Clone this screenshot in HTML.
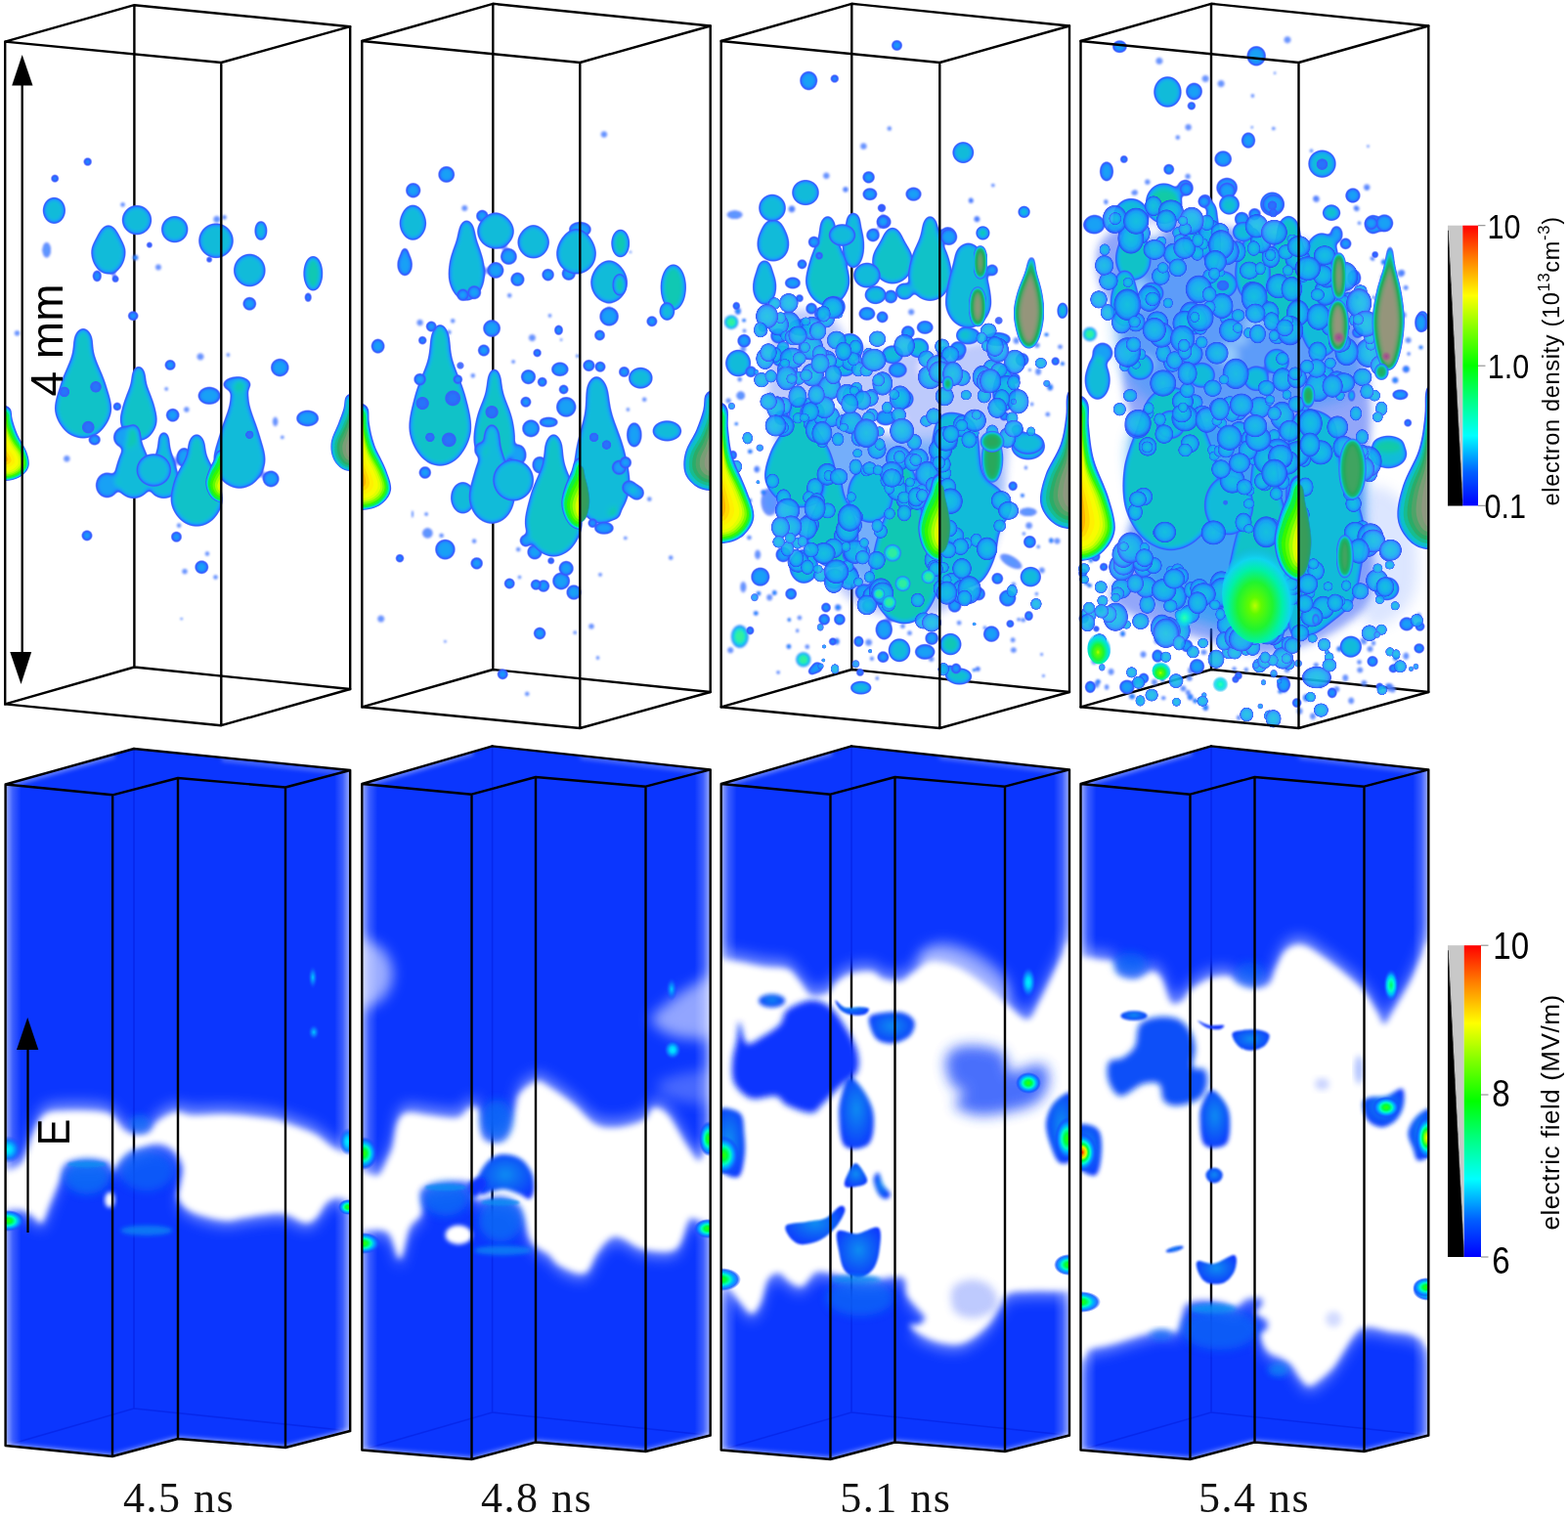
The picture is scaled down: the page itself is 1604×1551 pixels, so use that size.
<!DOCTYPE html>
<html lang="en"><head><meta charset="utf-8"><title>Electron density and electric field</title>
<style>
html,body{margin:0;padding:0;background:#fff;}
body{width:1604px;height:1551px;overflow:hidden;font-family:"Liberation Sans",sans-serif;}
svg{display:block;}
.w{fill:none;stroke:#000;stroke-width:2.4;stroke-linejoin:round;stroke-linecap:round;}
.ts{font-family:"Liberation Serif",serif;font-size:44px;fill:#111;}
.ta{font-family:"Liberation Sans",sans-serif;fill:#000;}
</style></head><body>
<svg width="1604" height="1551" viewBox="0 0 1604 1551">
<defs>

<linearGradient id="rb" x1="0" y1="1" x2="0" y2="0">
<stop offset="0" stop-color="#0000ff"/>
<stop offset="0.12" stop-color="#0060ff"/>
<stop offset="0.25" stop-color="#00ffff"/>
<stop offset="0.38" stop-color="#00ff80"/>
<stop offset="0.5" stop-color="#00ff00"/>
<stop offset="0.63" stop-color="#80ff00"/>
<stop offset="0.75" stop-color="#ffff00"/>
<stop offset="0.88" stop-color="#ff8000"/>
<stop offset="1" stop-color="#ff0000"/>
</linearGradient>
<linearGradient id="efl" x1="0" y1="0" x2="1" y2="0"><stop offset="0" stop-color="#000" stop-opacity="0.6"/><stop offset="0.12" stop-color="#000" stop-opacity="0.55"/><stop offset="0.5" stop-color="#000" stop-opacity="0.2"/><stop offset="1" stop-color="#000" stop-opacity="0"/></linearGradient>
<linearGradient id="efr" x1="1" y1="0" x2="0" y2="0"><stop offset="0" stop-color="#000" stop-opacity="0.6"/><stop offset="0.12" stop-color="#000" stop-opacity="0.55"/><stop offset="0.5" stop-color="#000" stop-opacity="0.2"/><stop offset="1" stop-color="#000" stop-opacity="0"/></linearGradient>
<filter id="bl05" x="-5%" y="-5%" width="110%" height="110%"><feGaussianBlur stdDeviation="0.6"/></filter>
<filter id="bl08" x="-5%" y="-5%" width="110%" height="110%"><feGaussianBlur stdDeviation="0.9"/></filter>
<filter id="bl1" x="-30%" y="-30%" width="160%" height="160%"><feGaussianBlur stdDeviation="1"/></filter>
<filter id="bl3" x="-30%" y="-30%" width="160%" height="160%"><feGaussianBlur stdDeviation="3"/></filter>
<filter id="bl2" x="-30%" y="-30%" width="160%" height="160%"><feGaussianBlur stdDeviation="2"/></filter>
<filter id="bl4" x="-30%" y="-30%" width="160%" height="160%"><feGaussianBlur stdDeviation="4"/></filter>
<filter id="bl7" x="-30%" y="-30%" width="160%" height="160%"><feGaussianBlur stdDeviation="7"/></filter>

<radialGradient id="bb" cx="0.5" cy="0.45" r="0.6">
<stop offset="0" stop-color="#0a8cf2"/><stop offset="0.5" stop-color="#0b60f6"/><stop offset="1" stop-color="#1236ff"/>
</radialGradient>
<radialGradient id="hc"><stop offset="0" stop-color="#00f0ff"/><stop offset="0.3" stop-color="#00d0ff"/><stop offset="0.65" stop-color="#0a78ff" stop-opacity="0.9"/><stop offset="1" stop-color="#1040ff" stop-opacity="0"/></radialGradient>
<radialGradient id="hc2"><stop offset="0" stop-color="#00c8ff"/><stop offset="0.5" stop-color="#0a78ff" stop-opacity="0.8"/><stop offset="1" stop-color="#1040ff" stop-opacity="0"/></radialGradient>
<radialGradient id="hg"><stop offset="0" stop-color="#30ff00"/><stop offset="0.25" stop-color="#00ff40"/><stop offset="0.45" stop-color="#00ffc0"/><stop offset="0.62" stop-color="#00b0ff"/><stop offset="0.82" stop-color="#1060ff" stop-opacity="0.9"/><stop offset="1" stop-color="#1040ff" stop-opacity="0"/></radialGradient>
<radialGradient id="hg2"><stop offset="0" stop-color="#00ff60"/><stop offset="0.35" stop-color="#00ffd0"/><stop offset="0.6" stop-color="#00b0ff"/><stop offset="1" stop-color="#1040ff" stop-opacity="0"/></radialGradient>
<radialGradient id="hy"><stop offset="0" stop-color="#ffff00"/><stop offset="0.2" stop-color="#a0ff00"/><stop offset="0.4" stop-color="#00ff40"/><stop offset="0.55" stop-color="#00ffd0"/><stop offset="0.7" stop-color="#00a0ff"/><stop offset="0.85" stop-color="#1060ff" stop-opacity="0.9"/><stop offset="1" stop-color="#1040ff" stop-opacity="0"/></radialGradient>
<radialGradient id="hr"><stop offset="0" stop-color="#ff2000"/><stop offset="0.15" stop-color="#ffb000"/><stop offset="0.28" stop-color="#e0ff00"/><stop offset="0.42" stop-color="#00ff40"/><stop offset="0.56" stop-color="#00ffd0"/><stop offset="0.7" stop-color="#00a0ff"/><stop offset="0.85" stop-color="#1060ff" stop-opacity="0.9"/><stop offset="1" stop-color="#1040ff" stop-opacity="0"/></radialGradient>

<radialGradient id="fs"><stop offset="0" stop-color="#3e84ff"/><stop offset="0.4" stop-color="#4a80ff"/><stop offset="0.7" stop-color="#5a80ff" stop-opacity="0.85"/><stop offset="1" stop-color="#5a80ff" stop-opacity="0"/></radialGradient>
<radialGradient id="fm"><stop offset="0" stop-color="#3e84ff"/><stop offset="0.38" stop-color="#3e84ff"/><stop offset="0.66" stop-color="#4a80ff"/><stop offset="0.86" stop-color="#5a80ff"/><stop offset="1" stop-color="#5a80ff" stop-opacity="0"/></radialGradient>
<radialGradient id="bs"><stop offset="0" stop-color="#1a9cfc"/><stop offset="0.4" stop-color="#2088ff"/><stop offset="0.7" stop-color="#3a60ff" stop-opacity="0.85"/><stop offset="1" stop-color="#3a60ff" stop-opacity="0"/></radialGradient>
<radialGradient id="bm"><stop offset="0" stop-color="#1a9cfc"/><stop offset="0.38" stop-color="#1a9cfc"/><stop offset="0.66" stop-color="#2088ff"/><stop offset="0.86" stop-color="#3a60ff"/><stop offset="1" stop-color="#3a60ff" stop-opacity="0"/></radialGradient>
<radialGradient id="cs"><stop offset="0" stop-color="#0cc4c0"/><stop offset="0.4" stop-color="#14a8f0"/><stop offset="0.7" stop-color="#3458ff" stop-opacity="0.85"/><stop offset="1" stop-color="#3458ff" stop-opacity="0"/></radialGradient>
<radialGradient id="cm"><stop offset="0" stop-color="#0cc4c0"/><stop offset="0.38" stop-color="#0cc4c0"/><stop offset="0.66" stop-color="#14a8f0"/><stop offset="0.86" stop-color="#3458ff"/><stop offset="1" stop-color="#3458ff" stop-opacity="0"/></radialGradient>
<radialGradient id="ks"><stop offset="0" stop-color="#2a6cff"/><stop offset="0.4" stop-color="#3060ff"/><stop offset="0.7" stop-color="#3a58ff" stop-opacity="0.85"/><stop offset="1" stop-color="#3a58ff" stop-opacity="0"/></radialGradient>
<radialGradient id="km"><stop offset="0" stop-color="#2a6cff"/><stop offset="0.38" stop-color="#2a6cff"/><stop offset="0.66" stop-color="#3060ff"/><stop offset="0.86" stop-color="#3a58ff"/><stop offset="1" stop-color="#3a58ff" stop-opacity="0"/></radialGradient>
<radialGradient id="hs"><stop offset="0" stop-color="#30f0a0"/><stop offset="0.4" stop-color="#10d8e8"/><stop offset="0.7" stop-color="#2a80ff" stop-opacity="0.85"/><stop offset="1" stop-color="#2a80ff" stop-opacity="0"/></radialGradient>
<radialGradient id="hm"><stop offset="0" stop-color="#30f0a0"/><stop offset="0.38" stop-color="#30f0a0"/><stop offset="0.66" stop-color="#10d8e8"/><stop offset="0.86" stop-color="#2a80ff"/><stop offset="1" stop-color="#2a80ff" stop-opacity="0"/></radialGradient>
<radialGradient id="ds"><stop offset="0" stop-color="#1aa6f8"/><stop offset="0.5" stop-color="#1e98fc"/><stop offset="0.78" stop-color="#2c5cff" stop-opacity="0.9"/><stop offset="1" stop-color="#3050ff" stop-opacity="0"/></radialGradient>
<radialGradient id="dm"><stop offset="0" stop-color="#12c0e0"/><stop offset="0.5" stop-color="#16b2ee"/><stop offset="0.74" stop-color="#1c98fa"/><stop offset="0.87" stop-color="#2468ff"/><stop offset="0.95" stop-color="#2a48f6"/><stop offset="1" stop-color="#2a48f6" stop-opacity="0"/></radialGradient>
<radialGradient id="HG" cx="0.45" cy="0.62" r="0.6"><stop offset="0" stop-color="#b8ff00"/><stop offset="0.14" stop-color="#60fa00"/><stop offset="0.4" stop-color="#20f430"/><stop offset="0.62" stop-color="#00f0a8"/><stop offset="0.8" stop-color="#10d4f0"/><stop offset="1" stop-color="#18b0f0" stop-opacity="0"/></radialGradient>
<radialGradient id="HC" cx="0.5" cy="0.5" r="0.5"><stop offset="0" stop-color="#30ffb0"/><stop offset="0.35" stop-color="#10f0d0"/><stop offset="0.7" stop-color="#10d0f0" stop-opacity="0.8"/><stop offset="1" stop-color="#18b0f0" stop-opacity="0"/></radialGradient>
<radialGradient id="MG"><stop offset="0" stop-color="#a04890"/><stop offset="0.5" stop-color="#a06088" stop-opacity="0.8"/><stop offset="1" stop-color="#909080" stop-opacity="0"/></radialGradient>
<filter id="fc" x="-5%" y="-5%" width="110%" height="110%" color-interpolation-filters="sRGB"><feGaussianBlur in="SourceAlpha" stdDeviation="2.4" result="bl"/><feComponentTransfer in="bl" result="al"><feFuncA type="table" tableValues="0 0 0 0 0 0 0 0 0 0.0396 0.237 0.435 0.633 0.831 0.958 0.979 1 1 1 1 1 1 1 1 1 1 1 1 1 1 1 1 1 1 1 1 1 1 1 1 1"/></feComponentTransfer><feColorMatrix in="bl" type="matrix" values="0 0 0 1 0 0 0 0 1 0 0 0 0 1 0 0 0 0 0 1"/><feComponentTransfer><feFuncR type="table" tableValues="0.275 0.275 0.275 0.275 0.275 0.275 0.275 0.275 0.275 0.272 0.261 0.249 0.238 0.226 0.214 0.201 0.188 0.171 0.154 0.137 0.127 0.119 0.111 0.104 0.0988 0.0949 0.091 0.0871 0.0831 0.0792 0.0753 0.0714 0.0686 0.0662 0.0637 0.0627 0.0627 0.0627 0.0695 0.0779 0.0863"/><feFuncG type="table" tableValues="0.376 0.376 0.376 0.376 0.376 0.376 0.376 0.376 0.376 0.375 0.371 0.366 0.361 0.356 0.357 0.367 0.376 0.416 0.455 0.494 0.522 0.548 0.573 0.599 0.618 0.636 0.653 0.671 0.685 0.699 0.713 0.727 0.737 0.747 0.757 0.766 0.774 0.783 0.791 0.799 0.808"/><feFuncB type="table" tableValues="1 1 1 1 1 1 1 1 1 1 1 1 1 1 1 1 1 1 1 1 0.996 0.991 0.986 0.981 0.971 0.959 0.947 0.936 0.921 0.905 0.889 0.874 0.853 0.831 0.809 0.78 0.746 0.713 0.672 0.63 0.588"/></feComponentTransfer><feComposite in2="al" operator="in"/></filter>
<filter id="fh" x="-5%" y="-5%" width="110%" height="110%" color-interpolation-filters="sRGB"><feGaussianBlur in="SourceAlpha" stdDeviation="6" result="bl"/><feComponentTransfer in="bl" result="al"><feFuncA type="table" tableValues="0 0 0 0 0 0 0 0 0 0 0 0.297 0.594 0.891 0.97 0.995 1 1 1 1 1 1 1 1 1 1 1 1 1 1 1 1 1 1 1 1 1 1 1 1 1"/></feComponentTransfer><feColorMatrix in="bl" type="matrix" values="0 0 0 1 0 0 0 0 1 0 0 0 0 1 0 0 0 0 0 1"/><feComponentTransfer><feFuncR type="table" tableValues="0.275 0.275 0.275 0.275 0.275 0.275 0.275 0.275 0.275 0.275 0.275 0.257 0.24 0.223 0.163 0.0925 0.0471 0.00784 0.0112 0.0252 0.0392 0.0719 0.105 0.137 0.17 0.21 0.28 0.35 0.42 0.49 0.56 0.627 0.693 0.758 0.824 0.889 0.93 0.965 1 1 1"/><feFuncG type="table" tableValues="0.376 0.376 0.376 0.376 0.376 0.376 0.376 0.376 0.376 0.376 0.376 0.381 0.386 0.391 0.518 0.675 0.792 0.9 0.927 0.934 0.941 0.949 0.958 0.966 0.974 0.981 0.985 0.988 0.992 0.995 0.999 1 1 1 1 1 0.983 0.962 0.941 0.863 0.784"/><feFuncB type="table" tableValues="1 1 1 1 1 1 1 1 1 1 1 1 1 1 1 1 0.914 0.806 0.661 0.507 0.353 0.288 0.222 0.157 0.0915 0.0378 0.0308 0.0238 0.0168 0.0098 0.0028 0 0 0 0 0 0 0 0 0 0"/></feComponentTransfer><feComposite in2="al" operator="in"/></filter>
<filter id="fl" x="-5%" y="-5%" width="110%" height="110%" color-interpolation-filters="sRGB"><feGaussianBlur in="SourceAlpha" stdDeviation="4" result="bl"/><feComponentTransfer in="bl" result="al"><feFuncA type="table" tableValues="0 0 0 0 0 0 0 0 0 0 0 0.297 0.594 0.891 0.97 0.995 1 1 1 1 1 1 1 1 1 1 1 1 1 1 1 1 1 1 1 1 1 1 1 1 1"/></feComponentTransfer><feColorMatrix in="bl" type="matrix" values="0 0 0 1 0 0 0 0 1 0 0 0 0 1 0 0 0 0 0 1"/><feComponentTransfer><feFuncR type="table" tableValues="0.275 0.275 0.275 0.275 0.275 0.275 0.275 0.275 0.275 0.275 0.275 0.257 0.24 0.223 0.163 0.0925 0.0471 0.00784 0.00871 0.0196 0.0305 0.0441 0.0686 0.0931 0.118 0.142 0.167 0.191 0.245 0.306 0.368 0.429 0.49 0.551 0.613 0.674 0.735 0.797 0.858 0.919 0.98"/><feFuncG type="table" tableValues="0.376 0.376 0.376 0.376 0.376 0.376 0.376 0.376 0.376 0.376 0.376 0.381 0.386 0.391 0.518 0.675 0.792 0.9 0.93 0.941 0.952 0.962 0.968 0.974 0.98 0.987 0.993 0.999 1 1 1 1 1 1 1 1 1 1 1 1 1"/><feFuncB type="table" tableValues="1 1 1 1 1 1 1 1 1 1 1 1 1 1 1 1 0.914 0.806 0.662 0.51 0.357 0.228 0.191 0.154 0.118 0.0809 0.0441 0.00735 0 0 0 0 0 0 0 0 0 0 0 0 0"/></feComponentTransfer><feComposite in2="al" operator="in"/></filter>
<filter id="fo" x="-5%" y="-5%" width="110%" height="110%" color-interpolation-filters="sRGB"><feGaussianBlur in="SourceAlpha" stdDeviation="3.5" result="bl"/><feComponentTransfer in="bl" result="al"><feFuncA type="table" tableValues="0 0 0 0 0 0 0 0 0 0 0 0.297 0.594 0.891 0.964 0.982 1 1 1 1 1 1 1 1 1 1 1 1 1 1 1 1 1 1 1 1 1 1 1 1 1"/></feComponentTransfer><feColorMatrix in="bl" type="matrix" values="0 0 0 1 0 0 0 0 1 0 0 0 0 1 0 0 0 0 0 1"/><feComponentTransfer><feFuncR type="table" tableValues="0.275 0.275 0.275 0.275 0.275 0.275 0.275 0.275 0.275 0.275 0.275 0.257 0.24 0.223 0.184 0.139 0.0941 0.0843 0.0745 0.0647 0.0659 0.0698 0.0737 0.0776 0.0896 0.104 0.118 0.132 0.146 0.165 0.204 0.243 0.282 0.322 0.361 0.399 0.437 0.475 0.513 0.55 0.588"/><feFuncG type="table" tableValues="0.376 0.376 0.376 0.376 0.376 0.376 0.376 0.376 0.376 0.376 0.376 0.381 0.386 0.391 0.459 0.543 0.627 0.672 0.716 0.76 0.761 0.751 0.741 0.731 0.719 0.707 0.694 0.682 0.669 0.658 0.652 0.646 0.641 0.635 0.63 0.623 0.616 0.609 0.602 0.595 0.588"/><feFuncB type="table" tableValues="1 1 1 1 1 1 1 1 1 1 1 1 1 1 0.994 0.987 0.98 0.919 0.858 0.797 0.722 0.643 0.565 0.486 0.454 0.433 0.412 0.391 0.37 0.355 0.365 0.375 0.384 0.394 0.404 0.416 0.43 0.444 0.458 0.472 0.486"/></feComponentTransfer><feComposite in2="al" operator="in"/></filter>
<filter id="fd" x="-5%" y="-5%" width="110%" height="110%" color-interpolation-filters="sRGB"><feGaussianBlur in="SourceAlpha" stdDeviation="2" result="bl"/><feComponentTransfer in="bl" result="al"><feFuncA type="table" tableValues="0 0 0 0 0 0 0 0 0 0 0 0.238 0.475 0.713 0.95 0.958 0.967 0.975 0.983 0.992 1 1 1 1 1 1 1 1 1 1 1 1 1 1 1 1 1 1 1 1 1"/></feComponentTransfer><feColorMatrix in="bl" type="matrix" values="0 0 0 1 0 0 0 0 1 0 0 0 0 1 0 0 0 0 0 1"/><feComponentTransfer><feFuncR type="table" tableValues="0.157 0.157 0.157 0.157 0.157 0.157 0.157 0.157 0.157 0.157 0.157 0.147 0.137 0.127 0.118 0.122 0.125 0.129 0.133 0.137 0.141 0.145 0.149 0.153 0.157 0.161 0.165 0.169 0.173 0.176 0.18 0.184 0.188 0.192 0.196 0.2 0.204 0.208 0.212 0.216 0.22"/><feFuncG type="table" tableValues="0.549 0.549 0.549 0.549 0.549 0.549 0.549 0.549 0.549 0.549 0.549 0.559 0.569 0.578 0.588 0.595 0.601 0.608 0.614 0.621 0.627 0.627 0.626 0.625 0.624 0.624 0.623 0.622 0.621 0.62 0.62 0.619 0.618 0.617 0.616 0.616 0.615 0.614 0.613 0.613 0.612"/><feFuncB type="table" tableValues="0.784 0.784 0.784 0.784 0.784 0.784 0.784 0.784 0.784 0.784 0.784 0.775 0.765 0.755 0.745 0.693 0.641 0.588 0.536 0.484 0.431 0.427 0.424 0.42 0.416 0.412 0.408 0.404 0.4 0.396 0.392 0.388 0.384 0.38 0.376 0.373 0.369 0.365 0.361 0.357 0.353"/></feComponentTransfer><feComposite in2="al" operator="in"/></filter>
</defs>
<rect width="1604" height="1551" fill="#fff"/>
<g id="top1">
<path class="w" d="M5.2,42.6 L137.4,5.2 L358.2,27.2 M5.2,720.4 L137.4,682.5 L358.2,705 M137.4,5.2 L137.4,682.5"/>
<clipPath id="cb0"><rect x="5.2" y="0" width="353" height="760"/></clipPath><clipPath id="cl0"><rect x="5.2" y="0" width="221.1" height="760"/></clipPath><clipPath id="cr0"><rect x="226.3" y="0" width="131.9" height="760"/></clipPath>
<g filter="url(#bl08)"><g fill="url(#fs)" opacity=".85"><circle cx="125.6" cy="209.4" r="2.8"/><circle cx="221.8" cy="224.4" r="4.3"/><circle cx="229.5" cy="222.3" r="2.8"/></g><g fill="url(#fm)" opacity=".85"><ellipse cx="47.7" cy="255.8" rx="4.8" ry="8.5"/></g><g fill="url(#bs)"><circle cx="138.5" cy="263.6" r="3.4"/></g><g fill="url(#fs)" opacity=".85"><circle cx="162" cy="273.4" r="3.7"/><circle cx="17.5" cy="340.9" r="3.4"/><circle cx="205" cy="364.9" r="4.3"/><circle cx="233.4" cy="363.1" r="2.3"/><circle cx="170.2" cy="397.9" r="2.3"/><circle cx="190.8" cy="419" r="3.4"/><ellipse cx="281.6" cy="431.4" rx="3.4" ry="5.7"/><circle cx="68.3" cy="469.3" r="4"/><circle cx="189" cy="584.6" r="3.4"/><circle cx="212" cy="566.5" r="2.8"/><circle cx="220.5" cy="590.5" r="2.8"/><circle cx="183.1" cy="537.6" r="2.8"/><circle cx="288.8" cy="447.4" r="2.3"/><circle cx="185.7" cy="633.1" r="1.7"/></g></g>
<g filter="url(#fc)">
<g fill-opacity="0.62"><circle cx="89.7" cy="165.6" r="4.6"/><ellipse cx="99.3" cy="282.4" rx="4.6" ry="6.4"/><ellipse cx="315.2" cy="304.3" rx="3.6" ry="5.7"/><circle cx="286.3" cy="376" r="9.3"/><ellipse cx="242.4" cy="393.2" rx="14.2" ry="7.7"/><circle cx="277.2" cy="489.9" r="8.5"/></g>
<g fill-opacity="0.8"><circle cx="178.7" cy="234.7" r="12.9"/><path d="M245,388.1C247.4,388.1 250.5,390.9 252.1,395.5C253.8,400.1 252.8,407.8 254.8,415.8C256.8,423.8 261.5,434.3 264.2,443.5C266.8,452.7 271,463.2 270.6,471.2C270.2,479.2 266,486.9 261.7,491.5C257.5,496.1 250.6,498.9 245,498.9C239.4,498.9 232.5,496.1 228.3,491.5C224,486.9 219.8,479.2 219.4,471.2C219,463.2 223.2,452.7 225.9,443.5C228.5,434.3 233.2,423.8 235.2,415.8C237.2,407.8 236.2,400.1 237.9,395.5C239.5,390.9 242.6,388.1 245,388.1Z"/></g>
<g fill-opacity="0.87"><path d="M85.1,336.5C87.6,336.5 90.9,339.3 92.7,343.9C94.5,348.5 93.5,356.2 95.9,364.2C98.2,372.2 103.9,382.7 106.8,391.9C109.6,401.2 113.7,411.6 113.1,419.6C112.4,427.6 107.6,435.3 103,439.9C98.3,444.6 91.1,447.4 85.1,447.4C79.2,447.4 71.9,444.6 67.2,439.9C62.6,435.3 57.8,427.6 57.1,419.6C56.5,411.6 60.6,401.2 63.4,391.9C66.3,382.7 72,372.2 74.3,364.2C76.7,356.2 75.7,348.5 77.5,343.9C79.3,339.3 82.6,336.5 85.1,336.5Z"/><path d="M141.8,375.2C143.5,375.2 145.7,377.1 146.9,380.2C148.2,383.3 147.8,388.5 149.3,393.9C150.9,399.3 154.5,406.3 156.2,412.6C157.9,418.8 160.1,425.9 159.6,431.3C159.1,436.6 156.2,441.8 153.2,444.9C150.2,448.1 145.6,449.9 141.8,449.9C138.1,449.9 133.4,448.1 130.5,444.9C127.5,441.8 124.5,436.6 124,431.3C123.5,425.9 125.8,418.8 127.5,412.6C129.2,406.3 132.8,399.3 134.3,393.9C135.9,388.5 135.5,383.3 136.8,380.2C138,377.1 140.2,375.2 141.8,375.2Z"/></g>
</g>
<g filter="url(#fc)">
<g fill-opacity="0.62"><circle cx="56.2" cy="182.6" r="4.4"/><circle cx="118.1" cy="285.5" r="3.9"/><circle cx="255.3" cy="310.8" r="7"/><circle cx="176.7" cy="424.7" r="7"/><circle cx="89" cy="547.9" r="5.7"/><ellipse cx="96.7" cy="449.9" rx="6.4" ry="5.7"/><ellipse cx="128.9" cy="447.4" rx="12.9" ry="11.6"/><ellipse cx="109.6" cy="496.4" rx="11.6" ry="12.9"/><ellipse cx="188.3" cy="468" rx="7.7" ry="10.3"/></g>
<g fill-opacity="0.8"><circle cx="221" cy="246.3" r="17"/><path d="M110.9,230.8C112.9,230.8 114.9,232.1 116.8,234.1C118.7,236.1 120.4,239.5 122.2,243.1C124,246.6 126.8,251.2 127.5,255.3C128.1,259.4 127.2,264 125.9,267.6C124.6,271.1 122.2,274.5 119.7,276.5C117.2,278.6 113.8,279.8 110.9,279.8C108,279.8 104.6,278.6 102.1,276.5C99.6,274.5 97.2,271.1 95.9,267.6C94.6,264 93.7,259.4 94.3,255.3C94.9,251.2 97.8,246.6 99.6,243.1C101.4,239.5 103.1,236.1 105,234.1C106.9,232.1 108.9,230.8 110.9,230.8Z"/><path d="M136.7,434.5C138.5,434.5 140.8,436.4 142.1,439.5C143.4,442.6 143.1,447.8 144.7,453.2C146.4,458.6 150.2,465.6 152.1,471.9C153.9,478.1 156.3,485.2 155.8,490.6C155.2,496 152,501.1 148.9,504.3C145.7,507.4 140.7,509.3 136.7,509.3C132.6,509.3 127.7,507.4 124.5,504.3C121.3,501.1 118.1,496 117.6,490.6C117.1,485.2 119.5,478.1 121.3,471.9C123.2,465.6 127,458.6 128.7,453.2C130.3,447.8 129.9,442.6 131.3,439.5C132.6,436.4 134.9,434.5 136.7,434.5Z"/><path d="M167.6,442.2C169.1,442.2 170.9,443.9 171.9,446.7C172.9,449.5 172.5,454.1 173.6,459C174.7,463.8 177,470.2 178.6,475.7C180.2,481.3 183,487.7 183,492.5C183.1,497.3 181.3,502 178.8,504.8C176.2,507.6 171.3,509.3 167.6,509.3C163.9,509.3 159.1,507.6 156.5,504.8C153.9,502 152.2,497.3 152.2,492.5C152.3,487.7 155.1,481.3 156.7,475.7C158.2,470.2 160.5,463.8 161.6,459C162.8,454.1 162.3,449.5 163.3,446.7C164.3,443.9 166.2,442.2 167.6,442.2Z"/></g>
</g>
<g filter="url(#fc)">
<g fill-opacity="0.8"><ellipse cx="55.4" cy="215.3" rx="10.8" ry="12.9"/><ellipse cx="266.9" cy="236" rx="5.7" ry="9.8"/></g>
<g fill-opacity="0.62"><circle cx="214.1" cy="265.6" r="3.6"/><ellipse cx="136.2" cy="323.1" rx="5.7" ry="5.2"/><circle cx="119.9" cy="415.9" r="4.6"/><circle cx="180.5" cy="549.2" r="5.7"/></g>
<g fill-opacity="0.93"><ellipse cx="320.3" cy="279.8" rx="8.8" ry="17"/></g>
<g fill-opacity="0.87"><path d="M201.2,444.8C203.3,444.8 206,447.1 207.7,451C209.4,454.9 208.8,461.3 211.3,468C213.8,474.7 220.4,483.5 222.9,491.2C225.4,498.9 227.4,507.7 226.4,514.4C225.3,521.1 220.8,527.5 216.6,531.4C212.4,535.3 206.3,537.6 201.2,537.6C196,537.6 189.9,535.3 185.7,531.4C181.5,527.5 177,521.1 176,514.4C174.9,507.7 176.9,498.9 179.4,491.2C181.9,483.5 188.5,474.7 191,468C193.6,461.3 192.9,454.9 194.6,451C196.3,447.1 199,444.8 201.2,444.8Z"/></g>
</g>
<g filter="url(#fc)">
<g fill-opacity="0.8"><circle cx="140" cy="225.1" r="14.4"/><ellipse cx="255.3" cy="276.5" rx="15.5" ry="16"/><ellipse cx="157.3" cy="480.9" rx="17" ry="16"/></g>
<g fill-opacity="0.62"><circle cx="152.9" cy="250.7" r="3.6"/><circle cx="174.1" cy="373.4" r="5.7"/><ellipse cx="214.1" cy="404.8" rx="11.6" ry="9"/><ellipse cx="314.6" cy="428" rx="11.6" ry="8.3"/><circle cx="206.3" cy="580.2" r="7"/></g>
</g>
<g filter="url(#bl05)" opacity="0.9"><g fill="url(#km)"><circle cx="98" cy="395.8" r="6.2"/><circle cx="65.8" cy="400.9" r="5.7"/><circle cx="90.3" cy="437.1" r="6.8"/><circle cx="255.3" cy="444.8" r="4.5"/></g></g>
<g clip-path="url(#cb0)"><g filter="url(#bl05)"><path d="M5.2,415C7.1,415 9.8,416.4 11,418.8C12.3,421.2 11.7,425.1 12.9,429.5C14.1,433.8 15.8,439.5 18.2,444.9C20.6,450.4 25.4,456.6 27.2,462.1C29.1,467.5 30.6,473.2 29.4,477.5C28.2,481.9 24.2,485.8 20.1,488.2C16.1,490.6 10.2,492 5.2,492C0.2,492 -5.7,490.6 -9.7,488.2C-13.8,485.8 -17.8,481.9 -19,477.5C-20.2,473.2 -18.7,467.5 -16.8,462.1C-15,456.6 -10.2,450.4 -7.8,444.9C-5.4,439.5 -3.7,433.8 -2.5,429.5C-1.3,425.1 -1.9,421.2 -0.6,418.8C0.6,416.4 3.3,415 5.2,415Z" fill="#3458ff"/><path d="M5.2,416.9C6.9,416.9 9.2,418.3 10.4,420.6C11.5,422.9 10.8,426.7 12,430.9C13.1,435.1 15,440.6 17.4,445.8C19.8,451 24.5,457.1 26.4,462.3C28.2,467.6 29.7,473 28.6,477.2C27.5,481.4 23.5,485.2 19.6,487.5C15.7,489.9 10,491.2 5.2,491.2C0.4,491.2 -5.3,489.9 -9.2,487.5C-13.1,485.2 -17.1,481.4 -18.2,477.2C-19.3,473 -17.8,467.6 -16,462.3C-14.1,457.1 -9.4,451 -7,445.8C-4.6,440.6 -2.7,435.1 -1.6,430.9C-0.4,426.7 -1.1,422.9 0,420.6C1.2,418.3 3.5,416.9 5.2,416.9Z" fill="#10b0ff"/><path d="M5.2,418.6C6.7,418.6 8.8,419.9 9.8,422.1C10.8,424.4 10.1,428.1 11.2,432.1C12.4,436.2 14.2,441.5 16.6,446.5C19,451.6 23.7,457.5 25.6,462.6C27.5,467.6 28.9,472.9 27.9,477C26.8,481.1 22.9,484.7 19.2,487C15.4,489.2 9.9,490.5 5.2,490.5C0.5,490.5 -5,489.2 -8.8,487C-12.5,484.7 -16.4,481.1 -17.5,477C-18.5,472.9 -17.1,467.6 -15.2,462.6C-13.3,457.5 -8.6,451.6 -6.2,446.5C-3.8,441.5 -2,436.2 -0.8,432.1C0.3,428.1 -0.4,424.4 0.6,422.1C1.6,419.9 3.7,418.6 5.2,418.6Z" fill="#00e8c0"/><path d="M5.2,420.5C6.5,420.5 8.2,421.8 9,423.9C9.9,426.1 9.2,429.6 10.4,433.5C11.5,437.5 13.3,442.5 15.7,447.4C18.1,452.3 22.9,457.9 24.7,462.8C26.6,467.7 28,472.8 27,476.7C26,480.6 22.3,484.1 18.6,486.3C15,488.5 9.7,489.8 5.2,489.8C0.7,489.8 -4.6,488.5 -8.2,486.3C-11.9,484.1 -15.6,480.6 -16.6,476.7C-17.6,472.8 -16.2,467.7 -14.3,462.8C-12.5,457.9 -7.7,452.3 -5.3,447.4C-2.9,442.5 -1.1,437.5 0,433.5C1.2,429.6 0.5,426.1 1.4,423.9C2.2,421.8 3.9,420.5 5.2,420.5Z" fill="#10f050"/><path d="M5.2,423.8C6,423.8 6.9,425 7.5,427C8.1,429 7.7,432.3 8.9,436C10,439.6 11.8,444.4 14.2,448.9C16.6,453.5 21.4,458.7 23.2,463.3C25.1,467.8 26.5,472.6 25.5,476.2C24.6,479.9 21.1,483.2 17.7,485.2C14.4,487.2 9.4,488.4 5.2,488.4C1,488.4 -4,487.2 -7.3,485.2C-10.7,483.2 -14.2,479.9 -15.1,476.2C-16.1,472.6 -14.7,467.8 -12.8,463.3C-11,458.7 -6.2,453.5 -3.8,448.9C-1.4,444.4 0.4,439.6 1.5,436C2.7,432.3 2.3,429 2.9,427C3.5,425 4.4,423.8 5.2,423.8Z" fill="#38f800"/><path d="M5.2,427.1C5.5,427.1 5.9,428.2 6.2,430.1C6.6,431.9 6.5,435 7.6,438.4C8.7,441.8 10.5,446.2 12.9,450.4C15.2,454.6 19.9,459.5 21.8,463.7C23.6,468 24.9,472.4 24.1,475.8C23.3,479.2 20,482.2 16.8,484.1C13.7,486 9.1,487.1 5.2,487.1C1.3,487.1 -3.3,486 -6.4,484.1C-9.6,482.2 -12.9,479.2 -13.7,475.8C-14.5,472.4 -13.2,468 -11.4,463.7C-9.5,459.5 -4.8,454.6 -2.5,450.4C-0.1,446.2 1.7,441.8 2.8,438.4C3.9,435 3.8,431.9 4.2,430.1C4.5,428.2 4.9,427.1 5.2,427.1Z" fill="#78fc00"/><path d="M5.2,430.9C5.5,430.9 5.8,431.9 6.2,433.6C6.5,435.4 6.3,438.1 7.4,441.2C8.4,444.3 10,448.3 12.2,452.1C14.3,456 18.6,460.4 20.3,464.3C22,468.1 23.1,472.1 22.4,475.2C21.7,478.3 18.7,481.1 15.8,482.8C12.9,484.5 8.7,485.5 5.2,485.5C1.7,485.5 -2.5,484.5 -5.4,482.8C-8.3,481.1 -11.3,478.3 -12,475.2C-12.7,472.1 -11.6,468.1 -9.9,464.3C-8.2,460.4 -3.9,456 -1.8,452.1C0.4,448.3 2,444.3 3,441.2C4.1,438.1 3.9,435.4 4.2,433.6C4.6,431.9 4.9,430.9 5.2,430.9Z" fill="#b4ff00"/><path d="M5.2,434.8C5.5,434.8 5.7,435.7 6.1,437.2C6.4,438.8 6.2,441.3 7.1,444C8,446.8 9.6,450.4 11.5,453.9C13.4,457.3 17.3,461.4 18.8,464.8C20.3,468.3 21.4,471.9 20.7,474.7C20,477.4 17.3,479.9 14.8,481.5C12.2,483 8.4,483.9 5.2,483.9C2,483.9 -1.8,483 -4.4,481.5C-6.9,479.9 -9.6,477.4 -10.3,474.7C-11,471.9 -9.9,468.3 -8.4,464.8C-6.9,461.4 -3,457.3 -1.1,453.9C0.8,450.4 2.4,446.8 3.3,444C4.2,441.3 4,438.8 4.3,437.2C4.7,435.7 4.9,434.8 5.2,434.8Z" fill="#e0ff00"/><path d="M5.2,439.8C5.4,439.8 5.7,440.5 5.9,441.8C6.2,443.2 6.1,445.3 6.9,447.7C7.6,450.1 8.9,453.2 10.6,456.1C12.3,459.1 15.6,462.5 16.9,465.5C18.2,468.5 19.1,471.6 18.5,473.9C17.9,476.3 15.6,478.5 13.4,479.8C11.2,481.1 7.9,481.9 5.2,481.9C2.5,481.9 -0.8,481.1 -3,479.8C-5.2,478.5 -7.5,476.3 -8.1,473.9C-8.7,471.6 -7.8,468.5 -6.5,465.5C-5.2,462.5 -1.9,459.1 -0.2,456.1C1.5,453.2 2.8,450.1 3.5,447.7C4.3,445.3 4.2,443.2 4.5,441.8C4.7,440.5 5,439.8 5.2,439.8Z" fill="#f8fc00"/><path d="M5.2,448C5.4,448 5.5,448.6 5.7,449.5C5.9,450.5 5.8,452 6.4,453.7C7,455.5 7.9,457.7 9.1,459.9C10.4,462 12.7,464.5 13.7,466.6C14.7,468.8 15.3,471 14.9,472.8C14.5,474.5 12.8,476 11.2,477C9.6,477.9 7.2,478.5 5.2,478.5C3.2,478.5 0.8,477.9 -0.8,477C-2.4,476 -4.1,474.5 -4.5,472.8C-4.9,471 -4.3,468.8 -3.3,466.6C-2.3,464.5 0,462 1.3,459.9C2.5,457.7 3.4,455.5 4,453.7C4.6,452 4.5,450.5 4.7,449.5C4.9,448.6 5,448 5.2,448Z" fill="#fff000"/><path d="M5.2,455.7C5.3,455.7 5.4,456.1 5.5,456.7C5.7,457.3 5.6,458.3 6,459.4C6.4,460.5 7,462 7.8,463.3C8.5,464.7 10.1,466.3 10.7,467.7C11.3,469.1 11.8,470.5 11.5,471.7C11.2,472.8 10.1,473.8 9.1,474.4C8,475 6.5,475.4 5.2,475.4C3.9,475.4 2.4,475 1.3,474.4C0.3,473.8 -0.8,472.8 -1.1,471.7C-1.4,470.5 -0.9,469.1 -0.3,467.7C0.3,466.3 1.9,464.7 2.6,463.3C3.4,462 4,460.5 4.4,459.4C4.8,458.3 4.7,457.3 4.9,456.7C5,456.1 5.1,455.7 5.2,455.7Z" fill="#ffd800"/><path d="M5.2,462.9C5.3,462.9 5.3,463 5.4,463.3C5.4,463.6 5.4,464.1 5.6,464.7C5.8,465.2 6.1,465.9 6.5,466.6C6.9,467.2 7.7,468 8,468.7C8.3,469.4 8.5,470.1 8.3,470.6C8.2,471.2 7.7,471.7 7.1,472C6.6,472.3 5.8,472.4 5.2,472.4C4.6,472.4 3.8,472.3 3.3,472C2.7,471.7 2.2,471.2 2.1,470.6C1.9,470.1 2.1,469.4 2.4,468.7C2.7,468 3.5,467.2 3.9,466.6C4.3,465.9 4.6,465.2 4.8,464.7C5,464.1 5,463.6 5,463.3C5.1,463 5.1,462.9 5.2,462.9Z" fill="#ffb400"/></g></g>
<g clip-path="url(#cl0)"><g filter="url(#bl05)"><path d="M226.3,460C227.8,460 229.7,461 230.9,462.7C232.2,464.4 232.5,467.1 233.8,470.2C235.2,473.2 237.6,477.2 239,481C240.4,484.8 242.1,489.2 242.3,493C242.4,496.8 241.3,500.8 239.9,503.8C238.5,506.9 236.3,509.6 234,511.3C231.7,513 228.9,514 226.3,514C223.7,514 220.9,513 218.6,511.3C216.3,509.6 214.1,506.9 212.7,503.8C211.3,500.8 210.2,496.8 210.3,493C210.5,489.2 212.2,484.8 213.6,481C215,477.2 217.4,473.2 218.8,470.2C220.1,467.1 220.4,464.4 221.7,462.7C222.9,461 224.8,460 226.3,460Z" fill="#3458ff"/><path d="M226.3,461.8C227.7,461.8 229.2,462.7 230.4,464.3C231.5,465.9 231.7,468.5 233,471.5C234.3,474.4 236.8,478.2 238.2,481.8C239.6,485.4 241.3,489.6 241.5,493.3C241.7,496.9 240.5,500.7 239.2,503.6C237.9,506.5 235.8,509.1 233.6,510.7C231.5,512.3 228.7,513.3 226.3,513.3C223.9,513.3 221.1,512.3 219,510.7C216.8,509.1 214.7,506.5 213.4,503.6C212.1,500.7 210.9,496.9 211.1,493.3C211.3,489.6 213,485.4 214.4,481.8C215.8,478.2 218.3,474.4 219.6,471.5C220.9,468.5 221.1,465.9 222.2,464.3C223.4,462.7 224.9,461.8 226.3,461.8Z" fill="#10b0ff"/><path d="M226.3,463.5C227.4,463.5 228.7,464.4 229.7,465.9C230.7,467.5 230.9,470 232.2,472.8C233.5,475.5 236,479.1 237.4,482.6C238.8,486 240.5,490 240.7,493.5C240.9,497 239.8,500.6 238.5,503.3C237.3,506.1 235.3,508.6 233.2,510.1C231.2,511.7 228.6,512.6 226.3,512.6C224,512.6 221.4,511.7 219.4,510.1C217.3,508.6 215.3,506.1 214.1,503.3C212.8,500.6 211.7,497 211.9,493.5C212.1,490 213.8,486 215.2,482.6C216.6,479.1 219.1,475.5 220.4,472.8C221.7,470 221.9,467.5 222.9,465.9C223.9,464.4 225.2,463.5 226.3,463.5Z" fill="#00e8c0"/><path d="M226.3,465.6C227.2,465.6 228,466.5 228.9,467.9C229.7,469.4 230,471.7 231.3,474.3C232.5,476.9 235,480.3 236.5,483.5C237.9,486.8 239.5,490.5 239.7,493.8C239.9,497 238.9,500.4 237.7,503C236.5,505.6 234.7,508 232.8,509.4C230.9,510.9 228.5,511.7 226.3,511.7C224.1,511.7 221.7,510.9 219.8,509.4C217.9,508 216.1,505.6 214.9,503C213.7,500.4 212.7,497 212.9,493.8C213.1,490.5 214.7,486.8 216.1,483.5C217.6,480.3 220.1,476.9 221.3,474.3C222.6,471.7 222.9,469.4 223.7,467.9C224.6,466.5 225.4,465.6 226.3,465.6Z" fill="#10f040"/><path d="M226.3,470.6C226.6,470.6 226.6,471.3 227.2,472.5C227.7,473.7 228.2,475.7 229.4,477.9C230.7,480.1 233,483 234.4,485.8C235.7,488.5 237.3,491.7 237.5,494.5C237.7,497.2 236.8,500.1 235.8,502.3C234.8,504.5 233.3,506.5 231.7,507.7C230.1,509 228.1,509.7 226.3,509.7C224.5,509.7 222.5,509 220.9,507.7C219.3,506.5 217.8,504.5 216.8,502.3C215.8,500.1 214.9,497.2 215.1,494.5C215.3,491.7 216.9,488.5 218.2,485.8C219.6,483 221.9,480.1 223.2,477.9C224.4,475.7 224.9,473.7 225.4,472.5C226,471.3 226,470.6 226.3,470.6Z" fill="#30f800"/><path d="M226.3,475.8C226.5,475.8 226.6,476.4 227,477.4C227.4,478.4 227.8,480 228.8,481.8C229.7,483.6 231.6,485.9 232.6,488.2C233.7,490.4 234.9,493 235.1,495.2C235.3,497.4 234.5,499.8 233.8,501.6C233,503.3 231.8,505 230.5,506C229.3,506.9 227.7,507.5 226.3,507.5C224.9,507.5 223.3,506.9 222.1,506C220.8,505 219.6,503.3 218.8,501.6C218.1,499.8 217.3,497.4 217.5,495.2C217.7,493 218.9,490.4 220,488.2C221,485.9 222.9,483.6 223.8,481.8C224.8,480 225.2,478.4 225.6,477.4C226,476.4 226.1,475.8 226.3,475.8Z" fill="#60fc00"/><path d="M226.3,481.1C226.5,481.1 226.5,481.6 226.8,482.3C227.1,483.1 227.4,484.3 228.1,485.7C228.8,487.1 230.1,488.8 230.9,490.5C231.7,492.3 232.6,494.2 232.7,495.9C232.8,497.6 232.3,499.4 231.7,500.8C231.2,502.2 230.3,503.4 229.4,504.2C228.5,504.9 227.3,505.4 226.3,505.4C225.3,505.4 224.1,504.9 223.2,504.2C222.3,503.4 221.4,502.2 220.9,500.8C220.3,499.4 219.8,497.6 219.9,495.9C220,494.2 220.9,492.3 221.7,490.5C222.5,488.8 223.8,487.1 224.5,485.7C225.2,484.3 225.5,483.1 225.8,482.3C226.1,481.6 226.1,481.1 226.3,481.1Z" fill="#a0ff00"/><path d="M226.3,486.4C226.4,486.4 226.4,486.7 226.6,487.2C226.8,487.8 227,488.6 227.4,489.6C227.9,490.5 228.7,491.7 229.2,492.9C229.7,494.1 230.2,495.5 230.3,496.7C230.4,497.9 230,499.1 229.7,500C229.3,501 228.8,501.8 228.2,502.4C227.7,502.9 226.9,503.2 226.3,503.2C225.7,503.2 224.9,502.9 224.4,502.4C223.8,501.8 223.3,501 222.9,500C222.6,499.1 222.2,497.9 222.3,496.7C222.4,495.5 222.9,494.1 223.4,492.9C223.9,491.7 224.7,490.5 225.2,489.6C225.6,488.6 225.8,487.8 226,487.2C226.2,486.7 226.2,486.4 226.3,486.4Z" fill="#d8ff00"/><path d="M226.3,491C226.3,491 226.4,491.2 226.4,491.5C226.5,491.8 226.6,492.3 226.8,492.9C227,493.5 227.5,494.3 227.7,495C227.9,495.7 228.2,496.6 228.2,497.3C228.3,498 228.1,498.8 227.9,499.4C227.8,500 227.5,500.5 227.2,500.8C227,501.1 226.6,501.3 226.3,501.3C226,501.3 225.6,501.1 225.4,500.8C225.1,500.5 224.8,500 224.7,499.4C224.5,498.8 224.3,498 224.4,497.3C224.4,496.6 224.7,495.7 224.9,495C225.1,494.3 225.6,493.5 225.8,492.9C226,492.3 226.1,491.8 226.2,491.5C226.2,491.2 226.3,491 226.3,491Z" fill="#f8ff00"/></g></g>
<g clip-path="url(#cb0)"><g filter="url(#bl05)"><path d="M358.2,403C359.9,403 362.1,404.4 363.2,406.9C364.3,409.4 363.8,413.4 365,417.9C366.2,422.3 368.5,428.1 370.6,433.7C372.7,439.3 376.5,445.7 377.5,451.3C378.5,456.9 377.9,462.7 376.4,467.1C375,471.6 371.9,475.6 368.9,478.1C365.8,480.6 361.8,482 358.2,482C354.6,482 350.6,480.6 347.5,478.1C344.5,475.6 341.4,471.6 340,467.1C338.5,462.7 337.9,456.9 338.9,451.3C339.9,445.7 343.7,439.3 345.8,433.7C347.9,428.1 350.2,422.3 351.4,417.9C352.6,413.4 352.1,409.4 353.2,406.9C354.3,404.4 356.5,403 358.2,403Z" fill="#3458ff"/><path d="M358.2,404.8C359.6,404.8 361.5,406.1 362.5,408.5C363.5,410.9 363,414.8 364.2,419.2C365.4,423.5 367.7,429.1 369.8,434.5C371.9,439.9 375.7,446.1 376.7,451.5C377.7,456.9 377.1,462.5 375.7,466.9C374.3,471.2 371.4,475.1 368.5,477.5C365.5,479.9 361.6,481.3 358.2,481.3C354.8,481.3 350.9,479.9 347.9,477.5C345,475.1 342.1,471.2 340.7,466.9C339.3,462.5 338.7,456.9 339.7,451.5C340.7,446.1 344.5,439.9 346.6,434.5C348.7,429.1 351,423.5 352.2,419.2C353.4,414.8 352.9,410.9 353.9,408.5C354.9,406.1 356.8,404.8 358.2,404.8Z" fill="#18a0f8"/><path d="M358.2,407C359.3,407 360.7,408.3 361.5,410.6C362.4,412.9 362,416.6 363.2,420.8C364.4,424.9 366.7,430.3 368.8,435.5C370.9,440.7 374.7,446.7 375.7,451.8C376.7,457 376.1,462.4 374.8,466.6C373.5,470.7 370.7,474.4 367.9,476.7C365.2,479 361.4,480.4 358.2,480.4C355,480.4 351.2,479 348.5,476.7C345.7,474.4 342.9,470.7 341.6,466.6C340.3,462.4 339.7,457 340.7,451.8C341.7,446.7 345.5,440.7 347.6,435.5C349.7,430.3 352,424.9 353.2,420.8C354.4,416.6 354,412.9 354.9,410.6C355.7,408.3 357.1,407 358.2,407Z" fill="#10c0c8"/><path d="M358.2,411.8C358.6,411.8 358.9,413 359.3,415.1C359.8,417.2 359.8,420.6 361,424.3C362.2,428.1 364.5,433 366.6,437.7C368.7,442.4 372.5,447.8 373.5,452.5C374.6,457.2 373.9,462.1 372.8,465.9C371.7,469.6 369.2,473 366.7,475.1C364.3,477.2 361,478.4 358.2,478.4C355.4,478.4 352.1,477.2 349.7,475.1C347.2,473 344.7,469.6 343.6,465.9C342.5,462.1 341.8,457.2 342.9,452.5C343.9,447.8 347.7,442.4 349.8,437.7C351.9,433 354.2,428.1 355.4,424.3C356.6,420.6 356.6,417.2 357.1,415.1C357.5,413 357.8,411.8 358.2,411.8Z" fill="#14bc90"/><path d="M358.2,417.1C358.5,417.1 358.6,418.2 359,420C359.4,421.9 359.4,424.9 360.4,428.2C361.5,431.6 363.4,435.9 365.2,440.1C367,444.2 370.3,449.1 371.2,453.2C372.1,457.4 371.6,461.8 370.6,465.1C369.6,468.4 367.5,471.5 365.5,473.3C363.4,475.2 360.6,476.2 358.2,476.2C355.8,476.2 353,475.2 350.9,473.3C348.9,471.5 346.8,468.4 345.8,465.1C344.8,461.8 344.3,457.4 345.2,453.2C346.1,449.1 349.4,444.2 351.2,440.1C353,435.9 354.9,431.6 356,428.2C357,424.9 357,421.9 357.4,420C357.8,418.2 357.9,417.1 358.2,417.1Z" fill="#2cac68"/><path d="M358.2,422.8C358.4,422.8 358.5,423.7 358.8,425.3C359.1,426.9 359.2,429.5 360,432.4C360.8,435.3 362.4,439.1 363.9,442.7C365.3,446.3 368,450.4 368.7,454C369.5,457.6 369,461.4 368.2,464.3C367.4,467.2 365.7,469.8 364.1,471.4C362.4,473 360.2,473.9 358.2,473.9C356.2,473.9 354,473 352.3,471.4C350.7,469.8 349,467.2 348.2,464.3C347.4,461.4 346.9,457.6 347.7,454C348.4,450.4 351.1,446.3 352.5,442.7C354,439.1 355.6,435.3 356.4,432.4C357.2,429.5 357.3,426.9 357.6,425.3C357.9,423.7 358,422.8 358.2,422.8Z" fill="#4ea468"/><path d="M358.2,429.4C358.4,429.4 358.4,430.2 358.7,431.5C358.9,432.8 358.9,434.9 359.5,437.3C360.1,439.6 361.3,442.7 362.3,445.6C363.4,448.6 365.3,452 365.9,455C366.4,457.9 366.1,461 365.5,463.3C364.9,465.7 363.7,467.8 362.5,469.1C361.3,470.4 359.6,471.2 358.2,471.2C356.8,471.2 355.1,470.4 353.9,469.1C352.7,467.8 351.5,465.7 350.9,463.3C350.3,461 350,457.9 350.5,455C351.1,452 353,448.6 354.1,445.6C355.1,442.7 356.3,439.6 356.9,437.3C357.5,434.9 357.5,432.8 357.7,431.5C358,430.2 358,429.4 358.2,429.4Z" fill="#789e74"/><path d="M358.2,437.3C358.3,437.3 358.3,437.9 358.5,438.8C358.6,439.8 358.6,441.4 358.9,443.1C359.3,444.8 359.9,447.1 360.5,449.2C361.1,451.4 362.1,453.9 362.4,456C362.7,458.2 362.5,460.5 362.2,462.2C361.9,463.9 361.2,465.5 360.6,466.4C359.9,467.4 359,468 358.2,468C357.4,468 356.5,467.4 355.8,466.4C355.2,465.5 354.5,463.9 354.2,462.2C353.9,460.5 353.7,458.2 354,456C354.3,453.9 355.3,451.4 355.9,449.2C356.5,447.1 357.1,444.8 357.5,443.1C357.8,441.4 357.8,439.8 357.9,438.8C358.1,437.9 358.1,437.3 358.2,437.3Z" fill="#8e9880"/></g></g>
<path class="w" d="M5.2,42.6 L226.3,64 L358.2,27.2 M5.2,720.4 L226.3,742.2 L358.2,705 M5.2,42.6 L5.2,720.4 M358.2,27.2 L358.2,705 M226.3,64 L226.3,742.2"/>
</g>
<g id="top2">
<path class="w" d="M370.3,42 L504.3,3.8 L726.7,26.5 M370.3,723.3 L504.3,685 L726.7,708 M504.3,3.8 L504.3,685"/>
<clipPath id="cb1"><rect x="370.3" y="0" width="356.4" height="760"/></clipPath><clipPath id="cl1"><rect x="370.3" y="0" width="223" height="760"/></clipPath><clipPath id="cr1"><rect x="593.3" y="0" width="133.4" height="760"/></clipPath>
<g filter="url(#bl08)"><g fill="url(#fs)" opacity=".85"><circle cx="617.9" cy="137.5" r="4"/><circle cx="475.3" cy="213" r="3.7"/><circle cx="645" cy="257.9" r="1.7"/><circle cx="521.2" cy="302.3" r="2.8"/><circle cx="562.5" cy="322.9" r="2.3"/><circle cx="429.6" cy="330.1" r="4"/><circle cx="463.2" cy="328.3" r="2.8"/><circle cx="459.3" cy="339.9" r="2.8"/><circle cx="544.4" cy="345.6" r="4.3"/><circle cx="574.1" cy="347.6" r="1.7"/><circle cx="590.8" cy="364.2" r="2.3"/><circle cx="525.1" cy="370.1" r="2.3"/><circle cx="483.8" cy="384.3" r="2.8"/><circle cx="659.2" cy="408.7" r="2.8"/><circle cx="642.4" cy="419" r="2.3"/><circle cx="664.3" cy="510.6" r="2.8"/></g><g fill="url(#fm)" opacity=".85"><circle cx="437.4" cy="545.4" r="5.7"/></g><g fill="url(#fs)" opacity=".85"><circle cx="451.6" cy="547.9" r="2.8"/><circle cx="485.1" cy="553.6" r="2.8"/><circle cx="530.2" cy="562.1" r="2.8"/><circle cx="389.7" cy="633.1" r="4.3"/><circle cx="605" cy="640.8" r="3.4"/><circle cx="588.2" cy="647.2" r="2.3"/><circle cx="455.4" cy="656.3" r="1.7"/><circle cx="611.5" cy="673" r="2.3"/><circle cx="539.2" cy="709.9" r="2.8"/><circle cx="686.2" cy="570.6" r="2.8"/><circle cx="614" cy="587.9" r="2.3"/><circle cx="639.8" cy="550.5" r="2.3"/><circle cx="531.5" cy="590.5" r="2.3"/><ellipse cx="421.9" cy="526" rx="1.4" ry="4.3"/><circle cx="436.1" cy="526" r="2.3"/></g></g>
<g filter="url(#fc)">
<g fill-opacity="0.62"><circle cx="456.7" cy="178.5" r="8.5"/><circle cx="507" cy="276.5" r="8.5"/><circle cx="581.8" cy="279.8" r="7.2"/><circle cx="623.1" cy="323.7" r="9.8"/><circle cx="613.5" cy="343" r="5.7"/><circle cx="494.9" cy="358.5" r="6.2"/><circle cx="554.7" cy="390.7" r="5.2"/><circle cx="543.1" cy="438.3" r="9"/><circle cx="434.8" cy="483.5" r="6.4"/><circle cx="409" cy="571.2" r="4.6"/><circle cx="556" cy="599.5" r="6.4"/><circle cx="563.7" cy="573.7" r="3.9"/><circle cx="628.2" cy="524.7" r="6.4"/></g>
<g fill-opacity="0.8"><ellipse cx="655.3" cy="386.8" rx="11.6" ry="10.3"/><path d="M477.3,225.7C479.3,225.7 481.7,227.7 483.3,231.1C484.9,234.5 485.3,240.1 487,246C488.7,251.8 492.3,259.5 493.6,266.3C494.9,273 495.6,280.7 494.6,286.6C493.7,292.5 490.8,298.1 488,301.5C485.1,304.8 480.9,306.9 477.3,306.9C473.8,306.9 469.6,304.8 466.7,301.5C463.8,298.1 461,292.5 460,286.6C459.1,280.7 459.8,273 461.1,266.3C462.4,259.5 466,251.8 467.7,246C469.4,240.1 469.8,234.5 471.4,231.1C473,227.7 475.4,225.7 477.3,225.7Z"/><path d="M623.1,266.9C625.7,266.9 628.5,268 630.9,269.8C633.4,271.5 636.1,274.5 637.8,277.6C639.5,280.6 641,284.7 641.1,288.2C641.3,291.7 640.2,295.8 638.7,298.8C637.2,301.9 634.7,304.9 632.1,306.6C629.5,308.4 626.1,309.5 623.1,309.5C620,309.5 616.6,308.4 614,306.6C611.4,304.9 608.9,301.9 607.4,298.8C605.9,295.8 604.9,291.7 605,288.2C605.2,284.7 606.6,280.6 608.3,277.6C610,274.5 612.8,271.5 615.2,269.8C617.7,268 620.4,266.9 623.1,266.9Z"/><path d="M610.2,385.5C613.2,385.5 617.4,389.3 619.9,395.5C622.4,401.7 622.2,412.1 625.2,422.9C628.2,433.7 634.8,447.8 637.9,460.3C640.9,472.7 644.3,486.9 643.5,497.7C642.7,508.5 637.7,518.8 633,525C628.3,531.3 621.2,535.1 615.3,535.1C609.4,535.1 602.3,531.3 597.6,525C592.9,518.8 588.4,508.5 587.1,497.7C585.9,486.9 588.1,472.7 590,460.3C592,447.8 597,433.7 598.9,422.9C600.8,412.1 599.5,401.7 601.4,395.5C603.3,389.3 607.1,385.5 610.2,385.5Z"/></g>
<g fill-opacity="0.93"><ellipse cx="688.8" cy="294" rx="11.9" ry="22.7"/></g>
<g fill-opacity="0.87"><path d="M450.3,332.6C452.9,332.6 456.1,336.2 458,342.2C460,348.2 459.1,358.1 462,368.4C464.8,378.7 471.8,392.2 474.9,404.2C478.1,416.1 481.9,429.6 481,440C480.1,450.3 474.6,460.2 469.5,466.2C464.4,472.1 456.7,475.7 450.3,475.7C443.8,475.7 436.1,472.1 431,466.2C425.9,460.2 420.5,450.3 419.6,440C418.7,429.6 422.4,416.1 425.6,404.2C428.8,392.2 435.8,378.7 438.6,368.4C441.4,358.1 440.5,348.2 442.5,342.2C444.4,336.2 447.7,332.6 450.3,332.6Z"/></g>
</g>
<g filter="url(#fc)">
<g fill-opacity="0.62"><circle cx="422.7" cy="194.7" r="7.7"/><ellipse cx="593.4" cy="234.7" rx="11.6" ry="7.7"/><circle cx="485.1" cy="299.2" r="7.2"/><circle cx="666.9" cy="328.8" r="5.7"/><circle cx="441.2" cy="334" r="5.7"/><circle cx="549.6" cy="361.1" r="4.6"/><circle cx="602.4" cy="374" r="6.2"/><circle cx="537.9" cy="411.3" r="5.7"/><ellipse cx="561.2" cy="431.9" rx="10.3" ry="5.2"/><circle cx="651.4" cy="504.1" r="7.7"/><circle cx="487.7" cy="576.3" r="6.4"/><circle cx="574.1" cy="594.4" r="9"/><circle cx="547" cy="564.7" r="7.7"/><circle cx="606.3" cy="535.1" r="5.2"/><circle cx="633.4" cy="478.3" r="7.7"/><circle cx="643.7" cy="498.9" r="7.7"/><circle cx="429.6" cy="388.1" r="6.4"/><circle cx="468.3" cy="388.1" r="5.2"/><ellipse cx="530.2" cy="465.4" rx="8.3" ry="10.8"/><ellipse cx="552.1" cy="475.7" rx="7.7" ry="9"/></g>
<g fill-opacity="0.8"><path d="M422.4,210.2C424.4,210.2 426.5,211.1 428.3,212.5C430,214 431.8,216.4 432.9,218.9C434.1,221.4 435.2,224.7 435.3,227.6C435.4,230.5 434.7,233.8 433.6,236.3C432.5,238.8 430.7,241.2 428.9,242.7C427,244.1 424.6,245 422.4,245C420.3,245 417.8,244.1 416,242.7C414.1,241.2 412.3,238.8 411.2,236.3C410.2,233.8 409.4,230.5 409.5,227.6C409.6,224.7 410.7,221.4 411.9,218.9C413.1,216.4 414.8,214 416.5,212.5C418.3,211.1 420.5,210.2 422.4,210.2Z"/><path d="M545.7,230.8C547.8,230.8 550.1,231.6 552.2,233C554.3,234.4 556.8,236.6 558.3,239C559.8,241.4 561,244.5 561.2,247.2C561.3,249.9 560.4,253 559.1,255.4C557.8,257.7 555.7,260 553.4,261.4C551.2,262.7 548.3,263.6 545.7,263.6C543.1,263.6 540.2,262.7 537.9,261.4C535.7,260 533.6,257.7 532.3,255.4C531,253 530.1,249.9 530.2,247.2C530.3,244.5 531.6,241.4 533.1,239C534.6,236.6 537.1,234.4 539.2,233C541.3,231.6 543.5,230.8 545.7,230.8Z"/><ellipse cx="473.5" cy="509.3" rx="11.6" ry="15.5"/></g>
<g fill-opacity="0.93"><ellipse cx="633.9" cy="291.4" rx="6.4" ry="10.8"/></g>
<g fill-opacity="0.87"><path d="M505.7,377.7C507.4,377.7 509.5,380.3 510.9,384.5C512.3,388.7 512.2,395.6 514.2,402.9C516.2,410.1 521.1,419.6 523,428C524.9,436.4 526.4,445.9 525.6,453.2C524.8,460.4 521.3,467.4 518,471.6C514.7,475.8 509.8,478.3 505.7,478.3C501.6,478.3 496.7,475.8 493.4,471.6C490.1,467.4 486.6,460.4 485.8,453.2C485,445.9 486.6,436.4 488.5,428C490.4,419.6 495.2,410.1 497.3,402.9C499.3,395.6 499.1,388.7 500.5,384.5C501.9,380.3 504,377.7 505.7,377.7Z"/></g>
</g>
<g filter="url(#fc)">
<g fill-opacity="0.62"><circle cx="493.3" cy="221" r="6.4"/><circle cx="529.4" cy="285.8" r="7.2"/><circle cx="473.5" cy="301.7" r="6.4"/><circle cx="503.1" cy="336" r="9"/><ellipse cx="386.6" cy="354.1" rx="7" ry="7.7"/><circle cx="540.5" cy="385.6" r="7.7"/><circle cx="614" cy="375.2" r="5.7"/><path d="M414.2,252.7C415,252.7 416,253.5 416.8,254.7C417.5,256 417.9,258 418.7,260.2C419.5,262.3 421.1,265.1 421.5,267.6C422,270 421.8,272.8 421.3,275C420.8,277.1 419.6,279.2 418.4,280.4C417.2,281.6 415.6,282.4 414.2,282.4C412.7,282.4 411.1,281.6 409.9,280.4C408.7,279.2 407.5,277.1 407,275C406.5,272.8 406.4,270 406.8,267.6C407.2,265.1 408.8,262.3 409.6,260.2C410.4,258 410.8,256 411.5,254.7C412.3,253.5 413.3,252.7 414.2,252.7Z"/><circle cx="576.6" cy="398.4" r="5.2"/><circle cx="639.8" cy="473.2" r="6.4"/><circle cx="521.2" cy="597" r="5.7"/><circle cx="579.2" cy="581.5" r="7.7"/><circle cx="537.9" cy="553.1" r="6.4"/><circle cx="552.1" cy="648" r="6.4"/><ellipse cx="491.5" cy="460.3" rx="6.4" ry="7.7"/></g>
<g fill-opacity="0.8"><path d="M589.5,234.7C592.3,234.7 595.3,235.8 597.8,237.7C600.4,239.6 603.1,242.7 604.9,246C606.8,249.2 608.6,253.5 609,257.3C609.3,261 608.6,265.3 607.1,268.5C605.6,271.8 602.7,274.9 599.8,276.8C596.9,278.7 593,279.8 589.5,279.8C586.1,279.8 582.2,278.7 579.2,276.8C576.3,274.9 573.5,271.8 572,268.5C570.4,265.3 569.7,261 570.1,257.3C570.4,253.5 572.3,249.2 574.1,246C576,242.7 578.7,239.6 581.2,237.7C583.8,235.8 586.8,234.7 589.5,234.7Z"/><ellipse cx="682.4" cy="440.9" rx="14.2" ry="9.8"/><path d="M503.1,434.5C505.3,434.5 507.9,437 509.5,441.2C511,445.4 510.5,452.4 512.4,459.6C514.2,466.9 518.4,476.4 520.6,484.8C522.9,493.1 526.2,502.7 525.7,509.9C525.2,517.2 521.6,524.1 517.9,528.3C514.1,532.5 508,535.1 503.1,535.1C498.2,535.1 492.2,532.5 488.4,528.3C484.6,524.1 481,517.2 480.6,509.9C480.1,502.7 483.4,493.1 485.6,484.8C487.8,476.4 492,466.9 493.9,459.6C495.7,452.4 495.2,445.4 496.8,441.2C498.3,437 501,434.5 503.1,434.5Z"/></g>
<g fill-opacity="0.87"><path d="M566.3,444.8C568.7,444.8 571.7,447.9 573.5,453.1C575.2,458.2 574.5,466.8 577,475.7C579.6,484.7 586.1,496.4 589,506.7C591.9,517 595.3,528.7 594.5,537.6C593.7,546.6 588.7,555.1 584,560.3C579.3,565.4 572.2,568.6 566.3,568.6C560.4,568.6 553.3,565.4 548.6,560.3C543.9,555.1 539,546.6 538.1,537.6C537.3,528.7 540.8,517 543.7,506.7C546.6,496.4 553,484.7 555.6,475.7C558.2,466.8 557.4,458.2 559.2,453.1C561,447.9 563.9,444.8 566.3,444.8Z"/></g>
</g>
<g filter="url(#fc)">
<g fill-opacity="0.62"><circle cx="520.4" cy="262.5" r="8.5"/><circle cx="560.6" cy="281.1" r="6.4"/><ellipse cx="571.5" cy="337.8" rx="4.6" ry="5.7"/><circle cx="432.2" cy="348.2" r="4.6"/><ellipse cx="572.8" cy="377.8" rx="9" ry="7.2"/><circle cx="638.5" cy="380.4" r="5.7"/><circle cx="579.2" cy="416.4" r="10.3"/><ellipse cx="648.8" cy="444.8" rx="7.7" ry="12.9"/><circle cx="455.4" cy="562.1" r="10.3"/><circle cx="548.3" cy="598.2" r="5.7"/><circle cx="587" cy="606" r="7.7"/><ellipse cx="617.9" cy="540.2" rx="10.3" ry="6.4"/><circle cx="514.2" cy="689.8" r="5.7"/></g>
<g fill-opacity="0.8"><ellipse cx="682.4" cy="318.5" rx="7.2" ry="9"/><path d="M507,217.9C509.5,217.9 512,218.8 514.4,220.3C516.9,221.8 520,224.3 521.7,227C523.5,229.6 524.9,233 525.1,236C525.2,239 524.1,242.4 522.6,245C521.1,247.6 518.6,250.1 516,251.6C513.4,253.1 510,254 507,254C504,254 500.6,253.1 498,251.6C495.4,250.1 492.9,247.6 491.4,245C489.9,242.4 488.8,239 488.9,236C489.1,233 490.5,229.6 492.3,227C494,224.3 497.1,221.8 499.6,220.3C502,218.8 504.5,217.9 507,217.9Z"/><ellipse cx="525.1" cy="491.2" rx="20.1" ry="20.6"/></g>
<g fill-opacity="0.93"><ellipse cx="634.7" cy="248.9" rx="8.3" ry="13.4"/></g>
</g>
<g filter="url(#bl05)" opacity="0.9"><g fill="url(#ks)"><circle cx="470.9" cy="374" r="4.3"/></g><g fill="url(#km)"><circle cx="607.6" cy="447.4" r="5.1"/><circle cx="620.5" cy="455.1" r="5.1"/><circle cx="432.2" cy="412.6" r="7.1"/><circle cx="463.2" cy="407.4" r="8.5"/><circle cx="439.9" cy="447.4" r="5.1"/><circle cx="459.3" cy="449.9" r="7.9"/><circle cx="503.1" cy="421.6" r="7.1"/></g></g>
<g clip-path="url(#cb1)"><g filter="url(#bl05)"><path d="M370.3,413C372.5,413 375.6,415 376.8,418.4C378.1,421.8 376.9,427.4 378,433.5C379,439.7 380.5,447.7 383.3,455.4C386,463.1 391.8,471.9 394.5,479.6C397.3,487.3 400.9,495.3 400,501.5C399.1,507.6 394.2,513.2 389.3,516.6C384.3,520 376.6,522 370.3,522C364,522 356.3,520 351.3,516.6C346.4,513.2 341.5,507.6 340.6,501.5C339.7,495.3 343.3,487.3 346.1,479.6C348.8,471.9 354.6,463.1 357.3,455.4C360.1,447.7 361.6,439.7 362.6,433.5C363.7,427.4 362.5,421.8 363.8,418.4C365,415 368.1,413 370.3,413Z" fill="#3458ff"/><path d="M370.3,415.3C372.2,415.3 374.8,417.2 375.9,420.5C377,423.9 375.8,429.2 376.9,435.2C378,441.2 379.4,449 382.2,456.4C385,463.9 390.7,472.5 393.5,479.9C396.3,487.4 399.8,495.2 398.9,501.1C398.1,507.1 393.4,512.5 388.6,515.8C383.8,519.1 376.4,521.1 370.3,521.1C364.2,521.1 356.8,519.1 352,515.8C347.2,512.5 342.5,507.1 341.7,501.1C340.8,495.2 344.3,487.4 347.1,479.9C349.9,472.5 355.6,463.9 358.4,456.4C361.2,449 362.6,441.2 363.7,435.2C364.8,429.2 363.6,423.9 364.7,420.5C365.8,417.2 368.4,415.3 370.3,415.3Z" fill="#10b0ff"/><path d="M370.3,417.3C371.9,417.3 374,419.2 375,422.4C375.9,425.6 374.9,430.9 376,436.7C377.1,442.5 378.5,450.1 381.3,457.3C384.1,464.6 389.8,473 392.6,480.2C395.4,487.5 398.8,495 398.1,500.9C397.3,506.7 392.7,511.9 388,515.1C383.4,518.4 376.2,520.2 370.3,520.2C364.4,520.2 357.2,518.4 352.6,515.1C347.9,511.9 343.3,506.7 342.5,500.9C341.8,495 345.2,487.5 348,480.2C350.8,473 356.5,464.6 359.3,457.3C362.1,450.1 363.5,442.5 364.6,436.7C365.7,430.9 364.7,425.6 365.6,422.4C366.6,419.2 368.7,417.3 370.3,417.3Z" fill="#00e8c0"/><path d="M370.3,419.6C371.5,419.6 373.2,421.4 373.9,424.5C374.7,427.7 373.9,432.7 375,438.4C376,444 377.5,451.3 380.3,458.4C383,465.4 388.7,473.5 391.5,480.5C394.3,487.6 397.7,494.9 397,500.5C396.3,506.2 391.8,511.2 387.4,514.4C382.9,517.5 376,519.3 370.3,519.3C364.6,519.3 357.7,517.5 353.2,514.4C348.8,511.2 344.3,506.2 343.6,500.5C342.9,494.9 346.3,487.6 349.1,480.5C351.9,473.5 357.6,465.4 360.3,458.4C363.1,451.3 364.6,444 365.6,438.4C366.7,432.7 365.9,427.7 366.7,424.5C367.4,421.4 369.1,419.6 370.3,419.6Z" fill="#10f050"/><path d="M370.3,423.6C370.9,423.6 371.7,425.3 372.1,428.2C372.6,431.2 372.1,436 373.2,441.3C374.2,446.6 375.7,453.5 378.5,460.1C381.2,466.8 386.9,474.5 389.7,481.1C392.5,487.7 395.8,494.6 395.2,500C394.7,505.3 390.4,510.1 386.2,513C382.1,516 375.6,517.7 370.3,517.7C365,517.7 358.5,516 354.4,513C350.2,510.1 345.9,505.3 345.4,500C344.8,494.6 348.1,487.7 350.9,481.1C353.7,474.5 359.4,466.8 362.1,460.1C364.9,453.5 366.4,446.6 367.4,441.3C368.5,436 368,431.2 368.5,428.2C368.9,425.3 369.7,423.6 370.3,423.6Z" fill="#38f800"/><path d="M370.3,427.5C370.7,427.5 371.1,429.1 371.5,431.9C371.9,434.7 371.5,439.2 372.5,444.2C373.5,449.2 374.9,455.7 377.5,461.9C380.1,468.2 385.6,475.4 388.2,481.6C390.9,487.9 394,494.4 393.5,499.4C392.9,504.4 388.9,508.9 385.1,511.7C381.2,514.5 375.2,516.1 370.3,516.1C365.4,516.1 359.4,514.5 355.5,511.7C351.7,508.9 347.7,504.4 347.1,499.4C346.6,494.4 349.7,487.9 352.4,481.6C355,475.4 360.5,468.2 363.1,461.9C365.7,455.7 367.1,449.2 368.1,444.2C369.1,439.2 368.7,434.7 369.1,431.9C369.5,429.1 369.9,427.5 370.3,427.5Z" fill="#78fc00"/><path d="M370.3,432.1C370.7,432.1 371.1,433.6 371.4,436.2C371.7,438.8 371.4,442.9 372.3,447.6C373.2,452.2 374.5,458.2 376.9,464C379.3,469.8 384.2,476.5 386.6,482.3C389,488.1 391.9,494.1 391.4,498.7C390.9,503.4 387.3,507.5 383.8,510.1C380.2,512.7 374.8,514.2 370.3,514.2C365.8,514.2 360.4,512.7 356.8,510.1C353.3,507.5 349.7,503.4 349.2,498.7C348.7,494.1 351.6,488.1 354,482.3C356.4,476.5 361.3,469.8 363.7,464C366.1,458.2 367.4,452.2 368.3,447.6C369.2,442.9 368.9,438.8 369.2,436.2C369.5,433.6 369.9,432.1 370.3,432.1Z" fill="#b4ff00"/><path d="M370.3,436.8C370.6,436.8 371,438.1 371.3,440.5C371.6,442.9 371.3,446.7 372.1,451C372.9,455.2 374.1,460.8 376.2,466.1C378.4,471.4 382.8,477.6 385,482.9C387.2,488.2 389.7,493.8 389.3,498.1C388.9,502.3 385.6,506.2 382.4,508.5C379.3,510.9 374.3,512.3 370.3,512.3C366.3,512.3 361.3,510.9 358.2,508.5C355,506.2 351.7,502.3 351.3,498.1C350.9,493.8 353.4,488.2 355.6,482.9C357.8,477.6 362.2,471.4 364.4,466.1C366.5,460.8 367.7,455.2 368.5,451C369.3,446.7 369,442.9 369.3,440.5C369.6,438.1 370,436.8 370.3,436.8Z" fill="#e0ff00"/><path d="M370.3,442.7C370.6,442.7 370.9,443.9 371.2,446C371.4,448.1 371.1,451.5 371.8,455.3C372.5,459.1 373.5,464.1 375.4,468.8C377.2,473.5 381.1,479 382.9,483.7C384.8,488.5 387,493.4 386.6,497.2C386.3,501 383.5,504.4 380.7,506.5C378,508.6 373.8,509.9 370.3,509.9C366.8,509.9 362.6,508.6 359.9,506.5C357.1,504.4 354.3,501 354,497.2C353.6,493.4 355.8,488.5 357.7,483.7C359.5,479 363.4,473.5 365.2,468.8C367.1,464.1 368.1,459.1 368.8,455.3C369.5,451.5 369.2,448.1 369.4,446C369.7,443.9 370,442.7 370.3,442.7Z" fill="#f8fc00"/><path d="M370.3,452.6C370.5,452.6 370.7,453.6 370.9,455.2C371.1,456.9 370.9,459.6 371.4,462.6C371.9,465.6 372.7,469.5 374,473.3C375.3,477 378.1,481.4 379.5,485.1C380.9,488.9 382.4,492.8 382.2,495.8C381.9,498.8 379.9,501.5 377.9,503.2C375.9,504.8 372.8,505.8 370.3,505.8C367.8,505.8 364.7,504.8 362.7,503.2C360.7,501.5 358.7,498.8 358.4,495.8C358.2,492.8 359.7,488.9 361.1,485.1C362.5,481.4 365.3,477 366.6,473.3C367.9,469.5 368.7,465.6 369.2,462.6C369.7,459.6 369.5,456.9 369.7,455.2C369.9,453.6 370.1,452.6 370.3,452.6Z" fill="#fff000"/><path d="M370.3,461.8C370.4,461.8 370.6,462.6 370.7,463.8C370.8,465.1 370.7,467.1 371,469.4C371.4,471.7 371.8,474.6 372.7,477.5C373.6,480.3 375.4,483.6 376.3,486.4C377.2,489.2 378.2,492.2 378,494.5C377.8,496.7 376.5,498.8 375.2,500C373.9,501.3 371.9,502 370.3,502C368.7,502 366.7,501.3 365.4,500C364.1,498.8 362.8,496.7 362.6,494.5C362.4,492.2 363.4,489.2 364.3,486.4C365.2,483.6 367,480.3 367.9,477.5C368.8,474.6 369.2,471.7 369.6,469.4C369.9,467.1 369.8,465.1 369.9,463.8C370,462.6 370.2,461.8 370.3,461.8Z" fill="#ffd800"/><path d="M370.3,470.4C370.4,470.4 370.4,470.9 370.5,471.8C370.6,472.7 370.5,474.1 370.7,475.7C370.8,477.3 371.1,479.4 371.5,481.3C371.9,483.3 372.8,485.6 373.3,487.6C373.7,489.6 374.2,491.6 374.2,493.2C374.1,494.8 373.4,496.2 372.8,497.1C372.1,498 371.1,498.5 370.3,498.5C369.5,498.5 368.5,498 367.8,497.1C367.2,496.2 366.5,494.8 366.4,493.2C366.4,491.6 366.9,489.6 367.3,487.6C367.8,485.6 368.7,483.3 369.1,481.3C369.5,479.4 369.8,477.3 369.9,475.7C370.1,474.1 370,472.7 370.1,471.8C370.2,470.9 370.2,470.4 370.3,470.4Z" fill="#ffb400"/></g></g>
<g clip-path="url(#cl1)"><g filter="url(#bl05)"><path d="M593.3,468C595.2,468 597.5,469.3 599,471.7C600.5,474 600.7,477.7 602.2,481.9C603.8,486.1 606.7,491.5 608.4,496.8C610.1,502 612.1,508 612.3,513.2C612.5,518.5 611.1,523.9 609.4,528.1C607.8,532.3 605.1,536 602.5,538.3C599.8,540.7 596.4,542 593.3,542C590.2,542 586.8,540.7 584.1,538.3C581.5,536 578.8,532.3 577.2,528.1C575.5,523.9 574.1,518.5 574.3,513.2C574.5,508 576.5,502 578.2,496.8C579.9,491.5 582.8,486.1 584.4,481.9C585.9,477.7 586.1,474 587.6,471.7C589.1,469.3 591.4,468 593.3,468Z" fill="#3458ff"/><path d="M593.3,470.1C595,470.1 596.9,471.4 598.3,473.6C599.6,475.8 599.8,479.4 601.3,483.5C602.8,487.5 605.8,492.7 607.4,497.7C609.1,502.7 611.1,508.5 611.3,513.5C611.5,518.5 610.2,523.8 608.6,527.8C607.1,531.8 604.6,535.4 602,537.6C599.4,539.9 596.2,541.1 593.3,541.1C590.4,541.1 587.2,539.9 584.6,537.6C582,535.4 579.5,531.8 578,527.8C576.4,523.8 575.1,518.5 575.3,513.5C575.5,508.5 577.5,502.7 579.2,497.7C580.8,492.7 583.8,487.5 585.3,483.5C586.8,479.4 587,475.8 588.3,473.6C589.7,471.4 591.6,470.1 593.3,470.1Z" fill="#10b0ff"/><path d="M593.3,472.2C594.7,472.2 596.3,473.4 597.5,475.6C598.6,477.7 598.8,481.2 600.3,485C601.8,488.9 604.8,493.9 606.5,498.7C608.2,503.5 610.2,509 610.4,513.8C610.6,518.6 609.3,523.6 607.8,527.5C606.3,531.3 604,534.8 601.5,536.9C599.1,539.1 596,540.3 593.3,540.3C590.6,540.3 587.5,539.1 585.1,536.9C582.6,534.8 580.3,531.3 578.8,527.5C577.3,523.6 576,518.6 576.2,513.8C576.4,509 578.4,503.5 580.1,498.7C581.8,493.9 584.8,488.9 586.3,485C587.8,481.2 588,477.7 589.1,475.6C590.3,473.4 591.9,472.2 593.3,472.2Z" fill="#00e8c0"/><path d="M593.3,474.7C594.3,474.7 595.4,475.9 596.3,477.9C597.3,479.9 597.7,483.2 599.2,486.8C600.7,490.5 603.7,495.2 605.4,499.8C607,504.3 609,509.6 609.3,514.2C609.5,518.7 608.2,523.5 606.8,527.1C605.5,530.8 603.2,534 601,536.1C598.7,538.1 595.9,539.3 593.3,539.3C590.7,539.3 587.9,538.1 585.6,536.1C583.4,534 581.1,530.8 579.8,527.1C578.4,523.5 577.1,518.7 577.3,514.2C577.6,509.6 579.6,504.3 581.2,499.8C582.9,495.2 585.9,490.5 587.4,486.8C588.9,483.2 589.3,479.9 590.3,477.9C591.2,475.9 592.3,474.7 593.3,474.7Z" fill="#10f040"/><path d="M593.3,480.5C593.6,480.5 593.7,481.6 594.3,483.3C595,485.1 595.6,488 597,491.1C598.5,494.3 601.3,498.5 602.9,502.4C604.5,506.4 606.3,511 606.6,515C606.9,518.9 605.7,523.1 604.6,526.3C603.4,529.5 601.6,532.3 599.7,534.1C597.8,535.8 595.4,536.9 593.3,536.9C591.2,536.9 588.8,535.8 586.9,534.1C585,532.3 583.2,529.5 582,526.3C580.9,523.1 579.7,518.9 580,515C580.3,511 582.1,506.4 583.7,502.4C585.3,498.5 588.1,494.3 589.6,491.1C591,488 591.6,485.1 592.3,483.3C592.9,481.6 593,480.5 593.3,480.5Z" fill="#30f800"/><path d="M593.3,486.8C593.6,486.8 593.6,487.7 594.1,489.2C594.6,490.7 595.1,493.1 596.2,495.8C597.4,498.4 599.6,501.9 600.8,505.3C602.1,508.6 603.5,512.5 603.7,515.8C604,519.2 603.1,522.7 602.2,525.4C601.3,528 599.8,530.5 598.3,532C596.9,533.4 595,534.3 593.3,534.3C591.6,534.3 589.7,533.4 588.3,532C586.8,530.5 585.3,528 584.4,525.4C583.5,522.7 582.6,519.2 582.9,515.8C583.1,512.5 584.5,508.6 585.8,505.3C587,501.9 589.2,498.4 590.4,495.8C591.5,493.1 592,490.7 592.5,489.2C593,487.7 593,486.8 593.3,486.8Z" fill="#60fc00"/><path d="M593.3,493.1C593.5,493.1 593.5,493.8 593.9,495C594.2,496.2 594.6,498.2 595.4,500.4C596.3,502.5 597.9,505.4 598.8,508.1C599.7,510.8 600.7,514 600.9,516.7C601.1,519.4 600.4,522.3 599.7,524.5C599.1,526.6 598,528.6 597,529.8C595.9,531 594.5,531.7 593.3,531.7C592.1,531.7 590.7,531 589.6,529.8C588.6,528.6 587.5,526.6 586.9,524.5C586.2,522.3 585.5,519.4 585.7,516.7C585.9,514 586.9,510.8 587.8,508.1C588.7,505.4 590.3,502.5 591.2,500.4C592,498.2 592.4,496.2 592.7,495C593.1,493.8 593.1,493.1 593.3,493.1Z" fill="#a0ff00"/><path d="M593.3,499.4C593.4,499.4 593.4,499.9 593.7,500.8C593.9,501.8 594.1,503.3 594.6,505C595.1,506.7 596.2,508.8 596.7,510.9C597.3,513 597.9,515.5 598,517.6C598.1,519.7 597.7,521.9 597.3,523.6C596.9,525.2 596.3,526.8 595.6,527.7C594.9,528.6 594.1,529.2 593.3,529.2C592.5,529.2 591.7,528.6 591,527.7C590.3,526.8 589.7,525.2 589.3,523.6C588.9,521.9 588.5,519.7 588.6,517.6C588.7,515.5 589.3,513 589.9,510.9C590.4,508.8 591.5,506.7 592,505C592.5,503.3 592.7,501.8 592.9,500.8C593.2,499.9 593.2,499.4 593.3,499.4Z" fill="#d8ff00"/><path d="M593.3,504.8C593.4,504.8 593.4,505.2 593.5,505.9C593.6,506.6 593.7,507.7 593.9,509C594.2,510.2 594.7,511.8 594.9,513.4C595.2,515 595.5,516.8 595.6,518.3C595.6,519.9 595.4,521.5 595.2,522.8C595,524 594.7,525.2 594.4,525.9C594.1,526.5 593.7,527 593.3,527C592.9,527 592.5,526.5 592.2,525.9C591.9,525.2 591.6,524 591.4,522.8C591.2,521.5 591,519.9 591,518.3C591.1,516.8 591.4,515 591.7,513.4C591.9,511.8 592.4,510.2 592.7,509C592.9,507.7 593,506.6 593.1,505.9C593.2,505.2 593.2,504.8 593.3,504.8Z" fill="#f8ff00"/></g></g>
<g clip-path="url(#cr1)"><g filter="url(#fd)"><path d="M593.3,476C594.3,476 595.5,477.1 596.2,478.9C596.9,480.7 596.8,483.6 597.5,486.9C598.2,490.2 599.7,494.5 600.5,498.5C601.2,502.6 602.2,507.4 602.3,511.5C602.4,515.5 601.7,519.8 600.9,523.1C600.2,526.4 598.9,529.3 597.6,531.1C596.4,532.9 594.7,534 593.3,534C591.9,534 590.2,532.9 589,531.1C587.7,529.3 586.4,526.4 585.7,523.1C584.9,519.8 584.2,515.5 584.3,511.5C584.4,507.4 585.4,502.6 586.1,498.5C586.9,494.5 588.4,490.2 589.1,486.9C589.8,483.6 589.7,480.7 590.4,478.9C591.1,477.1 592.3,476 593.3,476Z"/></g></g>
<g clip-path="url(#cb1)"><g filter="url(#bl05)"><path d="M726.7,400C728.6,400 731.1,401.9 732.4,405.1C733.6,408.3 732.7,413.4 734.1,419.2C735.6,425 738.1,432.5 741.1,439.7C744.1,446.8 750.2,455.2 752.2,462.3C754.2,469.5 754.8,477 753.2,482.8C751.6,488.6 747,493.7 742.6,496.9C738.2,500.1 732,502 726.7,502C721.4,502 715.2,500.1 710.8,496.9C706.4,493.7 701.8,488.6 700.2,482.8C698.6,477 699.2,469.5 701.2,462.3C703.2,455.2 709.3,446.8 712.3,439.7C715.3,432.5 717.8,425 719.3,419.2C720.7,413.4 719.8,408.3 721,405.1C722.3,401.9 724.8,400 726.7,400Z" fill="#3458ff"/><path d="M726.7,402.5C728.2,402.5 730.2,404.3 731.3,407.3C732.3,410.4 731.6,415.4 733,421C734.5,426.6 737,433.8 740,440.8C743,447.7 749.1,455.7 751.1,462.7C753.1,469.6 753.6,476.9 752.1,482.4C750.6,488 746.2,493 742,496.1C737.7,499.2 731.8,501 726.7,501C721.6,501 715.7,499.2 711.4,496.1C707.2,493 702.8,488 701.3,482.4C699.8,476.9 700.3,469.6 702.3,462.7C704.3,455.7 710.4,447.7 713.4,440.8C716.4,433.8 718.9,426.6 720.4,421C721.8,415.4 721.1,410.4 722.1,407.3C723.2,404.3 725.2,402.5 726.7,402.5Z" fill="#18a0f8"/><path d="M726.7,405.5C727.8,405.5 729.1,407.3 729.9,410.2C730.7,413.2 730.2,418 731.6,423.3C733.1,428.6 735.6,435.5 738.6,442.2C741.6,448.8 747.7,456.5 749.7,463.1C751.7,469.8 752.2,476.7 750.8,482C749.4,487.3 745.2,492.1 741.2,495.1C737.2,498 731.5,499.7 726.7,499.7C721.9,499.7 716.2,498 712.2,495.1C708.2,492.1 704,487.3 702.6,482C701.2,476.7 701.7,469.8 703.7,463.1C705.7,456.5 711.8,448.8 714.8,442.2C717.8,435.5 720.3,428.6 721.8,423.3C723.2,418 722.7,413.2 723.5,410.2C724.3,407.3 725.6,405.5 726.7,405.5Z" fill="#10c0c8"/><path d="M726.7,412.3C727.1,412.3 727.4,413.9 727.9,416.5C728.4,419.2 728.2,423.5 729.6,428.3C730.9,433 733.3,439.3 736.2,445.2C739.1,451.2 744.8,458.1 746.7,464.1C748.7,470 749.1,476.2 747.9,481C746.6,485.8 742.9,490.1 739.4,492.8C735.9,495.4 730.9,497 726.7,497C722.5,497 717.5,495.4 714,492.8C710.5,490.1 706.8,485.8 705.5,481C704.3,476.2 704.7,470 706.7,464.1C708.6,458.1 714.3,451.2 717.2,445.2C720.1,439.3 722.5,433 723.8,428.3C725.2,423.5 725,419.2 725.5,416.5C726,413.9 726.3,412.3 726.7,412.3Z" fill="#14bc90"/><path d="M726.7,419.7C727,419.7 727.3,421.1 727.7,423.4C728.1,425.7 728,429.5 729.1,433.7C730.3,437.9 732.3,443.3 734.8,448.6C737.2,453.8 742.1,459.8 743.7,465.1C745.4,470.3 745.7,475.8 744.7,480C743.7,484.2 740.5,487.9 737.5,490.3C734.5,492.6 730.3,493.9 726.7,493.9C723.1,493.9 718.9,492.6 715.9,490.3C712.9,487.9 709.7,484.2 708.7,480C707.7,475.8 708,470.3 709.7,465.1C711.3,459.8 716.2,453.8 718.6,448.6C721.1,443.3 723.1,437.9 724.3,433.7C725.4,429.5 725.3,425.7 725.7,423.4C726.1,421.1 726.4,419.7 726.7,419.7Z" fill="#2cac68"/><path d="M726.7,427.7C727,427.7 727.2,428.9 727.5,430.8C727.9,432.8 727.7,436 728.7,439.6C729.6,443.1 731.3,447.7 733.2,452.2C735.2,456.6 739.1,461.8 740.5,466.2C741.8,470.6 742.1,475.3 741.2,478.8C740.4,482.4 737.9,485.6 735.4,487.5C733,489.5 729.6,490.7 726.7,490.7C723.8,490.7 720.4,489.5 718,487.5C715.5,485.6 713,482.4 712.2,478.8C711.3,475.3 711.6,470.6 712.9,466.2C714.3,461.8 718.2,456.6 720.2,452.2C722.1,447.7 723.8,443.1 724.7,439.6C725.7,436 725.5,432.8 725.9,430.8C726.2,428.9 726.4,427.7 726.7,427.7Z" fill="#4ea468"/><path d="M726.7,437C726.9,437 727.1,437.9 727.3,439.4C727.5,441 727.4,443.5 728.1,446.4C728.8,449.2 730,452.8 731.5,456.4C732.9,459.9 735.7,464 736.7,467.5C737.7,471 737.9,474.7 737.3,477.5C736.7,480.3 734.8,482.8 733.1,484.4C731.3,486 728.8,486.9 726.7,486.9C724.6,486.9 722.1,486 720.3,484.4C718.6,482.8 716.7,480.3 716.1,477.5C715.5,474.7 715.7,471 716.7,467.5C717.7,464 720.5,459.9 721.9,456.4C723.4,452.8 724.6,449.2 725.3,446.4C726,443.5 725.9,441 726.1,439.4C726.3,437.9 726.5,437 726.7,437Z" fill="#789e74"/><path d="M726.7,448C726.8,448 726.9,448.7 727,449.7C727.2,450.8 727.1,452.6 727.5,454.5C727.9,456.4 728.5,459 729.3,461.4C730.1,463.8 731.7,466.6 732.2,469C732.7,471.4 732.9,473.9 732.5,475.9C732.2,477.8 731.2,479.6 730.2,480.6C729.2,481.7 727.9,482.3 726.7,482.3C725.5,482.3 724.2,481.7 723.2,480.6C722.2,479.6 721.2,477.8 720.9,475.9C720.5,473.9 720.7,471.4 721.2,469C721.7,466.6 723.3,463.8 724.1,461.4C724.9,459 725.5,456.4 725.9,454.5C726.3,452.6 726.2,450.8 726.4,449.7C726.5,448.7 726.6,448 726.7,448Z" fill="#8e9880"/></g></g>
<path class="w" d="M370.3,42 L593.3,64 L726.7,26.5 M370.3,723.3 L593.3,745 L726.7,708 M370.3,42 L370.3,723.3 M726.7,26.5 L726.7,708 M593.3,64 L593.3,745"/>
</g>
<g id="top3">
<path class="w" d="M737.7,42 L871.3,3.8 L1094,26.5 M737.7,723.3 L871.3,685 L1094,708 M871.3,3.8 L871.3,340 M871.3,578 L871.3,685"/>
<clipPath id="cb2"><rect x="737.7" y="0" width="356.3" height="760"/></clipPath><clipPath id="cl2"><rect x="737.7" y="0" width="223.6" height="760"/></clipPath><clipPath id="cr2"><rect x="961.3" y="0" width="132.7" height="760"/></clipPath>
<g filter="url(#bl4)" opacity="0.3"><path d="M790,345C794.2,333 800,321.3 810,318C820,314.7 838.3,318.8 850,325C861.7,331.2 861.7,349.2 880,355C898.3,360.8 939.2,360.8 960,360C980.8,359.2 993.3,348.3 1005,350C1016.7,351.7 1025,358.3 1030,370C1035,381.7 1035,401.7 1035,420C1035,438.3 1031.7,461.7 1030,480C1028.3,498.3 1028.3,514.2 1025,530C1021.7,545.8 1015.8,562.5 1010,575C1004.2,587.5 999.2,595.8 990,605C980.8,614.2 969.2,625.8 955,630C940.8,634.2 920,633.3 905,630C890,626.7 875,618.3 865,610C855,601.7 854.5,588.3 845,580C835.5,571.7 816.3,570 808,560C799.7,550 796.3,533.3 795,520C793.7,506.7 800.8,495 800,480C799.2,465 792.5,445 790,430C787.5,415 785,404.2 785,390C785,375.8 785.8,357 790,345Z" fill="#2850f4"/><ellipse cx="857" cy="415" rx="8" ry="8" fill="#fff"/><ellipse cx="909.5" cy="434" rx="15" ry="8" fill="#fff"/><ellipse cx="951" cy="376" rx="9" ry="7" fill="#fff"/><ellipse cx="800" cy="505" rx="8" ry="22" fill="#fff"/></g>
<g filter="url(#bl7)" opacity="0.45"><path d="M810,430C819.7,421.7 845,416.7 860,420C875,423.3 876.7,445 900,450C923.3,455 980,445 1000,450C1020,455 1018.3,461.7 1020,480C1021.7,498.3 1015.8,540.8 1010,560C1004.2,579.2 996.7,585.8 985,595C973.3,604.2 956.7,614.2 940,615C923.3,615.8 900.8,608.3 885,600C869.2,591.7 857.5,575.8 845,565C832.5,554.2 817.2,550.8 810,535C802.8,519.2 802,487.5 802,470C802,452.5 800.3,438.3 810,430Z" fill="#1c8cf8"/></g>
<g filter="url(#bl08)"><g fill="url(#fs)" opacity=".85"><circle cx="909.8" cy="131.5" r="2.8"/><circle cx="883.4" cy="149.6" r="4"/><circle cx="845.3" cy="179.8" r="4"/><circle cx="864.9" cy="193.9" r="3.4"/><circle cx="1015.8" cy="189.6" r="2.3"/><circle cx="993.1" cy="205" r="2.8"/><circle cx="999.5" cy="224.4" r="3.4"/><circle cx="809.9" cy="214.1" r="4"/></g><g fill="url(#fm)" opacity=".85"><ellipse cx="751.6" cy="219.7" rx="8.6" ry="4.8"/></g><g fill="url(#fs)" opacity=".85"><circle cx="810.1" cy="213.6" r="3.8"/><circle cx="865" cy="193.8" r="2.9"/><circle cx="993.3" cy="205.7" r="2.9"/><circle cx="999.4" cy="224" r="2.9"/></g><g fill="url(#hm)"><circle cx="748.1" cy="329.6" r="7.7"/></g><g fill="url(#fs)" opacity=".85"><circle cx="932.2" cy="319.2" r="3.8"/></g><g fill="url(#fm)" opacity=".85"><circle cx="757.7" cy="404.7" r="4.8"/></g><g fill="url(#fs)" opacity=".85"><circle cx="993.2" cy="204.8" r="2.9"/><circle cx="999.3" cy="224" r="3.5"/><circle cx="1053.4" cy="378.5" r="1.9"/><circle cx="1002.8" cy="378.5" r="3.8"/><circle cx="1071.8" cy="423.9" r="2.9"/><ellipse cx="760.3" cy="600.6" rx="3.8" ry="6.7"/><ellipse cx="775.1" cy="567.4" rx="3.8" ry="5.8"/></g><g fill="url(#bs)"><circle cx="857.2" cy="621.5" r="3.8"/></g><g fill="url(#fs)" opacity=".85"><circle cx="817.9" cy="632" r="2.9"/></g><g fill="url(#hm)"><ellipse cx="756.8" cy="651.2" rx="9.6" ry="12.5"/></g><g fill="url(#fs)" opacity=".85"><circle cx="747.2" cy="665.2" r="3.8"/><circle cx="825.8" cy="661.7" r="2.9"/></g><g fill="url(#hm)"><circle cx="821.8" cy="674.8" r="8.1"/></g><g fill="url(#fs)" opacity=".85"><circle cx="796.1" cy="687.9" r="2.3"/><circle cx="897.3" cy="694" r="2.3"/><circle cx="888.6" cy="657.3" r="4.2"/><circle cx="930.5" cy="647.7" r="2.9"/><circle cx="923.5" cy="640.7" r="2.9"/><circle cx="1000.3" cy="684.4" r="2.9"/><circle cx="981.1" cy="637.2" r="2.9"/></g><g fill="url(#fm)" opacity=".85"><ellipse cx="787.4" cy="513.3" rx="9.6" ry="15.4"/></g><g fill="url(#fs)" opacity=".85"><circle cx="766.4" cy="550" r="2.9"/><circle cx="1052.6" cy="537.7" r="4.2"/></g><g fill="url(#fm)" opacity=".85"><ellipse cx="1051.7" cy="523.8" rx="9.6" ry="4.8"/></g><g fill="url(#fs)" opacity=".85"><circle cx="1081.4" cy="553.5" r="3.8"/></g><g fill="url(#fm)" opacity=".85"><ellipse cx="1034.2" cy="574.4" rx="13.4" ry="5.8" transform="rotate(30 1034.2 574.4)"/></g><g fill="url(#fs)" opacity=".85"><circle cx="1036.8" cy="598" r="2.9"/><circle cx="1060.4" cy="607.6" r="2.3"/><circle cx="1042.1" cy="633.8" r="2.3"/><circle cx="1065.6" cy="669.5" r="1.9"/><circle cx="1000.2" cy="684.4" r="2.9"/><circle cx="1067.4" cy="691.4" r="1.9"/></g><g fill="url(#bs)"><ellipse cx="855.9" cy="656.2" rx="3.4" ry="4"/><ellipse cx="773.2" cy="627.4" rx="3" ry="2.8"/><ellipse cx="806.9" cy="661.4" rx="2.9" ry="3"/><ellipse cx="996.4" cy="685.5" rx="2.2" ry="2.1"/><ellipse cx="792.3" cy="606.5" rx="2.9" ry="3.2"/><ellipse cx="807.3" cy="634.1" rx="2.3" ry="2.4"/><circle cx="776" cy="607.2" r="2.9"/></g><g fill="url(#fs)" opacity=".85"><ellipse cx="1036.1" cy="654.8" rx="3" ry="3.1"/><circle cx="1065.8" cy="583.5" r="3.7"/><ellipse cx="1036.8" cy="665.1" rx="3.7" ry="3.4"/><ellipse cx="815.7" cy="645.3" rx="2.2" ry="2.5"/><circle cx="1007.5" cy="642.3" r="2.4"/><ellipse cx="787.2" cy="611.3" rx="3.7" ry="4"/><ellipse cx="952.7" cy="674.2" rx="3.4" ry="3.5"/><ellipse cx="891.9" cy="673.8" rx="2.6" ry="2.8"/><ellipse cx="1046.8" cy="634.3" rx="3" ry="2.8"/></g><g fill="url(#bs)"><circle cx="757.7" cy="546.2" r="3.3"/><ellipse cx="767.1" cy="512.1" rx="2.3" ry="2.5"/><ellipse cx="773.8" cy="480.3" rx="2.2" ry="2.6"/><ellipse cx="767.3" cy="461.9" rx="2.9" ry="2.8"/><ellipse cx="781" cy="503.7" rx="3.2" ry="3.3"/><ellipse cx="761.1" cy="327.8" rx="2.4" ry="2.2"/><ellipse cx="754.9" cy="318.2" rx="3.7" ry="4.4"/><ellipse cx="753.2" cy="433.7" rx="2.2" ry="2.1"/></g><g fill="url(#fs)" opacity=".85"><circle cx="761.5" cy="338.4" r="2.4"/><ellipse cx="760.2" cy="357.1" rx="3.7" ry="4.1"/><ellipse cx="745.2" cy="410" rx="3.3" ry="3.2"/><ellipse cx="759.5" cy="518.6" rx="3.7" ry="4.2"/><ellipse cx="756.7" cy="388.1" rx="2.8" ry="3"/><ellipse cx="774.3" cy="480.1" rx="3.7" ry="4.3"/></g><g fill="url(#bs)"><ellipse cx="1075.3" cy="553" rx="2.8" ry="3.2"/><ellipse cx="1070.5" cy="342.4" rx="2.6" ry="2.4"/><ellipse cx="1050.4" cy="465.6" rx="3.5" ry="3.3"/><ellipse cx="1086.9" cy="372.1" rx="2.4" ry="2.5"/><ellipse cx="1074.2" cy="396.2" rx="3.6" ry="4"/><ellipse cx="1044.6" cy="364.8" rx="3.2" ry="3.6"/><ellipse cx="1045.9" cy="506.9" rx="2.5" ry="2.3"/></g><g fill="url(#fs)" opacity=".85"><ellipse cx="1060.8" cy="353.2" rx="3.6" ry="3.3"/><ellipse cx="1039.6" cy="348.5" rx="3.7" ry="4.2"/><ellipse cx="1049.4" cy="478.5" rx="2.2" ry="2.5"/><ellipse cx="1047.4" cy="546" rx="2.3" ry="2.1"/><circle cx="1062.2" cy="559.4" r="2.3"/><ellipse cx="1084.5" cy="354.8" rx="3" ry="2.8"/><ellipse cx="1062.1" cy="380.2" rx="3.7" ry="4.4"/><ellipse cx="1055.7" cy="413.5" rx="2.2" ry="2.5"/></g></g>
<g filter="url(#fc)">
<g fill-opacity="0.62"><circle cx="917.5" cy="46.4" r="5.7"/><circle cx="888.6" cy="181.3" r="6.4"/><circle cx="1005.4" cy="238.6" r="6.4"/><circle cx="1005.6" cy="238" r="5.2"/><ellipse cx="810.9" cy="289.5" rx="8.4" ry="6.1"/><circle cx="942.7" cy="254.6" r="5.2"/><circle cx="871.1" cy="263.3" r="6.6"/><circle cx="911.3" cy="303.5" r="7"/><circle cx="928.8" cy="340.1" r="7"/><circle cx="979.4" cy="361.1" r="7.9"/><circle cx="1005.4" cy="238" r="6.1"/><ellipse cx="1020.3" cy="347.1" rx="14" ry="7"/><circle cx="1037.7" cy="387.2" r="6.1"/><ellipse cx="869.4" cy="588.4" rx="8.7" ry="10.5"/><circle cx="843.2" cy="633.8" r="6.1"/><circle cx="879.9" cy="687.9" r="4.4"/><circle cx="903.4" cy="672.2" r="6.1"/><ellipse cx="979.4" cy="691.4" rx="12.2" ry="7"/><circle cx="1030.7" cy="611.9" r="8.7"/><ellipse cx="981.9" cy="692.2" rx="12.2" ry="7.9"/><ellipse cx="767.4" cy="645.1" rx="4.3" ry="4.9"/><ellipse cx="971.6" cy="685.5" rx="4.7" ry="5.5"/><ellipse cx="1079.7" cy="369.7" rx="4.5" ry="4.8"/></g>
<g fill-opacity="0.8"><ellipse cx="824" cy="197" rx="13.1" ry="12.2"/><path d="M790.9,224.9C793.1,224.9 795.6,226 797.6,227.7C799.5,229.5 801.1,232.4 802.5,235.4C803.9,238.4 805.7,242.4 806.1,245.9C806.6,249.3 806.5,253.3 805.4,256.3C804.3,259.4 802,262.3 799.6,264C797.1,265.7 793.8,266.8 790.9,266.8C788,266.8 784.6,265.7 782.2,264C779.7,262.3 777.4,259.4 776.3,256.3C775.2,253.3 775.1,249.3 775.6,245.9C776.1,242.4 777.8,238.4 779.2,235.4C780.6,232.4 782.2,229.5 784.1,227.7C786.1,226 788.6,224.9 790.9,224.9Z"/><ellipse cx="755.1" cy="371.5" rx="12.2" ry="13.1"/><ellipse cx="869.4" cy="355.8" rx="13.1" ry="14"/><circle cx="872.9" cy="404.7" r="10.5"/><path d="M962.7,426C969.9,419.1 988.8,423.4 995.8,433C1002.8,442.6 1000.2,472.3 1004.6,483.6C1008.9,495 1017.1,495.3 1022,501.1C1027,506.9 1034.2,511.3 1034.2,518.5C1034.2,525.8 1024.9,536 1022,544.7C1019.1,553.5 1019.7,562.8 1016.8,570.9C1013.9,579.1 1009.5,588.4 1004.6,593.6C999.6,598.8 994.1,598.8 987.1,602.3C980.1,605.8 968.5,618.3 962.7,614.6C956.8,610.8 953.9,602.9 952.2,579.6C950.4,556.4 950.4,500.5 952.2,474.9C953.9,449.3 955.4,433 962.7,426Z"/><ellipse cx="822.3" cy="579.6" rx="14" ry="16.6"/><ellipse cx="1051.7" cy="456.6" rx="16.6" ry="13.1"/></g>
<g fill-opacity="0.87"><path d="M846.7,221.4C848.8,221.4 851.3,223.7 852.8,227.5C854.3,231.3 853.9,237.6 855.8,244.1C857.6,250.7 862,259.2 864,266.8C866.1,274.4 868.8,282.9 868.2,289.5C867.6,296 864,302.3 860.5,306.1C856.9,309.9 851.3,312.2 846.7,312.2C842.1,312.2 836.6,309.9 833,306.1C829.4,302.3 825.8,296 825.2,289.5C824.6,282.9 827.3,274.4 829.4,266.8C831.5,259.2 835.8,250.7 837.7,244.1C839.5,237.6 839.1,231.3 840.6,227.5C842.1,223.7 844.7,221.4 846.7,221.4Z"/><path d="M913,233.6C915.2,233.6 917.5,235.1 919.4,237.4C921.4,239.7 922.7,243.6 924.8,247.6C926.9,251.6 931,256.9 932.1,261.6C933.3,266.2 933,271.5 931.7,275.5C930.3,279.6 927.3,283.4 924.2,285.8C921.1,288.1 916.7,289.5 913,289.5C909.3,289.5 905,288.1 901.9,285.8C898.8,283.4 895.8,279.6 894.4,275.5C893.1,271.5 892.8,266.2 893.9,261.6C895.1,256.9 899.1,251.6 901.3,247.6C903.4,243.6 904.7,239.7 906.6,237.4C908.6,235.1 910.9,233.6 913,233.6Z"/><path d="M818.8,406.8C821.8,406.8 825.4,409.7 827.8,414.3C830.1,419 829.3,426.7 832.7,434.8C836.2,442.8 845,453.4 848.6,462.7C852.1,472 855.5,482.6 854.1,490.6C852.8,498.7 846.5,506.4 840.6,511.1C834.7,515.7 826.1,518.5 818.8,518.5C811.5,518.5 802.8,515.7 796.9,511.1C791,506.4 784.8,498.7 783.4,490.6C782.1,482.6 785.4,472 789,462.7C792.6,453.4 801.4,442.8 804.8,434.8C808.3,426.7 807.5,419 809.8,414.3C812.1,409.7 815.8,406.8 818.8,406.8Z"/></g>
</g>
<g filter="url(#fc)">
<g fill-opacity="0.62"><ellipse cx="827.2" cy="82.5" rx="9" ry="9.8"/><ellipse cx="889.9" cy="198.6" rx="7.7" ry="6.4"/><circle cx="902" cy="212.8" r="4.6"/><circle cx="832.7" cy="247.6" r="6.1"/><circle cx="817.9" cy="305.2" r="4.4"/><circle cx="761.2" cy="348.8" r="7"/><circle cx="839.7" cy="320.9" r="7"/><ellipse cx="946.2" cy="334.9" rx="8.7" ry="7"/><circle cx="986.4" cy="341.9" r="7"/><circle cx="969.6" cy="240.6" r="8.7"/><ellipse cx="990.6" cy="343.6" rx="12.2" ry="8.7"/><circle cx="1027.2" cy="425.6" r="5.2"/><circle cx="801.3" cy="567.4" r="7.9"/><circle cx="850.2" cy="570" r="7"/><circle cx="858.9" cy="633.8" r="6.1"/><ellipse cx="946.2" cy="666.9" rx="10.5" ry="7.9"/><circle cx="965.4" cy="684.4" r="5.2"/><circle cx="1053.4" cy="554.3" r="6.6"/><circle cx="1014.2" cy="648.6" r="8.4"/><ellipse cx="987.1" cy="610.2" rx="10.5" ry="8.7"/><ellipse cx="878.4" cy="656.2" rx="5.2" ry="6"/><ellipse cx="1052.4" cy="630.1" rx="4.6" ry="5.6"/><ellipse cx="1036.2" cy="497.2" rx="4.9" ry="5.3"/></g>
<g fill-opacity="0.8"><circle cx="790" cy="212.7" r="13.1"/><path d="M782.1,266.8C783.8,266.8 785.7,267.9 787,269.8C788.3,271.6 788.9,274.7 790,277.9C791,281.1 792.7,285.3 793.1,289.1C793.6,292.8 793.4,297 792.6,300.2C791.9,303.4 790.2,306.5 788.4,308.3C786.7,310.2 784.2,311.3 782.1,311.3C780,311.3 777.6,310.2 775.8,308.3C774.1,306.5 772.4,303.4 771.6,300.2C770.8,297 770.7,292.8 771.2,289.1C771.6,285.3 773.3,281.1 774.3,277.9C775.3,274.7 775.9,271.6 777.2,269.8C778.6,267.9 780.5,266.8 782.1,266.8Z"/><path d="M872.9,217.9C874.7,217.9 877,219.3 878.2,221.7C879.5,224 879.5,227.9 880.3,231.9C881.1,235.9 882.6,241.2 883,245.9C883.4,250.5 883.3,255.8 882.6,259.8C881.9,263.9 880.3,267.7 878.7,270C877.1,272.4 874.8,273.8 872.9,273.8C871,273.8 868.7,272.4 867.1,270C865.5,267.7 863.9,263.9 863.2,259.8C862.5,255.8 862.4,250.5 862.8,245.9C863.2,241.2 864.7,235.9 865.5,231.9C866.3,227.9 866.3,224 867.6,221.7C868.8,219.3 871.1,217.9 872.9,217.9Z"/><ellipse cx="925.3" cy="298.2" rx="8.7" ry="7.9"/><circle cx="799.6" cy="364.6" r="10.5"/><ellipse cx="864.2" cy="375" rx="11.3" ry="9.6"/><ellipse cx="923.5" cy="408.2" rx="10.5" ry="9.6"/><ellipse cx="880.7" cy="703.6" rx="10.5" ry="6.1"/></g>
<g fill-opacity="0.87"><path d="M951.4,221.4C953.3,221.4 955.5,223.6 957.1,227.1C958.7,230.7 958.8,236.6 960.9,242.8C963,249 967.7,257.1 969.7,264.2C971.7,271.3 973.5,279.4 972.7,285.6C971.9,291.7 968.3,297.7 964.8,301.2C961.3,304.8 955.9,306.9 951.4,306.9C947,306.9 941.6,304.8 938.1,301.2C934.5,297.7 931,291.7 930.2,285.6C929.3,279.4 931.2,271.3 933.2,264.2C935.2,257.1 939.9,249 942,242.8C944.1,236.6 944.2,230.7 945.8,227.1C947.4,223.6 949.6,221.4 951.4,221.4Z"/><path d="M851.9,483.6C854.4,483.6 857.4,486.1 859.3,490.1C861.2,494.1 860.9,500.7 863.4,507.6C865.9,514.6 872.1,523.6 874.3,531.6C876.6,539.6 878.2,548.7 877,555.6C875.9,562.6 871.5,569.2 867.4,573.2C863.2,577.2 857.1,579.6 851.9,579.6C846.8,579.6 840.7,577.2 836.5,573.2C832.4,569.2 828,562.6 826.9,555.6C825.7,548.7 827.3,539.6 829.6,531.6C831.8,523.6 838,514.6 840.5,507.6C843,500.7 842.7,494.1 844.6,490.1C846.5,486.1 849.5,483.6 851.9,483.6Z"/></g>
</g>
<g filter="url(#fc)">
<g fill-opacity="0.62"><circle cx="853.8" cy="80.5" r="4.6"/><ellipse cx="934.5" cy="198.6" rx="8.3" ry="7.2"/><ellipse cx="904.1" cy="227" rx="7.7" ry="7.2"/><circle cx="901.7" cy="212.7" r="3.8"/><circle cx="838" cy="261.6" r="4.4"/><circle cx="893" cy="240.6" r="7"/><circle cx="780.4" cy="334.9" r="5.2"/><circle cx="830.1" cy="315.7" r="6.1"/><ellipse cx="886.9" cy="320.9" rx="8.7" ry="7"/><ellipse cx="818.8" cy="334.9" rx="12.2" ry="8.7"/><ellipse cx="906.1" cy="427.4" rx="10.5" ry="7.9"/><circle cx="1015" cy="276.4" r="6.1"/><circle cx="980.1" cy="357.6" r="8.7"/><circle cx="853.7" cy="591.9" r="10.5"/><circle cx="809.2" cy="607.6" r="6.1"/><circle cx="851.9" cy="656.4" r="4.4"/><ellipse cx="904.3" cy="644.2" rx="8.7" ry="10.5"/><circle cx="953.2" cy="653" r="7"/><circle cx="883.4" cy="605.8" r="8.7"/><circle cx="1033.4" cy="638.1" r="4.4"/><circle cx="1001.1" cy="607.6" r="7"/><ellipse cx="978" cy="684" rx="5.5" ry="5.7"/><ellipse cx="753.3" cy="312.9" rx="4.1" ry="4.6"/><ellipse cx="1040.2" cy="439.6" rx="5.9" ry="5.5"/></g>
<g fill-opacity="0.8"><ellipse cx="861.5" cy="240.6" rx="13.1" ry="10.5"/><ellipse cx="886.9" cy="281.6" rx="13.1" ry="12.2"/><ellipse cx="852.8" cy="313.9" rx="11.3" ry="10.5"/><ellipse cx="913" cy="362.8" rx="10.5" ry="8.7"/><ellipse cx="939.2" cy="355.8" rx="10.5" ry="9.6"/><ellipse cx="831" cy="422.2" rx="12.2" ry="11.3"/><ellipse cx="1051.7" cy="453.6" rx="15.7" ry="10.5"/><path d="M990.6,249.3C994,249.3 998.5,251.5 1001,255.1C1003.5,258.6 1004,264.6 1005.7,270.7C1007.4,276.9 1009.9,285 1011.1,292.1C1012.4,299.2 1014,307.3 1013,313.5C1011.9,319.7 1008.6,325.6 1004.9,329.1C1001.1,332.7 995.4,334.9 990.6,334.9C985.8,334.9 980,332.7 976.3,329.1C972.6,325.6 969.3,319.7 968.2,313.5C967.2,307.3 968.8,299.2 970,292.1C971.2,285 973.8,276.9 975.5,270.7C977.2,264.6 977.7,258.6 980.2,255.1C982.7,251.5 987.1,249.3 990.6,249.3Z"/><path d="M1027.2,373.3C1028.8,373.3 1030.7,374.5 1032,376.4C1033.2,378.4 1033.5,381.7 1034.6,385.1C1035.6,388.5 1037.6,392.9 1038.1,396.8C1038.6,400.8 1038.5,405.2 1037.8,408.6C1037,412 1035.3,415.3 1033.5,417.2C1031.8,419.2 1029.3,420.4 1027.2,420.4C1025.1,420.4 1022.7,419.2 1021,417.2C1019.2,415.3 1017.5,412 1016.7,408.6C1016,405.2 1015.8,400.8 1016.4,396.8C1016.9,392.9 1018.9,388.5 1019.9,385.1C1020.9,381.7 1021.3,378.4 1022.5,376.4C1023.7,374.5 1025.7,373.3 1027.2,373.3Z"/><ellipse cx="1054.3" cy="590.1" rx="10.1" ry="9.6"/></g>
<g fill-opacity="0.93"><path d="M925.3,474.9C928.5,474.9 932.6,479 935.1,485.8C937.5,492.5 936.9,503.8 940.1,515.5C943.2,527.2 950.6,542.5 953.8,556.1C957,569.6 960.5,584.9 959.3,596.7C958.1,608.4 952.3,619.6 946.6,626.4C941,633.1 932.4,637.2 925.3,637.2C918.1,637.2 909.6,633.1 903.9,626.4C898.2,619.6 892.4,608.4 891.2,596.7C890,584.9 893.5,569.6 896.7,556.1C899.9,542.5 907.3,527.2 910.5,515.5C913.6,503.8 913,492.5 915.4,485.8C917.9,479 922,474.9 925.3,474.9Z"/></g>
</g>
<g filter="url(#fc)">
<g fill-opacity="0.8"><circle cx="985.3" cy="156" r="10.3"/><ellipse cx="895.6" cy="301.7" rx="10.5" ry="8.7"/><ellipse cx="890.3" cy="506.3" rx="22.7" ry="27.9"/><ellipse cx="920" cy="665.2" rx="10.5" ry="11.3"/><circle cx="972.4" cy="659.1" r="9.6"/></g>
<g fill-opacity="0.62"><circle cx="1047.7" cy="216.6" r="5.7"/><ellipse cx="1087.2" cy="317.2" rx="4.6" ry="7.7"/><circle cx="903.4" cy="226.7" r="6.6"/><circle cx="820.5" cy="270.3" r="5.2"/><circle cx="970.6" cy="242.4" r="8.7"/><circle cx="768.2" cy="380.3" r="6.1"/><circle cx="902.6" cy="324.4" r="6.1"/><circle cx="796.1" cy="343.6" r="7.9"/><ellipse cx="918.3" cy="378.5" rx="9.6" ry="7.9"/><circle cx="965.4" cy="361.1" r="7"/><circle cx="799.6" cy="427.4" r="7.9"/><circle cx="1047.3" cy="217.1" r="5.2"/><ellipse cx="1086.6" cy="318.3" rx="4.4" ry="7.9"/><circle cx="1045.6" cy="368" r="7"/><circle cx="777.8" cy="590.1" r="9.6"/><circle cx="869.4" cy="567.4" r="7.9"/><circle cx="845" cy="621.5" r="5.2"/><circle cx="830.1" cy="687" r="3.8"/><circle cx="888.6" cy="619.8" r="7"/><circle cx="1020.3" cy="591.9" r="6.1"/><circle cx="972.3" cy="659.1" r="10.5"/><circle cx="976.6" cy="619.8" r="7"/><ellipse cx="836" cy="682.7" rx="5.7" ry="5.8"/><ellipse cx="749.7" cy="465.5" rx="4.5" ry="5.3"/></g>
</g>
<g filter="url(#bl05)" opacity="0.9"><g fill="url(#ks)"><circle cx="1021.4" cy="328" r="4.3"/><circle cx="1022" cy="327.9" r="4.2"/></g><g fill="url(#dm)"><ellipse cx="778.3" cy="338.2" rx="7.4" ry="6.9"/><ellipse cx="805.4" cy="378.8" rx="10.7" ry="12.8"/><ellipse cx="783.9" cy="320.6" rx="6.2" ry="6.5"/><circle cx="830.3" cy="501.6" r="5.5"/><ellipse cx="830.6" cy="433.3" rx="9.1" ry="8.8"/><ellipse cx="833.6" cy="498.9" rx="8.7" ry="10"/><ellipse cx="871" cy="369.3" rx="11.4" ry="10.5"/><ellipse cx="973.5" cy="595.2" rx="9.7" ry="9.4"/><ellipse cx="891.7" cy="424.9" rx="6.9" ry="7.3"/><ellipse cx="846.1" cy="399.7" rx="8.9" ry="9.8"/><ellipse cx="988.3" cy="404.1" rx="5.8" ry="5.4"/><ellipse cx="800.8" cy="435.7" rx="12.2" ry="11.4"/><ellipse cx="829.7" cy="413.5" rx="7.5" ry="8"/><ellipse cx="806.9" cy="333.6" rx="13" ry="15.5"/><ellipse cx="829.3" cy="355.2" rx="13.1" ry="13.6"/><ellipse cx="850.1" cy="426.6" rx="9.4" ry="10.8"/><ellipse cx="938.7" cy="469.2" rx="11.4" ry="11.1"/><ellipse cx="876.3" cy="396.1" rx="5.8" ry="5.5"/><ellipse cx="928.1" cy="508.7" rx="12.4" ry="14.1"/><ellipse cx="961.1" cy="488.5" rx="8.8" ry="8.6"/><circle cx="827.6" cy="508.9" r="6.7"/><ellipse cx="875.3" cy="477.7" rx="7" ry="8.4"/><ellipse cx="961.3" cy="497.1" rx="5.7" ry="6.5"/><ellipse cx="831.1" cy="383.5" rx="12" ry="12.3"/><ellipse cx="967" cy="484.1" rx="6.3" ry="7"/><ellipse cx="844.9" cy="368.7" rx="11.2" ry="10.9"/><ellipse cx="966" cy="381.6" rx="6.8" ry="7.6"/><ellipse cx="874.4" cy="562.2" rx="5.2" ry="6.1"/><ellipse cx="962.3" cy="602" rx="7.9" ry="8.7"/><ellipse cx="816.6" cy="574.8" rx="11.4" ry="11.2"/><ellipse cx="848.6" cy="396.6" rx="12" ry="12.9"/><ellipse cx="883.9" cy="564.2" rx="6.2" ry="7.2"/><ellipse cx="921.1" cy="408.7" rx="5.4" ry="4.8"/><ellipse cx="1019.7" cy="467.4" rx="6.7" ry="7.2"/><ellipse cx="1006.8" cy="404.9" rx="7.4" ry="7.8"/><ellipse cx="834.8" cy="439.6" rx="11.3" ry="13.5"/><ellipse cx="839.6" cy="588.3" rx="7.6" ry="7.4"/><ellipse cx="863.5" cy="548" rx="10.8" ry="10.1"/><ellipse cx="787.9" cy="406.3" rx="5.1" ry="5"/><ellipse cx="902.8" cy="392.4" rx="10.7" ry="12.5"/><ellipse cx="866.5" cy="357.4" rx="5.3" ry="4.8"/><ellipse cx="862" cy="432.3" rx="7.6" ry="8.4"/><ellipse cx="972.2" cy="453.3" rx="7.5" ry="7.7"/><ellipse cx="897.5" cy="346.7" rx="9" ry="8.5"/><ellipse cx="877.9" cy="377.7" rx="7" ry="7.9"/><ellipse cx="996.6" cy="442.9" rx="5.2" ry="6.1"/><ellipse cx="966.2" cy="405.5" rx="9.8" ry="10.1"/><ellipse cx="796.1" cy="332.1" rx="11.1" ry="11.6"/><ellipse cx="817.1" cy="386.9" rx="6.8" ry="7.3"/><ellipse cx="965.9" cy="507.6" rx="11.7" ry="12.4"/><ellipse cx="846.2" cy="485.3" rx="11" ry="11.7"/><ellipse cx="844.9" cy="325.4" rx="9.4" ry="10.3"/><ellipse cx="969.7" cy="544.4" rx="10.6" ry="10.9"/><circle cx="871" cy="432.3" r="12.1"/><ellipse cx="910" cy="525.5" rx="5.9" ry="6.2"/><ellipse cx="858.1" cy="370.4" rx="5.4" ry="5.7"/><ellipse cx="868.4" cy="591.6" rx="11" ry="12.3"/><ellipse cx="839.2" cy="426" rx="7.6" ry="9"/><circle cx="801.1" cy="355.6" r="6.6"/><circle cx="852.6" cy="560.9" r="10.5"/><ellipse cx="938.7" cy="614" rx="7.2" ry="7.4"/><ellipse cx="945.6" cy="381.9" rx="6.1" ry="5.7"/><ellipse cx="961.6" cy="521" rx="5.4" ry="5.9"/><ellipse cx="907.5" cy="417" rx="5.7" ry="6.4"/><ellipse cx="1028.5" cy="394.3" rx="7.2" ry="8.5"/><ellipse cx="900.8" cy="543.5" rx="7.3" ry="7.5"/><ellipse cx="918.1" cy="501.8" rx="11.4" ry="10.6"/><ellipse cx="935.5" cy="499.8" rx="9.9" ry="10.5"/><ellipse cx="916.8" cy="488" rx="5" ry="5.9"/><ellipse cx="1029.7" cy="395.8" rx="12.9" ry="12"/><ellipse cx="841.2" cy="451.4" rx="6.3" ry="6.9"/><ellipse cx="952.5" cy="504.6" rx="6.5" ry="6.4"/><ellipse cx="947.6" cy="430.7" rx="6.7" ry="6.2"/><ellipse cx="875.2" cy="355.1" rx="6.6" ry="7.7"/><ellipse cx="807.1" cy="386.1" rx="5.2" ry="5.5"/><ellipse cx="857.2" cy="449.4" rx="6.4" ry="7.2"/><ellipse cx="878" cy="595.4" rx="5.1" ry="4.8"/><ellipse cx="798.5" cy="325.2" rx="5.6" ry="6.3"/><ellipse cx="1041.5" cy="410.8" rx="11.3" ry="13"/><ellipse cx="1013.6" cy="376.2" rx="8" ry="8.6"/><ellipse cx="790.2" cy="492.1" rx="7" ry="7.7"/><ellipse cx="1011.2" cy="338.3" rx="8.7" ry="8"/><ellipse cx="843.4" cy="416.8" rx="11.1" ry="11.7"/><ellipse cx="815.8" cy="555.7" rx="5.5" ry="6.2"/><ellipse cx="829" cy="421.1" rx="9" ry="10.1"/><ellipse cx="867.3" cy="579.2" rx="6.4" ry="6.5"/><ellipse cx="852.9" cy="595.2" rx="10.2" ry="12"/><ellipse cx="828.2" cy="536.7" rx="10" ry="11.6"/><ellipse cx="948.5" cy="484.9" rx="12.5" ry="13.4"/><ellipse cx="968.6" cy="593.5" rx="5.1" ry="5.8"/><ellipse cx="963.9" cy="474.9" rx="9.1" ry="8.9"/><ellipse cx="1030.5" cy="448" rx="9.1" ry="10.9"/><ellipse cx="1024.8" cy="407.8" rx="8.5" ry="9.9"/><ellipse cx="863.1" cy="437.3" rx="5" ry="4.5"/><ellipse cx="944.7" cy="635" rx="9.1" ry="8.8"/><ellipse cx="889.8" cy="609.6" rx="7.7" ry="8.7"/><ellipse cx="998.7" cy="552.7" rx="6.2" ry="7.2"/><ellipse cx="878.8" cy="447.5" rx="8.5" ry="9.4"/><ellipse cx="800.7" cy="520.2" rx="7.7" ry="7.9"/><ellipse cx="843.5" cy="363.4" rx="5" ry="5.4"/><ellipse cx="801.4" cy="415.5" rx="8.8" ry="9.6"/><ellipse cx="873" cy="367.4" rx="6.6" ry="7.2"/><ellipse cx="889.4" cy="590.3" rx="5.7" ry="6.2"/><ellipse cx="956.7" cy="503.9" rx="5.9" ry="6.3"/><ellipse cx="866.4" cy="404.6" rx="11.4" ry="12.1"/><ellipse cx="803.4" cy="343.8" rx="5.1" ry="5.5"/><circle cx="1022.7" cy="537.9" r="6.6"/><ellipse cx="837.4" cy="523.8" rx="5.1" ry="5.7"/><ellipse cx="980.8" cy="382.6" rx="6.5" ry="6.3"/><circle cx="918.9" cy="468.9" r="13.2"/><ellipse cx="852.3" cy="584.6" rx="8.9" ry="9.4"/><ellipse cx="951.5" cy="385.7" rx="12.9" ry="12.7"/><ellipse cx="792.9" cy="363.2" rx="7.2" ry="8.1"/><ellipse cx="804.7" cy="542.4" rx="5" ry="5.9"/><ellipse cx="892.7" cy="608.7" rx="9.9" ry="9.4"/><ellipse cx="898.7" cy="388.9" rx="6.6" ry="6.7"/><ellipse cx="984" cy="581.7" rx="10.1" ry="10.9"/><ellipse cx="811.7" cy="345.1" rx="9.4" ry="8.5"/><circle cx="1035.2" cy="427.7" r="6.5"/><ellipse cx="901.1" cy="605.1" rx="12.5" ry="14.1"/><ellipse cx="1024.1" cy="512.1" rx="10.6" ry="10.3"/><ellipse cx="1037.1" cy="438.7" rx="10" ry="9.1"/><ellipse cx="954.9" cy="573" rx="9.6" ry="11.3"/><ellipse cx="888.6" cy="362.8" rx="6.3" ry="7.3"/><ellipse cx="886.3" cy="480.9" rx="6.3" ry="6.7"/><ellipse cx="1004.2" cy="345.8" rx="5.9" ry="6.3"/><ellipse cx="848.7" cy="369.6" rx="7.4" ry="7.8"/><ellipse cx="908.8" cy="619.4" rx="7.2" ry="6.6"/><ellipse cx="920.7" cy="407.2" rx="11.3" ry="13.1"/><ellipse cx="1038" cy="370.2" rx="11.4" ry="12.8"/><ellipse cx="965.9" cy="380.5" rx="7.4" ry="6.6"/><ellipse cx="870.8" cy="508.4" rx="5.2" ry="5.3"/><ellipse cx="782.6" cy="367" rx="9.6" ry="11.3"/><ellipse cx="1004.7" cy="385.9" rx="10.3" ry="12.3"/><ellipse cx="842.7" cy="566" rx="12.3" ry="11.3"/><ellipse cx="847.5" cy="486.6" rx="5.1" ry="5.8"/><ellipse cx="888.6" cy="427.5" rx="6.9" ry="6.8"/><ellipse cx="955.1" cy="580.7" rx="6.6" ry="7.9"/><ellipse cx="967.7" cy="548" rx="7.3" ry="7.2"/><ellipse cx="837.4" cy="371.6" rx="7.4" ry="6.8"/><ellipse cx="814.4" cy="571.1" rx="7.9" ry="9.5"/><ellipse cx="815.8" cy="370.1" rx="5.6" ry="6.2"/><ellipse cx="801.6" cy="509.5" rx="7.8" ry="9.4"/><ellipse cx="858.1" cy="487.7" rx="9.5" ry="8.9"/><ellipse cx="830.6" cy="335.9" rx="10.9" ry="12.3"/><ellipse cx="971.7" cy="366.9" rx="6.2" ry="5.6"/><ellipse cx="806.8" cy="310" rx="10.1" ry="10.3"/><ellipse cx="1009.7" cy="353.9" rx="5.8" ry="6.1"/><ellipse cx="984.5" cy="435.8" rx="10.2" ry="11.8"/><ellipse cx="891.6" cy="405.9" rx="7" ry="8.2"/><ellipse cx="874" cy="537.2" rx="8.2" ry="9.8"/><ellipse cx="839.9" cy="522" rx="5.9" ry="6.1"/><ellipse cx="779" cy="388.7" rx="8.1" ry="7.9"/><ellipse cx="989.1" cy="556" rx="5.3" ry="6.2"/><ellipse cx="838.4" cy="361.7" rx="7.7" ry="8.7"/><ellipse cx="886.2" cy="379.2" rx="6.9" ry="6.4"/><ellipse cx="855.7" cy="348.1" rx="10.2" ry="9.8"/><ellipse cx="964.6" cy="580.5" rx="6.3" ry="5.7"/><ellipse cx="795.8" cy="536.3" rx="5.7" ry="5.4"/><ellipse cx="810.1" cy="366.6" rx="12.7" ry="11.4"/><ellipse cx="955.1" cy="425.8" rx="8.1" ry="8.7"/><ellipse cx="984" cy="386.5" rx="9" ry="8.6"/><ellipse cx="958.6" cy="534.7" rx="9.9" ry="11"/><ellipse cx="889.9" cy="407.5" rx="9.1" ry="8.6"/><ellipse cx="961.9" cy="460.5" rx="12.4" ry="11.8"/><ellipse cx="925" cy="524.9" rx="7.5" ry="8.7"/><ellipse cx="840.9" cy="443.2" rx="10.8" ry="12.5"/><ellipse cx="969.6" cy="497.9" rx="8.7" ry="9.1"/><ellipse cx="804.7" cy="386.7" rx="11.2" ry="13"/><ellipse cx="855.5" cy="584.7" rx="13.1" ry="12.7"/><ellipse cx="918.9" cy="490.5" rx="6.6" ry="6.9"/><ellipse cx="862.8" cy="359.4" rx="8.7" ry="9.9"/><ellipse cx="991.4" cy="449.9" rx="8.2" ry="8.9"/><ellipse cx="897" cy="459.7" rx="9.9" ry="10.3"/><ellipse cx="938" cy="513.2" rx="9.5" ry="8.8"/><ellipse cx="825.9" cy="580.3" rx="6.9" ry="7.8"/><ellipse cx="947.7" cy="367.2" rx="8.7" ry="9"/><ellipse cx="963.8" cy="354.4" rx="7.9" ry="8.2"/><circle cx="792.3" cy="310.5" r="6.5"/><ellipse cx="894" cy="368.3" rx="13" ry="11.9"/><ellipse cx="805.6" cy="522.1" rx="13" ry="12.8"/><ellipse cx="839" cy="372" rx="9.8" ry="10.6"/><ellipse cx="957.4" cy="582.1" rx="7.7" ry="7.9"/><ellipse cx="919.3" cy="424.5" rx="8" ry="7.6"/><ellipse cx="846.6" cy="522.4" rx="8.4" ry="8.2"/><ellipse cx="972.2" cy="362.8" rx="9.4" ry="9.1"/><ellipse cx="877.1" cy="528.7" rx="6.1" ry="6.5"/><ellipse cx="942.9" cy="501.1" rx="5.8" ry="5.9"/><ellipse cx="1020.1" cy="417.3" rx="10.1" ry="10.8"/><ellipse cx="958.7" cy="374.1" rx="11.4" ry="11.2"/><ellipse cx="874.9" cy="564.6" rx="12.7" ry="12.5"/><ellipse cx="825.6" cy="540" rx="10.5" ry="12.4"/><ellipse cx="877.2" cy="463.7" rx="5.2" ry="4.8"/><ellipse cx="829.7" cy="562.5" rx="8.1" ry="8"/><ellipse cx="795.2" cy="413.2" rx="7.4" ry="8.1"/><ellipse cx="965.2" cy="553.6" rx="10.7" ry="12.4"/><ellipse cx="899.9" cy="441.4" rx="5.1" ry="5.3"/><ellipse cx="866.9" cy="542.1" rx="12.3" ry="13.1"/><ellipse cx="784.6" cy="323.6" rx="11.8" ry="12.8"/><ellipse cx="824.7" cy="383.9" rx="6.7" ry="6.5"/><ellipse cx="800.8" cy="437.4" rx="6.3" ry="6.4"/><ellipse cx="935.2" cy="452.1" rx="8" ry="8.4"/><ellipse cx="976.8" cy="547.9" rx="9.8" ry="9.2"/><ellipse cx="835" cy="403.8" rx="8.9" ry="10.3"/><ellipse cx="1009" cy="390.2" rx="10.3" ry="12"/><ellipse cx="896.6" cy="573.3" rx="9.4" ry="9.7"/><ellipse cx="933.6" cy="472.8" rx="8.8" ry="9.6"/><ellipse cx="967.5" cy="448.9" rx="12.8" ry="13.1"/><ellipse cx="816.1" cy="427.8" rx="5.5" ry="5.8"/><ellipse cx="1022.1" cy="378.6" rx="8.7" ry="7.8"/><ellipse cx="857.7" cy="320.2" rx="5" ry="5.8"/><ellipse cx="809" cy="538.7" rx="11.7" ry="11.6"/><ellipse cx="997.1" cy="430.2" rx="12.1" ry="11.9"/><ellipse cx="907.8" cy="491.5" rx="7.6" ry="7.7"/><ellipse cx="788.6" cy="384.8" rx="6.3" ry="6.9"/><ellipse cx="1020.6" cy="358.2" rx="11.7" ry="13.1"/><circle cx="905.9" cy="484.1" r="5"/><ellipse cx="835.7" cy="513.9" rx="8.6" ry="10"/><ellipse cx="1009.6" cy="561.4" rx="11" ry="12.1"/><ellipse cx="912.2" cy="484.2" rx="12.5" ry="12.4"/><ellipse cx="798.4" cy="539.5" rx="9.8" ry="11.2"/><ellipse cx="971.1" cy="540.5" rx="8.4" ry="9.1"/><ellipse cx="909.8" cy="499.4" rx="5.6" ry="6.6"/><ellipse cx="802.9" cy="371.7" rx="5.4" ry="4.8"/><ellipse cx="793.6" cy="417.1" rx="9.9" ry="11.7"/><ellipse cx="777.8" cy="337.4" rx="7" ry="8.2"/><ellipse cx="961.5" cy="380.6" rx="11.9" ry="11.7"/><ellipse cx="920.2" cy="467.7" rx="6.3" ry="7"/><circle cx="955.2" cy="496.2" r="8.7"/><ellipse cx="882.3" cy="570.3" rx="7.5" ry="7.4"/><ellipse cx="972.2" cy="512.7" rx="12.9" ry="13.6"/><ellipse cx="805.5" cy="561.5" rx="7" ry="8.2"/><circle cx="936.7" cy="470.6" r="6.5"/><ellipse cx="984" cy="605.6" rx="11.2" ry="12.9"/><ellipse cx="953" cy="636.9" rx="10.3" ry="9.8"/><ellipse cx="786.1" cy="410.8" rx="9" ry="8.8"/><ellipse cx="1031.6" cy="522.4" rx="10.8" ry="9.8"/><ellipse cx="982.6" cy="559.2" rx="8.6" ry="9"/><ellipse cx="817.8" cy="366.6" rx="7.2" ry="6.8"/><ellipse cx="924.9" cy="509" rx="7" ry="6.5"/><ellipse cx="793.5" cy="435.4" rx="11.2" ry="11.4"/><ellipse cx="833.6" cy="520" rx="11.3" ry="13.3"/><ellipse cx="991.6" cy="603.5" rx="12.5" ry="14.7"/><ellipse cx="836.6" cy="582.1" rx="5.1" ry="4.6"/><ellipse cx="983.8" cy="435.2" rx="6.6" ry="6.4"/><ellipse cx="974.7" cy="382.5" rx="10.8" ry="12.9"/><ellipse cx="972.7" cy="444" rx="8.8" ry="9.2"/><ellipse cx="796.6" cy="554.4" rx="6.5" ry="6.4"/><ellipse cx="968.6" cy="606.6" rx="10.9" ry="12.4"/><ellipse cx="786" cy="360.6" rx="9" ry="9.7"/><ellipse cx="865.5" cy="559.4" rx="5" ry="5.4"/><ellipse cx="889.6" cy="479.1" rx="7.4" ry="7"/><ellipse cx="1015" cy="442" rx="6.7" ry="7.8"/><ellipse cx="922.6" cy="440.8" rx="12.8" ry="13.4"/><ellipse cx="900" cy="454.5" rx="5.7" ry="6.4"/><circle cx="816" cy="343.1" r="9.9"/><ellipse cx="873.8" cy="399.7" rx="5.3" ry="4.8"/><ellipse cx="869.3" cy="529.7" rx="12.8" ry="14.4"/><ellipse cx="822.7" cy="427.3" rx="5.2" ry="4.6"/><ellipse cx="886.2" cy="443.2" rx="13.1" ry="15.3"/><ellipse cx="884" cy="555.3" rx="5" ry="5.4"/><ellipse cx="1017.9" cy="354.5" rx="9.1" ry="10.7"/><ellipse cx="809.8" cy="387.5" rx="5.6" ry="5.3"/><ellipse cx="824.3" cy="328.9" rx="5.1" ry="4.6"/><ellipse cx="823.5" cy="355.3" rx="5.5" ry="5.8"/><ellipse cx="1013.2" cy="389.8" rx="11.4" ry="12.9"/><ellipse cx="882.4" cy="409.6" rx="9" ry="10.3"/><ellipse cx="869.1" cy="413.1" rx="9.1" ry="10.6"/><ellipse cx="912.3" cy="489" rx="10.3" ry="9.9"/><ellipse cx="815.9" cy="405.7" rx="9.8" ry="11.7"/><ellipse cx="925.1" cy="353.6" rx="11.1" ry="12.1"/><ellipse cx="986.7" cy="612" rx="7.7" ry="8.6"/><ellipse cx="897.5" cy="537.9" rx="6.2" ry="7"/><ellipse cx="998.9" cy="424.6" rx="5.2" ry="5.1"/><circle cx="808.3" cy="550.4" r="5.8"/><ellipse cx="886.8" cy="618.9" rx="10.5" ry="10.6"/><ellipse cx="820.9" cy="553.9" rx="5.4" ry="5.9"/><ellipse cx="898" cy="480.9" rx="5.3" ry="5.6"/><ellipse cx="852.4" cy="383.3" rx="8.8" ry="10.1"/><ellipse cx="937.1" cy="508.4" rx="8.8" ry="10.3"/><ellipse cx="914.7" cy="403.6" rx="5.5" ry="5.6"/><ellipse cx="943.4" cy="507" rx="6.4" ry="6.9"/><ellipse cx="851.8" cy="314.9" rx="11.7" ry="11.8"/><ellipse cx="842.5" cy="321.2" rx="7.3" ry="8.6"/><circle cx="969.9" cy="562.8" r="8.6"/><ellipse cx="836.6" cy="338.7" rx="8.9" ry="9.7"/><ellipse cx="1037" cy="391.6" rx="6.9" ry="7.9"/><ellipse cx="960.4" cy="473.3" rx="6.8" ry="7"/><ellipse cx="902.8" cy="606.8" rx="11.8" ry="11.6"/><ellipse cx="930.9" cy="493.4" rx="5" ry="5.1"/></g><g fill="url(#ds)"><ellipse cx="771.9" cy="611.2" rx="4.3" ry="4.5"/><ellipse cx="996.6" cy="638.4" rx="2.3" ry="2.1"/><ellipse cx="839.2" cy="641.7" rx="3.9" ry="4.4"/><ellipse cx="839.5" cy="681.5" rx="3.6" ry="3.5"/><ellipse cx="843.1" cy="661.5" rx="2.5" ry="2.4"/><ellipse cx="875.4" cy="679.3" rx="4.4" ry="4.6"/><circle cx="842.3" cy="675.5" r="2.3"/><ellipse cx="890.1" cy="666.1" rx="2.3" ry="2.6"/></g><g fill="url(#dm)"><ellipse cx="965.1" cy="684.7" rx="5.9" ry="7"/><ellipse cx="1035.3" cy="604.7" rx="5.7" ry="6.9"/><ellipse cx="854.1" cy="684.4" rx="4.5" ry="5.3"/><ellipse cx="1059.9" cy="617.9" rx="5.9" ry="6.2"/></g><g fill="url(#ds)"><circle cx="775.4" cy="493.2" r="2.3"/><ellipse cx="773.6" cy="380.7" rx="2.9" ry="3.3"/><circle cx="748.4" cy="415.5" r="4.1"/><ellipse cx="777.3" cy="458.2" rx="4.3" ry="4.1"/></g><g fill="url(#dm)"><ellipse cx="764.7" cy="448.2" rx="5.5" ry="6.5"/><ellipse cx="752.8" cy="477.4" rx="6.6" ry="6.8"/></g><g fill="url(#ds)"><ellipse cx="1036.9" cy="410.8" rx="3.5" ry="3.6"/><ellipse cx="1070.8" cy="392.3" rx="4.1" ry="4"/></g><g fill="url(#dm)"><ellipse cx="1064.8" cy="371.5" rx="6.3" ry="5.8"/><ellipse cx="1054.7" cy="441.4" rx="4.7" ry="5.1"/></g><g fill="url(#hm)"><circle cx="913" cy="565.7" r="9.6"/><circle cx="923.5" cy="597.1" r="8.6"/><circle cx="949.7" cy="590.1" r="7.7"/><circle cx="909.6" cy="616.3" r="7.7"/><circle cx="899.1" cy="607.6" r="6.7"/></g></g>
<g filter="url(#fo)"><ellipse cx="1002.8" cy="268.5" rx="5.9" ry="17.5"/></g>
<g filter="url(#fo)"><ellipse cx="1000.2" cy="313.9" rx="7.7" ry="20.1"/></g>
<g filter="url(#fo)"><path d="M1055.6,259.8C1056.2,259.8 1056.6,261.6 1057.1,264.6C1057.6,267.6 1057.3,272.5 1058.4,277.9C1059.6,283.3 1062.5,290.4 1063.8,297.1C1065.1,303.9 1066.4,311.7 1066.4,318.5C1066.4,325.3 1065.2,332.3 1063.9,337.7C1062.7,343.2 1060.8,348.1 1058.9,351.1C1057,354.1 1054.7,355.8 1052.6,355.8C1050.4,355.8 1048.1,354.1 1046.2,351.1C1044.3,348.1 1042.4,343.2 1041.2,337.7C1039.9,332.3 1038.4,325.3 1038.7,318.5C1039,311.7 1041.1,303.9 1043.1,297.1C1045.1,290.4 1048.9,283.3 1050.6,277.9C1052.3,272.5 1052.6,267.6 1053.4,264.6C1054.3,261.6 1054.9,259.8 1055.6,259.8Z"/></g>
<g filter="url(#fo)" fill-opacity="0.75"><ellipse cx="969.6" cy="392.5" rx="5.2" ry="8.7"/></g>
<g filter="url(#fo)" fill-opacity="0.72"><ellipse cx="1015" cy="469.7" rx="10.5" ry="24.4"/></g>
<g filter="url(#fo)" fill-opacity="0.72"><ellipse cx="1015" cy="451.8" rx="12.2" ry="10.5"/></g>
<g clip-path="url(#cb2)"><g filter="url(#bl05)"><path d="M737.7,412C740,412 743.3,414.6 744.5,419.1C745.7,423.6 744.2,431 745.1,439.1C746,447.3 746.7,457.8 749.8,468C752.8,478.1 759.6,489.9 763.2,500C766.8,510.2 772,520.7 771.3,528.9C770.7,537 764.8,544.4 759.2,548.9C753.6,553.4 744.9,556 737.7,556C730.5,556 721.8,553.4 716.2,548.9C710.6,544.4 704.7,537 704.1,528.9C703.4,520.7 708.6,510.2 712.2,500C715.8,489.9 722.6,478.1 725.6,468C728.7,457.8 729.4,447.3 730.3,439.1C731.2,431 729.7,423.6 730.9,419.1C732.1,414.6 735.4,412 737.7,412Z" fill="#3458ff"/><path d="M737.7,414.6C739.6,414.6 742.3,417.2 743.3,421.6C744.4,426 743,433.1 743.9,441C744.8,449 745.6,459.3 748.6,469.2C751.6,479.1 758.4,490.5 762,500.4C765.6,510.3 770.8,520.6 770.2,528.5C769.6,536.4 763.8,543.6 758.4,548C753,552.4 744.6,554.9 737.7,554.9C730.8,554.9 722.4,552.4 717,548C711.6,543.6 705.8,536.4 705.2,528.5C704.6,520.6 709.8,510.3 713.4,500.4C717,490.5 723.8,479.1 726.8,469.2C729.8,459.3 730.6,449 731.5,441C732.4,433.1 731,426 732.1,421.6C733.1,417.2 735.8,414.6 737.7,414.6Z" fill="#10b0ff"/><path d="M737.7,416.9C739.2,416.9 741.4,419.3 742.3,423.7C743.2,428 742,434.9 742.9,442.7C743.8,450.4 744.5,460.5 747.5,470.2C750.6,479.8 757.3,491 760.9,500.7C764.6,510.4 769.7,520.4 769.2,528.2C768.6,535.9 763,542.9 757.8,547.2C752.5,551.5 744.4,554 737.7,554C731,554 722.9,551.5 717.6,547.2C712.4,542.9 706.8,535.9 706.2,528.2C705.7,520.4 710.8,510.4 714.5,500.7C718.1,491 724.8,479.8 727.9,470.2C730.9,460.5 731.6,450.4 732.5,442.7C733.4,434.9 732.2,428 733.1,423.7C734,419.3 736.2,416.9 737.7,416.9Z" fill="#00e8c0"/><path d="M737.7,419.5C738.8,419.5 740.4,421.9 741.1,426.1C741.8,430.3 740.8,437.1 741.7,444.6C742.6,452.1 743.3,462 746.4,471.4C749.4,480.8 756.2,491.6 759.8,501.1C763.4,510.5 768.4,520.3 768,527.8C767.5,535.4 762.1,542.1 757,546.3C752,550.5 744.1,552.9 737.7,552.9C731.3,552.9 723.4,550.5 718.4,546.3C713.3,542.1 707.9,535.4 707.4,527.8C707,520.3 712,510.5 715.6,501.1C719.2,491.6 726,480.8 729,471.4C732.1,462 732.8,452.1 733.7,444.6C734.6,437.1 733.6,430.3 734.3,426.1C735,421.9 736.6,419.5 737.7,419.5Z" fill="#10f050"/><path d="M737.7,424C738.2,424 738.8,426.3 739.1,430.3C739.5,434.3 738.9,440.7 739.7,447.9C740.6,455.1 741.4,464.4 744.4,473.4C747.4,482.4 754.1,492.7 757.7,501.7C761.3,510.6 766.3,520 766,527.2C765.6,534.4 760.5,540.8 755.8,544.8C751,548.8 743.7,551.1 737.7,551.1C731.7,551.1 724.4,548.8 719.6,544.8C714.9,540.8 709.8,534.4 709.4,527.2C709.1,520 714.1,510.6 717.7,501.7C721.3,492.7 728,482.4 731,473.4C734,464.4 734.8,455.1 735.7,447.9C736.5,440.7 735.9,434.3 736.3,430.3C736.6,426.3 737.2,424 737.7,424Z" fill="#38f800"/><path d="M737.7,428.5C738.1,428.5 738.7,430.6 739,434.4C739.3,438.2 738.8,444.4 739.6,451.2C740.4,458 741.1,466.9 743.9,475.4C746.7,483.9 753,493.8 756.3,502.3C759.7,510.8 764.3,519.7 763.9,526.5C763.6,533.4 758.8,539.5 754.5,543.3C750.1,547.1 743.3,549.3 737.7,549.3C732.1,549.3 725.3,547.1 720.9,543.3C716.6,539.5 711.8,533.4 711.5,526.5C711.1,519.7 715.7,510.8 719.1,502.3C722.4,493.8 728.7,483.9 731.5,475.4C734.3,466.9 735,458 735.8,451.2C736.6,444.4 736.1,438.2 736.4,434.4C736.7,430.6 737.3,428.5 737.7,428.5Z" fill="#78fc00"/><path d="M737.7,433.7C738.1,433.7 738.6,435.7 738.9,439.3C739.2,442.9 738.7,448.6 739.4,455C740.2,461.5 740.8,469.8 743.3,477.8C745.9,485.8 751.6,495 754.6,503C757.7,511 761.9,519.4 761.6,525.8C761.3,532.2 756.9,538 753,541.5C749,545.1 742.8,547.1 737.7,547.1C732.6,547.1 726.4,545.1 722.4,541.5C718.5,538 714.1,532.2 713.8,525.8C713.5,519.4 717.7,511 720.8,503C723.8,495 729.5,485.8 732.1,477.8C734.6,469.8 735.2,461.5 736,455C736.7,448.6 736.2,442.9 736.5,439.3C736.8,435.7 737.3,433.7 737.7,433.7Z" fill="#b4ff00"/><path d="M737.7,438.9C738.1,438.9 738.5,440.9 738.8,444.2C739.1,447.5 738.6,452.9 739.2,458.9C739.9,464.9 740.5,472.7 742.8,480.2C745.1,487.6 750.2,496.3 753,503.8C755.7,511.2 759.5,519 759.2,525C759,531 755,536.4 751.5,539.7C747.9,543.1 742.3,545 737.7,545C733.1,545 727.5,543.1 723.9,539.7C720.4,536.4 716.4,531 716.2,525C715.9,519 719.7,511.2 722.4,503.8C725.2,496.3 730.3,487.6 732.6,480.2C734.9,472.7 735.5,464.9 736.2,458.9C736.8,452.9 736.3,447.5 736.6,444.2C736.9,440.9 737.3,438.9 737.7,438.9Z" fill="#e0ff00"/><path d="M737.7,445.7C738,445.7 738.4,447.4 738.6,450.4C738.9,453.5 738.5,458.4 739,463.8C739.6,469.3 740.1,476.4 742.1,483.2C744,490 748.5,497.9 750.8,504.7C753.2,511.5 756.4,518.6 756.2,524.1C756,529.5 752.6,534.4 749.5,537.4C746.4,540.5 741.6,542.2 737.7,542.2C733.8,542.2 729,540.5 725.9,537.4C722.8,534.4 719.4,529.5 719.2,524.1C719,518.6 722.2,511.5 724.6,504.7C726.9,497.9 731.4,490 733.3,483.2C735.3,476.4 735.8,469.3 736.4,463.8C736.9,458.4 736.5,453.5 736.8,450.4C737,447.4 737.4,445.7 737.7,445.7Z" fill="#f8fc00"/><path d="M737.7,456.9C737.9,456.9 738.2,458.3 738.4,460.9C738.5,463.4 738.3,467.5 738.7,472.1C739.1,476.6 739.4,482.6 740.9,488.3C742.3,494 745.5,500.6 747.2,506.2C749,511.9 751.3,517.9 751.2,522.4C751,527 748.5,531.1 746.3,533.6C744.1,536.2 740.6,537.6 737.7,537.6C734.8,537.6 731.3,536.2 729.1,533.6C726.9,531.1 724.4,527 724.2,522.4C724.1,517.9 726.4,511.9 728.2,506.2C729.9,500.6 733.1,494 734.5,488.3C736,482.6 736.3,476.6 736.7,472.1C737.1,467.5 736.9,463.4 737,460.9C737.2,458.3 737.5,456.9 737.7,456.9Z" fill="#fff000"/><path d="M737.7,467.4C737.8,467.4 738,468.5 738.1,470.6C738.2,472.7 738.1,476 738.3,479.8C738.6,483.5 738.8,488.4 739.8,493C740.7,497.7 742.8,503 743.9,507.7C745,512.4 746.6,517.2 746.4,520.9C746.3,524.7 744.7,528 743.3,530.1C741.8,532.2 739.6,533.4 737.7,533.4C735.8,533.4 733.6,532.2 732.1,530.1C730.7,528 729.1,524.7 729,520.9C728.8,517.2 730.4,512.4 731.5,507.7C732.6,503 734.7,497.7 735.6,493C736.6,488.4 736.8,483.5 737.1,479.8C737.3,476 737.2,472.7 737.3,470.6C737.4,468.5 737.6,467.4 737.7,467.4Z" fill="#ffd800"/><path d="M737.7,477.1C737.8,477.1 737.9,478 737.9,479.7C738,481.3 737.9,484 738,486.9C738.1,489.9 738.3,493.7 738.7,497.4C739.2,501.1 740.2,505.4 740.8,509C741.4,512.7 742.1,516.6 742.1,519.5C742,522.5 741.2,525.1 740.5,526.8C739.8,528.4 738.6,529.4 737.7,529.4C736.8,529.4 735.6,528.4 734.9,526.8C734.2,525.1 733.4,522.5 733.3,519.5C733.3,516.6 734,512.7 734.6,509C735.2,505.4 736.2,501.1 736.7,497.4C737.1,493.7 737.3,489.9 737.4,486.9C737.5,484 737.4,481.3 737.5,479.7C737.5,478 737.6,477.1 737.7,477.1Z" fill="#ffb400"/></g></g>
<g clip-path="url(#cl2)"><g filter="url(#bl05)"><path d="M961.3,484C963.5,484 966.3,485.6 968,488.5C969.7,491.3 969.8,495.9 971.6,500.9C973.4,506 976.8,512.6 978.8,519C980.7,525.3 983.1,532.7 983.3,539C983.5,545.4 981.9,552 980,557.1C978.1,562.1 975,566.7 971.9,569.5C968.8,572.4 964.8,574 961.3,574C957.8,574 953.8,572.4 950.7,569.5C947.6,566.7 944.5,562.1 942.6,557.1C940.7,552 939.1,545.4 939.3,539C939.5,532.7 941.9,525.3 943.8,519C945.8,512.6 949.2,506 951,500.9C952.8,495.9 952.9,491.3 954.6,488.5C956.3,485.6 959.1,484 961.3,484Z" fill="#3458ff"/><path d="M961.3,486.4C963.2,486.4 965.6,488 967.1,490.7C968.7,493.4 968.8,497.8 970.5,502.7C972.3,507.6 975.7,514 977.7,520.1C979.6,526.2 982,533.2 982.2,539.3C982.4,545.5 980.8,551.8 979,556.7C977.2,561.6 974.3,566 971.4,568.7C968.4,571.4 964.7,573 961.3,573C957.9,573 954.2,571.4 951.2,568.7C948.3,566 945.4,561.6 943.6,556.7C941.8,551.8 940.2,545.5 940.4,539.3C940.6,533.2 943,526.2 944.9,520.1C946.9,514 950.3,507.6 952.1,502.7C953.8,497.8 953.9,493.4 955.5,490.7C957,488 959.4,486.4 961.3,486.4Z" fill="#10b0ff"/><path d="M961.3,488.8C962.9,488.8 964.8,490.3 966.1,493C967.5,495.6 967.7,499.8 969.4,504.5C971.2,509.2 974.6,515.3 976.6,521.2C978.5,527 980.8,533.8 981.1,539.7C981.3,545.5 979.8,551.7 978.1,556.4C976.4,561.1 973.6,565.3 970.8,567.9C968,570.5 964.5,572 961.3,572C958.1,572 954.6,570.5 951.8,567.9C949,565.3 946.2,561.1 944.5,556.4C942.8,551.7 941.3,545.5 941.5,539.7C941.8,533.8 944.1,527 946,521.2C948,515.3 951.4,509.2 953.2,504.5C954.9,499.8 955.1,495.6 956.5,493C957.8,490.3 959.7,488.8 961.3,488.8Z" fill="#00e8c0"/><path d="M961.3,491.7C962.5,491.7 963.7,493.2 964.8,495.7C966,498.1 966.4,502.2 968.1,506.6C969.9,511.1 973.3,516.9 975.3,522.5C977.2,528.1 979.5,534.5 979.8,540.1C980.1,545.7 978.6,551.5 977,555.9C975.4,560.4 972.8,564.4 970.2,566.9C967.6,569.4 964.3,570.8 961.3,570.8C958.3,570.8 955,569.4 952.4,566.9C949.8,564.4 947.2,560.4 945.6,555.9C944,551.5 942.5,545.7 942.8,540.1C943.1,534.5 945.4,528.1 947.3,522.5C949.3,516.9 952.7,511.1 954.5,506.6C956.2,502.2 956.6,498.1 957.8,495.7C958.9,493.2 960.1,491.7 961.3,491.7Z" fill="#10f040"/><path d="M961.3,498.5C961.7,498.5 961.8,499.8 962.5,502C963.2,504.1 964,507.7 965.6,511.6C967.3,515.5 970.6,520.7 972.4,525.6C974.2,530.5 976.4,536.1 976.7,541C977,545.9 975.7,551 974.4,555C973,558.9 970.9,562.4 968.7,564.6C966.5,566.8 963.8,568.1 961.3,568.1C958.8,568.1 956.1,566.8 953.9,564.6C951.7,562.4 949.6,558.9 948.2,555C946.9,551 945.6,545.9 945.9,541C946.2,536.1 948.4,530.5 950.2,525.6C952,520.7 955.3,515.5 957,511.6C958.6,507.7 959.4,504.1 960.1,502C960.8,499.8 960.9,498.5 961.3,498.5Z" fill="#30f800"/><path d="M961.3,505.8C961.6,505.8 961.7,506.9 962.2,508.7C962.8,510.6 963.4,513.6 964.7,516.9C966,520.3 968.6,524.7 970,528.8C971.5,533 973.1,537.9 973.4,542C973.7,546.2 972.6,550.6 971.6,553.9C970.5,557.3 968.8,560.3 967.1,562.2C965.4,564 963.2,565.1 961.3,565.1C959.4,565.1 957.2,564 955.5,562.2C953.8,560.3 952.1,557.3 951,553.9C950,550.6 948.9,546.2 949.2,542C949.5,537.9 951.1,533 952.6,528.8C954,524.7 956.6,520.3 957.9,516.9C959.2,513.6 959.8,510.6 960.4,508.7C960.9,506.9 961,505.8 961.3,505.8Z" fill="#60fc00"/><path d="M961.3,513C961.5,513 961.6,513.9 962,515.5C962.4,517 962.8,519.5 963.8,522.3C964.7,525.1 966.6,528.7 967.6,532.1C968.7,535.6 969.9,539.6 970.1,543C970.3,546.5 969.5,550.1 968.8,552.9C968,555.7 966.8,558.1 965.5,559.7C964.3,561.2 962.7,562.1 961.3,562.1C959.9,562.1 958.3,561.2 957.1,559.7C955.8,558.1 954.6,555.7 953.8,552.9C953.1,550.1 952.3,546.5 952.5,543C952.7,539.6 953.9,535.6 955,532.1C956,528.7 957.9,525.1 958.8,522.3C959.8,519.5 960.2,517 960.6,515.5C961,513.9 961.1,513 961.3,513Z" fill="#a0ff00"/><path d="M961.3,520.3C961.4,520.3 961.5,521 961.7,522.2C962,523.4 962.3,525.4 962.8,527.6C963.4,529.8 964.6,532.7 965.3,535.4C965.9,538.1 966.7,541.3 966.8,544C966.9,546.8 966.4,549.6 966,551.8C965.5,554 964.7,556 964,557.2C963.2,558.4 962.2,559.1 961.3,559.1C960.4,559.1 959.4,558.4 958.6,557.2C957.9,556 957.1,554 956.6,551.8C956.2,549.6 955.7,546.8 955.8,544C955.9,541.3 956.7,538.1 957.3,535.4C958,532.7 959.2,529.8 959.8,527.6C960.3,525.4 960.6,523.4 960.9,522.2C961.1,521 961.2,520.3 961.3,520.3Z" fill="#d8ff00"/><path d="M961.3,526.6C961.4,526.6 961.4,527.1 961.5,528.1C961.6,529 961.8,530.5 962,532.2C962.3,533.9 962.9,536.1 963.2,538.2C963.5,540.4 963.9,542.8 963.9,544.9C964,547 963.8,549.2 963.5,550.9C963.3,552.6 962.9,554.2 962.6,555.1C962.2,556 961.7,556.6 961.3,556.6C960.9,556.6 960.4,556 960,555.1C959.7,554.2 959.3,552.6 959.1,550.9C958.8,549.2 958.6,547 958.7,544.9C958.7,542.8 959.1,540.4 959.4,538.2C959.7,536.1 960.3,533.9 960.6,532.2C960.8,530.5 961,529 961.1,528.1C961.2,527.1 961.2,526.6 961.3,526.6Z" fill="#f8ff00"/></g></g>
<g clip-path="url(#cr2)"><g filter="url(#fd)"><path d="M961.3,495C962.4,495 963.7,496.3 964.5,498.5C965.3,500.7 965.2,504.4 966,508.4C966.8,512.4 968.4,517.6 969.2,522.6C970.1,527.6 971.2,533.4 971.3,538.4C971.4,543.4 970.6,548.6 969.8,552.6C968.9,556.6 967.5,560.3 966.1,562.5C964.7,564.7 962.9,566 961.3,566C959.7,566 957.9,564.7 956.5,562.5C955.1,560.3 953.7,556.6 952.8,552.6C952,548.6 951.2,543.4 951.3,538.4C951.4,533.4 952.5,527.6 953.4,522.6C954.2,517.6 955.8,512.4 956.6,508.4C957.4,504.4 957.3,500.7 958.1,498.5C958.9,496.3 960.2,495 961.3,495Z"/></g></g>
<g clip-path="url(#cb2)"><g filter="url(#bl05)"><path d="M1094,400C1095,400 1096.5,402.6 1097.1,407C1097.8,411.4 1096.8,418.6 1097.8,426.5C1098.9,434.5 1099.9,444.9 1103.4,454.8C1106.9,464.8 1115.3,476.2 1118.7,486.2C1122.1,496.1 1124.9,506.5 1123.8,514.5C1122.7,522.4 1117.2,529.6 1112.2,534C1107.2,538.4 1100.1,541 1094,541C1087.9,541 1080.8,538.4 1075.8,534C1070.8,529.6 1065.3,522.4 1064.2,514.5C1063.1,506.5 1065.9,496.1 1069.3,486.2C1072.7,476.2 1081.1,464.8 1084.6,454.8C1088.1,444.9 1089.1,434.5 1090.2,426.5C1091.2,418.6 1090.2,411.4 1090.9,407C1091.5,402.6 1093,400 1094,400Z" fill="#3458ff"/><path d="M1094,402.7C1094.6,402.7 1095.4,405.2 1095.9,409.5C1096.3,413.8 1095.5,420.8 1096.6,428.5C1097.6,436.3 1098.7,446.4 1102.2,456C1105.6,465.7 1114.1,476.9 1117.5,486.6C1120.9,496.2 1123.6,506.3 1122.6,514.1C1121.6,521.8 1116.2,528.8 1111.5,533.1C1106.7,537.4 1099.8,539.9 1094,539.9C1088.2,539.9 1081.3,537.4 1076.5,533.1C1071.8,528.8 1066.4,521.8 1065.4,514.1C1064.4,506.3 1067.1,496.2 1070.5,486.6C1073.9,476.9 1082.4,465.7 1085.8,456C1089.3,446.4 1090.4,436.3 1091.4,428.5C1092.5,420.8 1091.7,413.8 1092.1,409.5C1092.6,405.2 1093.4,402.7 1094,402.7Z" fill="#18a0f8"/><path d="M1094,406.1C1094.5,406.1 1095.1,408.5 1095.4,412.7C1095.8,416.8 1095.1,423.6 1096.1,431.1C1097.1,438.5 1098.1,448.3 1101.5,457.6C1104.8,466.9 1112.9,477.7 1116.2,487C1119.4,496.4 1122,506.1 1121.1,513.6C1120.2,521.1 1115.1,527.8 1110.6,531.9C1106,536.1 1099.5,538.5 1094,538.5C1088.5,538.5 1082,536.1 1077.4,531.9C1072.9,527.8 1067.8,521.1 1066.9,513.6C1066,506.1 1068.6,496.4 1071.8,487C1075.1,477.7 1083.2,466.9 1086.5,457.6C1089.9,448.3 1090.9,438.5 1091.9,431.1C1092.9,423.6 1092.2,416.8 1092.6,412.7C1092.9,408.5 1093.5,406.1 1094,406.1Z" fill="#10c0c8"/><path d="M1094,413.6C1094.4,413.6 1094.9,415.8 1095.3,419.7C1095.6,423.5 1095,429.7 1095.8,436.6C1096.7,443.5 1097.6,452.4 1100.6,461C1103.5,469.6 1110.6,479.5 1113.5,488.1C1116.4,496.7 1118.7,505.6 1117.8,512.5C1117,519.4 1112.5,525.6 1108.6,529.4C1104.6,533.2 1098.9,535.4 1094,535.4C1089.1,535.4 1083.4,533.2 1079.4,529.4C1075.5,525.6 1071,519.4 1070.2,512.5C1069.3,505.6 1071.6,496.7 1074.5,488.1C1077.4,479.5 1084.5,469.6 1087.4,461C1090.4,452.4 1091.3,443.5 1092.2,436.6C1093,429.7 1092.4,423.5 1092.7,419.7C1093.1,415.8 1093.6,413.6 1094,413.6Z" fill="#14bc90"/><path d="M1094,421.8C1094.4,421.8 1094.8,423.8 1095.1,427.3C1095.3,430.7 1094.8,436.3 1095.6,442.6C1096.3,448.8 1097.1,456.9 1099.6,464.7C1102.1,472.5 1108.1,481.4 1110.6,489.2C1113,497 1115,505.1 1114.3,511.3C1113.6,517.6 1109.8,523.2 1106.4,526.6C1103,530.1 1098.1,532.1 1094,532.1C1089.9,532.1 1085,530.1 1081.6,526.6C1078.2,523.2 1074.4,517.6 1073.7,511.3C1073,505.1 1075,497 1077.4,489.2C1079.9,481.4 1085.9,472.5 1088.4,464.7C1090.9,456.9 1091.7,448.8 1092.4,442.6C1093.2,436.3 1092.7,430.7 1092.9,427.3C1093.2,423.8 1093.6,421.8 1094,421.8Z" fill="#2cac68"/><path d="M1094,430.7C1094.3,430.7 1094.6,432.5 1094.9,435.5C1095.1,438.6 1094.7,443.6 1095.3,449.1C1095.9,454.6 1096.5,461.8 1098.5,468.7C1100.5,475.6 1105.4,483.6 1107.4,490.4C1109.4,497.3 1111,504.5 1110.4,510C1109.8,515.6 1106.7,520.5 1104,523.6C1101.3,526.7 1097.3,528.4 1094,528.4C1090.7,528.4 1086.7,526.7 1084,523.6C1081.3,520.5 1078.2,515.6 1077.6,510C1077,504.5 1078.6,497.3 1080.6,490.4C1082.6,483.6 1087.5,475.6 1089.5,468.7C1091.5,461.8 1092.1,454.6 1092.7,449.1C1093.3,443.6 1092.9,438.6 1093.1,435.5C1093.4,432.5 1093.7,430.7 1094,430.7Z" fill="#4ea468"/><path d="M1094,440.9C1094.2,440.9 1094.5,442.4 1094.6,445C1094.8,447.7 1094.5,451.9 1094.9,456.6C1095.4,461.3 1095.8,467.4 1097.3,473.3C1098.7,479.2 1102.3,486 1103.7,491.9C1105.2,497.7 1106.3,503.9 1105.9,508.6C1105.5,513.3 1103.3,517.5 1101.3,520.1C1099.3,522.7 1096.4,524.3 1094,524.3C1091.6,524.3 1088.7,522.7 1086.7,520.1C1084.7,517.5 1082.5,513.3 1082.1,508.6C1081.7,503.9 1082.8,497.7 1084.3,491.9C1085.7,486 1089.3,479.2 1090.7,473.3C1092.2,467.4 1092.6,461.3 1093.1,456.6C1093.5,451.9 1093.2,447.7 1093.4,445C1093.5,442.4 1093.8,440.9 1094,440.9Z" fill="#789e74"/><path d="M1094,453.2C1094.1,453.2 1094.3,454.4 1094.3,456.5C1094.4,458.5 1094.3,461.9 1094.5,465.6C1094.8,469.4 1095,474.2 1095.8,478.9C1096.6,483.5 1098.6,488.9 1099.4,493.6C1100.1,498.2 1100.8,503.1 1100.6,506.8C1100.3,510.5 1099.1,513.9 1098,516C1096.9,518 1095.3,519.2 1094,519.2C1092.7,519.2 1091.1,518 1090,516C1088.9,513.9 1087.7,510.5 1087.4,506.8C1087.2,503.1 1087.9,498.2 1088.6,493.6C1089.4,488.9 1091.4,483.5 1092.2,478.9C1093,474.2 1093.2,469.4 1093.5,465.6C1093.7,461.9 1093.6,458.5 1093.7,456.5C1093.7,454.4 1093.9,453.2 1094,453.2Z" fill="#8e9880"/></g></g>
<path class="w" d="M737.7,42 L961.3,64 L1094,26.5 M737.7,723.3 L961.3,745 L1094,708 M737.7,42 L737.7,723.3 M1094,26.5 L1094,708 M961.3,64 L961.3,745"/>
</g>
<g id="top4">
<path class="w" d="M1105.5,42 L1239,3.8 L1461.3,26.5 M1105.5,723.3 L1239,685 L1461.3,708 M1239,3.8 L1239,214 M1239,644 L1239,685"/>
<clipPath id="cb3"><rect x="1105.5" y="0" width="355.8" height="760"/></clipPath><clipPath id="cl3"><rect x="1105.5" y="0" width="223" height="760"/></clipPath><clipPath id="cr3"><rect x="1328.5" y="0" width="132.8" height="760"/></clipPath>
<g filter="url(#bl4)" opacity="0.5"><path d="M1125,250C1130,239.7 1142.5,232.7 1155,228C1167.5,223.3 1184.2,221.3 1200,222C1215.8,222.7 1233.3,229 1250,232C1266.7,235 1284.2,237 1300,240C1315.8,243 1332.5,244.2 1345,250C1357.5,255.8 1367.5,261.7 1375,275C1382.5,288.3 1385.8,310.8 1390,330C1394.2,349.2 1398,371.7 1400,390C1402,408.3 1402.8,418.3 1402,440C1401.2,461.7 1394.5,498.3 1395,520C1395.5,541.7 1404.2,554.2 1405,570C1405.8,585.8 1405,603.3 1400,615C1395,626.7 1385.8,632.5 1375,640C1364.2,647.5 1349.2,655 1335,660C1320.8,665 1305,670.3 1290,670C1275,669.7 1258.3,661.7 1245,658C1231.7,654.3 1224.2,652.7 1210,648C1195.8,643.3 1172.5,636.3 1160,630C1147.5,623.7 1136.7,618.3 1135,610C1133.3,601.7 1147,590.8 1150,580C1153,569.2 1150.3,556.7 1153,545C1155.7,533.3 1164.8,527.5 1166,510C1167.2,492.5 1162.7,458.3 1160,440C1157.3,421.7 1152.5,418.3 1150,400C1147.5,381.7 1149.2,348.3 1145,330C1140.8,311.7 1128.3,303.3 1125,290C1121.7,276.7 1120,260.3 1125,250Z" fill="#2850f4"/><ellipse cx="1283.3" cy="331.4" rx="10" ry="5" fill="#fff"/><ellipse cx="1257" cy="362.8" rx="8" ry="10" fill="#fff"/><ellipse cx="1267.6" cy="347" rx="8" ry="4" fill="#fff"/><ellipse cx="1222" cy="424" rx="8" ry="5" fill="#fff"/><ellipse cx="1178.5" cy="236" rx="10" ry="8" fill="#fff"/><ellipse cx="1165" cy="300" rx="9" ry="14" fill="#fff"/><ellipse cx="1172" cy="372" rx="7" ry="6" fill="#fff"/></g>
<g filter="url(#bl7)" opacity="0.7"><path d="M1160,440C1174.2,421.7 1221.7,430 1250,430C1278.3,430 1306.7,433.3 1330,440C1353.3,446.7 1380,450 1390,470C1400,490 1395,535 1390,560C1385,585 1375,605 1360,620C1345,635 1320,646.7 1300,650C1280,653.3 1260,646.7 1240,640C1220,633.3 1192.5,626.7 1180,610C1167.5,593.3 1168.3,568.3 1165,540C1161.7,511.7 1145.8,458.3 1160,440Z" fill="#1c9cf4"/></g>
<g filter="url(#bl7)" opacity="0.45"><path d="M1160,250C1178.3,240.8 1220,243.3 1250,245C1280,246.7 1318.3,247.5 1340,260C1361.7,272.5 1372.5,296.7 1380,320C1387.5,343.3 1398.3,383.3 1385,400C1371.7,416.7 1330.8,416.7 1300,420C1269.2,423.3 1225,426.7 1200,420C1175,413.3 1160,400 1150,380C1140,360 1138.3,321.7 1140,300C1141.7,278.3 1141.7,259.2 1160,250Z" fill="#1c90f8"/></g>
<g filter="url(#bl7)" opacity="0.2"><path d="M1400,500C1408.3,491.7 1431.7,506.7 1440,520C1448.3,533.3 1450,563.3 1450,580C1450,596.7 1448.3,610 1440,620C1431.7,630 1408.3,648.3 1400,640C1391.7,631.7 1390,593.3 1390,570C1390,546.7 1391.7,508.3 1400,500Z" fill="#5080ff"/></g>
<g filter="url(#bl08)"><g fill="url(#fs)" opacity=".85"><circle cx="1185.9" cy="62.4" r="4.3"/><circle cx="1317" cy="40.7" r="4.3"/><circle cx="1233.1" cy="80.5" r="4.3"/><circle cx="1249.1" cy="85.6" r="4.3"/><circle cx="1215.6" cy="130.2" r="4"/><circle cx="1204.8" cy="140.6" r="2.8"/><circle cx="1281.4" cy="98" r="2.3"/><circle cx="1304.1" cy="74.8" r="1.7"/><circle cx="1302.8" cy="131.5" r="2.3"/><circle cx="1280.8" cy="130.2" r="1.7"/><circle cx="1173.8" cy="186.2" r="3.4"/><circle cx="1159.6" cy="197.3" r="2.8"/><circle cx="1131.3" cy="206.3" r="2.8"/><circle cx="1341.5" cy="154.2" r="2.3"/><circle cx="1399.5" cy="149.6" r="1.7"/><circle cx="1398.2" cy="191.6" r="4"/><circle cx="1346.6" cy="203.7" r="4"/><circle cx="1387.9" cy="213.5" r="3.4"/><circle cx="1215.1" cy="180.5" r="3.4"/><circle cx="1390.5" cy="228.2" r="2.3"/><circle cx="1433" cy="279.8" r="4.3"/><circle cx="1403.3" cy="264.3" r="2.3"/><circle cx="1438.2" cy="377.8" r="4.3"/><circle cx="1346.1" cy="203.1" r="3.5"/><circle cx="1297.2" cy="256.3" r="3.8"/><circle cx="1161.1" cy="197" r="3.5"/><circle cx="1131.4" cy="207.5" r="2.3"/></g><g fill="url(#hm)"><circle cx="1114.8" cy="341.9" r="7.7"/></g><g fill="url(#fs)" opacity=".85"><circle cx="1387" cy="212.7" r="2.9"/><circle cx="1346" cy="203.1" r="2.9"/><circle cx="1398.4" cy="192.6" r="2.3"/><circle cx="1434.1" cy="279" r="3.8"/><circle cx="1404.5" cy="265.1" r="2.3"/><circle cx="1387.9" cy="304.3" r="2.3"/><circle cx="1405.3" cy="304.3" r="2.3"/></g><g fill="url(#bs)"><circle cx="1438.5" cy="377.6" r="3.8"/><circle cx="1427.2" cy="389" r="3.8"/></g><g fill="url(#fs)" opacity=".85"><circle cx="1390.5" cy="677.4" r="2.9"/></g><g fill="url(#bs)"><circle cx="1123.3" cy="697.5" r="3"/><ellipse cx="1165.4" cy="716.8" rx="2.9" ry="3.1"/><ellipse cx="1420.3" cy="702" rx="3.7" ry="3.4"/><ellipse cx="1370.2" cy="663.9" rx="3.6" ry="3.3"/><ellipse cx="1148.5" cy="648.4" rx="3.2" ry="3.5"/><ellipse cx="1158.1" cy="712.6" rx="3.7" ry="3.4"/><ellipse cx="1222.7" cy="717.1" rx="3.1" ry="3"/><ellipse cx="1163.2" cy="697" rx="3.9" ry="4.2"/><ellipse cx="1309.6" cy="707.5" rx="2.9" ry="2.6"/><ellipse cx="1336.1" cy="713.9" rx="3.9" ry="4.4"/><ellipse cx="1233.3" cy="723.9" rx="3.5" ry="3.9"/><ellipse cx="1189.2" cy="695.4" rx="2.9" ry="2.6"/><ellipse cx="1314" cy="706" rx="3" ry="3.1"/><ellipse cx="1427.7" cy="673.4" rx="3.2" ry="3.4"/><ellipse cx="1217.6" cy="713.1" rx="3.6" ry="3.9"/><ellipse cx="1119.6" cy="661.1" rx="2.8" ry="3.2"/><ellipse cx="1158.7" cy="699.7" rx="3.5" ry="3.2"/></g><g fill="url(#fs)" opacity=".85"><circle cx="1316.6" cy="685.3" r="3.7"/><ellipse cx="1136.6" cy="687.3" rx="3.7" ry="4.1"/><circle cx="1401.5" cy="664" r="3.7"/><ellipse cx="1121.5" cy="700.5" rx="3.7" ry="3.9"/><ellipse cx="1346.3" cy="680.6" rx="3.3" ry="3.4"/><ellipse cx="1386.2" cy="655.7" rx="2.8" ry="2.6"/><ellipse cx="1395.4" cy="698.9" rx="3.7" ry="3.6"/><ellipse cx="1393.8" cy="654.5" rx="2.8" ry="2.5"/><ellipse cx="1119.4" cy="676.4" rx="3.7" ry="4.4"/><ellipse cx="1424.7" cy="705.3" rx="3.7" ry="4.1"/><ellipse cx="1351.3" cy="701.7" rx="3" ry="2.6"/><ellipse cx="1180.9" cy="697.9" rx="3.7" ry="3.9"/><ellipse cx="1405" cy="658" rx="2.8" ry="3.1"/><ellipse cx="1168" cy="699.6" rx="3.7" ry="3.9"/><ellipse cx="1329.5" cy="727.5" rx="3.7" ry="4.3"/><ellipse cx="1132.1" cy="703" rx="2.9" ry="3.4"/><ellipse cx="1438.3" cy="671.2" rx="3.7" ry="4.4"/><circle cx="1210.4" cy="704.4" r="3.7"/><ellipse cx="1427.4" cy="681.1" rx="3.3" ry="3.2"/><ellipse cx="1218" cy="686" rx="3.7" ry="4.5"/><ellipse cx="1125.9" cy="623.4" rx="3.7" ry="4.2"/><ellipse cx="1315" cy="696.7" rx="3.7" ry="4.5"/><ellipse cx="1451.5" cy="629.5" rx="2.8" ry="3.2"/><ellipse cx="1343" cy="732.8" rx="3.7" ry="4.2"/><ellipse cx="1421.3" cy="704.4" rx="3.7" ry="4.1"/><ellipse cx="1382.2" cy="716.9" rx="3.7" ry="4.1"/><circle cx="1422.2" cy="702.3" r="3.7"/><ellipse cx="1262.6" cy="684.3" rx="2.8" ry="2.6"/><ellipse cx="1267.2" cy="734.2" rx="3" ry="3.1"/><ellipse cx="1216.7" cy="694" rx="3.7" ry="3.4"/><ellipse cx="1391.2" cy="685.5" rx="3.7" ry="3.6"/><ellipse cx="1183.5" cy="655.5" rx="3.7" ry="4.1"/><ellipse cx="1395.2" cy="656.6" rx="3.7" ry="3.5"/><ellipse cx="1376.3" cy="693.6" rx="3.7" ry="4.3"/><ellipse cx="1190.2" cy="714.2" rx="2.9" ry="2.6"/><ellipse cx="1215.3" cy="708.6" rx="3.2" ry="3.5"/><circle cx="1116.5" cy="639.5" r="3.7"/><circle cx="1274.8" cy="685.1" r="2.8"/><ellipse cx="1231.5" cy="667.3" rx="3.7" ry="3.4"/><ellipse cx="1367.3" cy="705.2" rx="3.7" ry="3.9"/><ellipse cx="1121.7" cy="668.1" rx="3.7" ry="3.4"/><ellipse cx="1169.5" cy="669.6" rx="3.7" ry="4"/></g><g fill="url(#bs)"><ellipse cx="1415.9" cy="268.2" rx="3.7" ry="3.6"/><ellipse cx="1418.6" cy="278.1" rx="2.3" ry="2.5"/><ellipse cx="1453.5" cy="355.4" rx="2.6" ry="2.5"/><ellipse cx="1422.2" cy="291.4" rx="2.3" ry="2.4"/></g><g fill="url(#fs)" opacity=".85"><circle cx="1438.1" cy="294.3" r="3.1"/><ellipse cx="1414.9" cy="283.6" rx="3.7" ry="3.4"/><ellipse cx="1441.1" cy="362" rx="2.2" ry="2.4"/><circle cx="1440.6" cy="348.1" r="3.7"/><ellipse cx="1425.1" cy="365" rx="3.7" ry="4.1"/><ellipse cx="1435.6" cy="322.3" rx="3.7" ry="4"/></g><g fill="url(#bs)"><ellipse cx="1114.6" cy="599" rx="2.9" ry="2.5"/><ellipse cx="1111" cy="596.4" rx="2.9" ry="2.6"/><ellipse cx="1115.9" cy="573.5" rx="2.8" ry="2.5"/></g></g>
<g filter="url(#fc)">
<g fill-opacity="0.62"><ellipse cx="1145.4" cy="47.7" rx="7.7" ry="6.4"/><circle cx="1218.9" cy="108.3" r="4.6"/><ellipse cx="1132" cy="175.4" rx="7" ry="10.3"/><circle cx="1212.5" cy="192.1" r="8.3"/><ellipse cx="1404.6" cy="229.5" rx="9" ry="9.8"/><ellipse cx="1117.5" cy="230.1" rx="9.6" ry="8.7"/><circle cx="1232.7" cy="205.7" r="7"/><circle cx="1269.3" cy="223.2" r="6.1"/><circle cx="1416.7" cy="229.3" r="7.9"/><circle cx="1376.5" cy="249.3" r="6.1"/><circle cx="1452.5" cy="640.7" r="5.2"/><ellipse cx="1411.4" cy="702.4" rx="4.5" ry="4.2"/><ellipse cx="1326.6" cy="719" rx="5.1" ry="5.2"/><ellipse cx="1451.7" cy="663.3" rx="5.7" ry="5.4"/><circle cx="1224.5" cy="681.8" r="7.7"/><ellipse cx="1421.2" cy="311.1" rx="5.4" ry="5.1"/><ellipse cx="1108.7" cy="632.8" rx="5.5" ry="5.3"/></g>
<g fill-opacity="0.8"><ellipse cx="1190.6" cy="206.3" rx="17.5" ry="18.1"/><circle cx="1301.5" cy="208.9" r="11.6"/><circle cx="1190.8" cy="210.9" r="17.5"/><ellipse cx="1155.9" cy="224.9" rx="16.6" ry="17.5"/><path d="M1239.6,207.5C1240.9,207.5 1242.5,209.2 1243.4,212.1C1244.4,215 1244.5,219.9 1245.3,224.9C1246,229.9 1247.6,236.5 1248,242.4C1248.4,248.2 1248.3,254.8 1247.7,259.8C1247.1,264.9 1245.8,269.7 1244.5,272.6C1243.1,275.5 1241.3,277.3 1239.6,277.3C1238,277.3 1236.2,275.5 1234.8,272.6C1233.5,269.7 1232.1,264.9 1231.5,259.8C1231,254.8 1230.9,248.2 1231.3,242.4C1231.7,236.5 1233.2,229.9 1234,224.9C1234.8,219.9 1234.9,215 1235.8,212.1C1236.8,209.2 1238.4,207.5 1239.6,207.5Z"/></g>
<g fill-opacity="0.87"><path d="M1318.2,221.4C1321.2,221.4 1324.9,224.2 1327.2,228.9C1329.5,233.6 1328.9,241.3 1331.8,249.3C1334.8,257.4 1341.4,268 1344.9,277.3C1348.4,286.6 1353.6,297.1 1352.9,305.2C1352.2,313.3 1346.6,321 1340.8,325.6C1335.1,330.3 1325.7,333.1 1318.2,333.1C1310.6,333.1 1301.3,330.3 1295.5,325.6C1289.7,321 1284.2,313.3 1283.5,305.2C1282.8,297.1 1288,286.6 1291.5,277.3C1295,268 1301.6,257.4 1304.5,249.3C1307.5,241.3 1306.9,233.6 1309.2,228.9C1311.5,224.2 1315.2,221.4 1318.2,221.4Z"/><path d="M1197.7,396.4C1205,396.4 1213.8,400.6 1219.4,407.5C1225,414.4 1227.2,425.9 1231.4,437.8C1235.6,449.8 1242.8,465.5 1244.7,479.3C1246.7,493.1 1246.4,508.8 1243.1,520.7C1239.7,532.7 1232.4,544.2 1224.8,551.1C1217.3,558 1206.8,562.2 1197.7,562.2C1188.7,562.2 1178.2,558 1170.7,551.1C1163.1,544.2 1155.8,532.7 1152.4,520.7C1149.1,508.8 1148.8,493.1 1150.8,479.3C1152.7,465.5 1159.9,449.8 1164.1,437.8C1168.3,425.9 1170.5,414.4 1176.1,407.5C1181.7,400.6 1190.5,396.4 1197.7,396.4Z"/></g>
</g>
<g filter="url(#fc)">
<g fill-opacity="0.62"><ellipse cx="1285.2" cy="57.3" rx="9.8" ry="10.3"/><ellipse cx="1277" cy="143.6" rx="7.2" ry="8.3"/><circle cx="1195.7" cy="173.3" r="5.7"/><ellipse cx="1255.1" cy="192.1" rx="10.8" ry="10.3"/><circle cx="1270.5" cy="224.4" r="7.7"/><circle cx="1416.2" cy="228.2" r="9"/><circle cx="1136.7" cy="232.8" r="4.4"/><circle cx="1213.5" cy="193.5" r="7"/><circle cx="1383.5" cy="200.5" r="7"/><ellipse cx="1432.4" cy="403.8" rx="8.7" ry="5.2"/><ellipse cx="1121.5" cy="643.3" rx="3.8" ry="3.6"/><ellipse cx="1152.9" cy="702.8" rx="7.9" ry="7.4"/><ellipse cx="1425.3" cy="683.9" rx="5.1" ry="4.6"/><circle cx="1266.8" cy="691.4" r="4.4"/><ellipse cx="1184.1" cy="671.1" rx="5.9" ry="6.8"/><ellipse cx="1425.9" cy="307.1" rx="4.7" ry="4.5"/><ellipse cx="1129.1" cy="580" rx="4.6" ry="4.5"/></g>
<g fill-opacity="0.8"><ellipse cx="1157.1" cy="221.8" rx="17.5" ry="18.1"/><ellipse cx="1455.1" cy="328.8" rx="6.1" ry="10.5"/></g>
<g fill-opacity="0.87"><path d="M1159.3,233.6C1161.9,233.6 1165,235 1167.1,237.1C1169.3,239.3 1170.8,242.9 1172.3,246.7C1173.8,250.5 1175.8,255.5 1176.3,259.8C1176.9,264.2 1176.7,269.1 1175.5,272.9C1174.3,276.7 1171.7,280.3 1169,282.5C1166.3,284.7 1162.6,286 1159.3,286C1156.1,286 1152.4,284.7 1149.7,282.5C1147,280.3 1144.4,276.7 1143.2,272.9C1141.9,269.1 1141.8,264.2 1142.4,259.8C1142.9,255.5 1144.9,250.5 1146.4,246.7C1147.9,242.9 1149.4,239.3 1151.6,237.1C1153.7,235 1156.8,233.6 1159.3,233.6Z"/><path d="M1281.5,233.6C1283.5,233.6 1285.8,235.5 1287.5,238.7C1289.2,241.8 1290,247 1291.8,252.4C1293.6,257.8 1297.1,264.9 1298.1,271.2C1299.1,277.4 1298.9,284.5 1297.7,289.9C1296.6,295.3 1293.9,300.5 1291.2,303.7C1288.5,306.8 1284.8,308.7 1281.5,308.7C1278.3,308.7 1274.6,306.8 1271.9,303.7C1269.2,300.5 1266.5,295.3 1265.4,289.9C1264.2,284.5 1263.9,277.4 1264.9,271.2C1265.9,264.9 1269.5,257.8 1271.3,252.4C1273.1,247 1273.9,241.8 1275.6,238.7C1277.3,235.5 1279.5,233.6 1281.5,233.6Z"/><path d="M1293.8,457.5C1297.3,457.5 1301.9,462.4 1304.5,470.7C1307.2,478.9 1306.4,492.5 1309.7,506.8C1313,521 1320.6,539.6 1324.3,556.1C1327.9,572.5 1332.7,591.2 1331.6,605.4C1330.6,619.6 1324.2,633.3 1317.9,641.5C1311.6,649.7 1301.8,654.7 1293.8,654.7C1285.7,654.7 1275.9,649.7 1269.6,641.5C1263.3,633.3 1256.9,619.6 1255.9,605.4C1254.8,591.2 1259.6,572.5 1263.2,556.1C1266.9,539.6 1274.5,521 1277.8,506.8C1281.1,492.5 1280.3,478.9 1283,470.7C1285.6,462.4 1290.2,457.5 1293.8,457.5Z"/></g>
</g>
<g filter="url(#fc)">
<g fill-opacity="0.8"><ellipse cx="1194.4" cy="94.1" rx="13.4" ry="15"/><circle cx="1352.5" cy="167.6" r="13.4"/><path d="M1352.1,238.9C1356.3,238.9 1361.7,242.1 1364.6,247.3C1367.5,252.5 1367.9,261.2 1369.8,270.3C1371.6,279.4 1374.9,291.2 1375.8,301.7C1376.6,312.2 1376.4,324.1 1374.7,333.1C1373.1,342.2 1369.4,350.9 1365.6,356.1C1361.9,361.4 1356.6,364.6 1352.1,364.6C1347.6,364.6 1342.3,361.4 1338.6,356.1C1334.8,350.9 1331.1,342.2 1329.4,333.1C1327.8,324.1 1327.6,312.2 1328.4,301.7C1329.2,291.2 1332.6,279.4 1334.4,270.3C1336.3,261.2 1336.6,252.5 1339.6,247.3C1342.5,242.1 1347.9,238.9 1352.1,238.9Z"/><path d="M1327.7,422.5C1335.2,415 1355.3,420.8 1362.6,429.5C1369.8,438.3 1367.2,461.5 1371.3,474.9C1375.4,488.3 1382.9,498.2 1387,509.8C1391.1,521.5 1394.9,533.1 1395.7,544.7C1396.6,556.4 1394.3,568 1392.2,579.6C1390.2,591.3 1388.5,605.2 1383.5,614.6C1378.6,623.9 1370.1,629.7 1362.6,635.5C1355,641.3 1345.7,650 1338.1,649.5C1330.6,648.9 1320.7,661.1 1317.2,632C1313.7,602.9 1315.4,509.8 1317.2,474.9C1318.9,440 1320.1,430.1 1327.7,422.5Z"/></g>
<g fill-opacity="0.62"><ellipse cx="1251.2" cy="162.5" rx="9" ry="8.3"/><circle cx="1231.8" cy="206.3" r="6.4"/><ellipse cx="1119.7" cy="229.5" rx="10.8" ry="9.8"/><circle cx="1283.4" cy="219.2" r="6.4"/><ellipse cx="1367.2" cy="239.8" rx="6.4" ry="9"/><circle cx="1255.3" cy="195.2" r="8.7"/><ellipse cx="1302.5" cy="209.2" rx="11.3" ry="10.5"/><circle cx="1361.7" cy="217.1" r="7"/><ellipse cx="1385.3" cy="284.3" rx="7" ry="8.7"/><circle cx="1440.2" cy="432.6" r="4.4"/><ellipse cx="1263.9" cy="695.1" rx="4" ry="4.2"/><ellipse cx="1214" cy="660.8" rx="6.4" ry="6.8"/><ellipse cx="1169.9" cy="694" rx="5.6" ry="5.8"/><ellipse cx="1115.3" cy="702.8" rx="5.6" ry="6.5"/><ellipse cx="1406.7" cy="260.5" rx="3.8" ry="4.1"/><ellipse cx="1120.6" cy="569.2" rx="5" ry="5.8"/></g>
<g fill-opacity="0.87"><path d="M1150.6,277.3C1152.9,277.3 1155.7,278.7 1157.4,281C1159.2,283.3 1159.8,287.2 1161,291.2C1162.1,295.3 1163.8,300.5 1164.2,305.2C1164.6,309.9 1164.5,315.1 1163.6,319.2C1162.6,323.2 1160.5,327.1 1158.4,329.4C1156.2,331.7 1153.2,333.1 1150.6,333.1C1148,333.1 1145,331.7 1142.9,329.4C1140.7,327.1 1138.6,323.2 1137.7,319.2C1136.7,315.1 1136.6,309.9 1137,305.2C1137.5,300.5 1139.1,295.3 1140.3,291.2C1141.4,287.2 1142.1,283.3 1143.8,281C1145.5,278.7 1148.3,277.3 1150.6,277.3Z"/></g>
</g>
<g filter="url(#fc)">
<g fill-opacity="0.62"><ellipse cx="1221.5" cy="93.4" rx="8.5" ry="9"/><circle cx="1149.8" cy="163" r="4.4"/><circle cx="1384" cy="199.9" r="7.7"/><ellipse cx="1257.6" cy="208.9" rx="10.3" ry="9.8"/><circle cx="1137.7" cy="233.4" r="5.2"/><ellipse cx="1362.1" cy="217.9" rx="9" ry="7.7"/><ellipse cx="1453.6" cy="330.1" rx="6.4" ry="10.3"/><circle cx="1257.1" cy="210.9" r="7.9"/><circle cx="1361.8" cy="217.1" r="7"/><circle cx="1127.9" cy="361.1" r="10.5"/><circle cx="1402.7" cy="228.4" r="7"/><circle cx="1388.8" cy="340.1" r="6.1"/><ellipse cx="1404" cy="676.6" rx="5.8" ry="5.9"/><ellipse cx="1313.1" cy="700.3" rx="7.1" ry="8.3"/><ellipse cx="1362.7" cy="708.8" rx="5.1" ry="5.8"/><ellipse cx="1439" cy="638.4" rx="7.7" ry="7.1"/><circle cx="1422.5" cy="322.1" r="5.1"/><ellipse cx="1107.6" cy="586.3" rx="4.9" ry="5.3"/></g>
<g fill-opacity="0.8"><path d="M1122.7,364.6C1124.6,364.6 1127,365.7 1128.5,367.5C1130.1,369.3 1131,372.3 1132.1,375.5C1133.1,378.6 1134.5,382.7 1134.8,386.4C1135.1,390 1134.6,394.1 1133.6,397.3C1132.7,400.4 1130.9,403.4 1129.1,405.3C1127.3,407.1 1124.8,408.2 1122.7,408.2C1120.6,408.2 1118.1,407.1 1116.3,405.3C1114.5,403.4 1112.7,400.4 1111.7,397.3C1110.8,394.1 1110.3,390 1110.6,386.4C1110.8,382.7 1112.3,378.6 1113.3,375.5C1114.4,372.3 1115.3,369.3 1116.9,367.5C1118.4,365.7 1120.7,364.6 1122.7,364.6Z"/><ellipse cx="1271.9" cy="237.1" rx="10.5" ry="9.6"/><ellipse cx="1225.7" cy="249.3" rx="15.7" ry="14"/><ellipse cx="1251" cy="291.2" rx="14" ry="13.1"/><circle cx="1220.4" cy="327.9" r="14"/><ellipse cx="1178.5" cy="300" rx="11.3" ry="10.5"/><circle cx="1166.3" cy="375" r="13.1"/><ellipse cx="1229.2" cy="383.8" rx="13.1" ry="12.2"/><circle cx="1285" cy="387.2" r="12.2"/><circle cx="1306" cy="369.8" r="12.2"/><circle cx="1197.7" cy="434.4" r="14"/><ellipse cx="1420.2" cy="455.3" rx="15.7" ry="8.7"/><ellipse cx="1257.1" cy="516.8" rx="24.4" ry="29.7"/><ellipse cx="1420.2" cy="464.4" rx="18.3" ry="14"/><ellipse cx="1418.4" cy="602.3" rx="12.2" ry="11.3"/><circle cx="1381.8" cy="661.7" r="10.5"/></g>
</g>
<g filter="url(#bl05)" opacity="0.9"><g fill="url(#km)"><circle cx="1352.5" cy="168.1" r="6.2"/><circle cx="1301.5" cy="210.2" r="5.1"/><circle cx="1302.5" cy="217.9" r="4.8"/></g><g fill="url(#dm)"><circle cx="1201.2" cy="259.8" r="11.5"/><circle cx="1204.7" cy="273.8" r="9.6"/><circle cx="1187.3" cy="282.5" r="9.6"/><circle cx="1199.5" cy="371.5" r="9.6"/><circle cx="1183.8" cy="329.6" r="11.5"/><circle cx="1267.6" cy="441.4" r="10.6"/><circle cx="1257.1" cy="415.2" r="9.6"/><circle cx="1222.2" cy="411.7" r="8.6"/><circle cx="1288.5" cy="416.9" r="11.5"/></g><g fill="url(#km)"><ellipse cx="1225.7" cy="250.2" rx="6.7" ry="5.8"/><ellipse cx="1251" cy="292.1" rx="6.7" ry="5.8"/></g><g fill="url(#ks)"><circle cx="1253.6" cy="514.2" r="2.9"/></g><g fill="url(#dm)"><circle cx="1169.8" cy="508.1" r="9.6"/><ellipse cx="1169.8" cy="579.6" rx="10.6" ry="11.5"/><circle cx="1147.1" cy="602.3" r="10.6"/><circle cx="1126.2" cy="600.6" r="6.7"/><circle cx="1127.9" cy="614.6" r="5.8"/><circle cx="1185.5" cy="644.2" r="6.7"/><circle cx="1152.4" cy="639" r="4.8"/><circle cx="1220.4" cy="666.9" r="6.7"/><circle cx="1192.5" cy="672.2" r="5.8"/><circle cx="1157.6" cy="687.9" r="5.8"/><circle cx="1164.6" cy="698.3" r="6.7"/><circle cx="1203" cy="696.6" r="7.7"/></g><g fill="url(#ds)"><circle cx="1134.9" cy="632" r="3.8"/></g><g fill="url(#dm)"><circle cx="1288.5" cy="680.9" r="7.7"/><circle cx="1318.2" cy="679.1" r="6.7"/><circle cx="1309.5" cy="658.2" r="7.7"/><circle cx="1274.6" cy="665.2" r="5.8"/><circle cx="1257.1" cy="666.9" r="7.7"/><circle cx="1420.2" cy="564.8" r="9.6"/><circle cx="1401" cy="647.7" r="8.6"/><circle cx="1413.2" cy="644.2" r="5.8"/><circle cx="1427.2" cy="619.8" r="4.8"/><circle cx="1432.4" cy="681.8" r="6.7"/><circle cx="1421.9" cy="666.9" r="4.8"/><ellipse cx="1346.9" cy="693.1" rx="15.4" ry="11.5"/><ellipse cx="1235.8" cy="315.8" rx="5.8" ry="6.3"/><ellipse cx="1333.8" cy="469.3" rx="7.6" ry="8.7"/><ellipse cx="1324.7" cy="605.5" rx="8.1" ry="9.8"/><ellipse cx="1300.1" cy="263" rx="9.7" ry="11.2"/><ellipse cx="1381.6" cy="308.8" rx="11.1" ry="10.5"/><ellipse cx="1327.4" cy="264.9" rx="13.3" ry="12.1"/><ellipse cx="1307.8" cy="292.7" rx="13" ry="12.9"/><ellipse cx="1161.3" cy="523.8" rx="7.8" ry="9.1"/><ellipse cx="1188" cy="246.9" rx="5.3" ry="5.4"/><circle cx="1351" cy="462.9" r="12.9"/><ellipse cx="1159" cy="237.3" rx="5.1" ry="6.1"/><ellipse cx="1338.5" cy="631.9" rx="7.9" ry="8.6"/><ellipse cx="1247.6" cy="609.8" rx="13.9" ry="13.4"/><ellipse cx="1230.1" cy="424.8" rx="11.1" ry="10.2"/><ellipse cx="1326.9" cy="464.1" rx="13.4" ry="13.2"/><ellipse cx="1399.5" cy="361.1" rx="13.4" ry="15.2"/><ellipse cx="1208.4" cy="415.9" rx="5.3" ry="5.1"/><ellipse cx="1186.5" cy="429.1" rx="6.4" ry="6.8"/><ellipse cx="1312.4" cy="440.6" rx="5.6" ry="6.2"/><ellipse cx="1304.8" cy="545.4" rx="9.2" ry="9.5"/><ellipse cx="1228" cy="335" rx="7.4" ry="7.9"/><ellipse cx="1277.6" cy="515.3" rx="5.9" ry="5.4"/><ellipse cx="1326.3" cy="536.2" rx="6.2" ry="7.3"/><ellipse cx="1402.3" cy="352.5" rx="5.7" ry="6.3"/><circle cx="1378" cy="619.6" r="6.7"/><ellipse cx="1190.8" cy="444.1" rx="9.7" ry="10.1"/><ellipse cx="1401.4" cy="344.7" rx="6.5" ry="7.7"/><ellipse cx="1355.9" cy="299" rx="12" ry="14.1"/><ellipse cx="1298.8" cy="409.6" rx="5" ry="5.8"/><ellipse cx="1277.9" cy="276.7" rx="10.3" ry="9.4"/><circle cx="1376.1" cy="335" r="5.1"/><ellipse cx="1174" cy="456.8" rx="9.6" ry="10.1"/><ellipse cx="1295" cy="549.1" rx="6.1" ry="5.9"/><ellipse cx="1411.5" cy="613.6" rx="5" ry="4.6"/><ellipse cx="1238.2" cy="237.8" rx="12.3" ry="13.6"/><ellipse cx="1353.5" cy="383.2" rx="11.9" ry="11"/><ellipse cx="1238.4" cy="282.3" rx="8.4" ry="7.9"/><circle cx="1143.3" cy="607.2" r="7"/><ellipse cx="1249.4" cy="598.3" rx="12.3" ry="14.4"/><ellipse cx="1202.3" cy="610.5" rx="11.8" ry="14"/><ellipse cx="1353.7" cy="621.5" rx="11.7" ry="12.1"/><ellipse cx="1334.4" cy="636.3" rx="6.5" ry="7.3"/><ellipse cx="1280.6" cy="298" rx="10.5" ry="10.3"/><ellipse cx="1205.6" cy="238.1" rx="6.6" ry="6.3"/><ellipse cx="1392.8" cy="466.5" rx="11" ry="12.1"/><ellipse cx="1189.1" cy="648.2" rx="7.9" ry="8.1"/><ellipse cx="1185.1" cy="599.6" rx="5.2" ry="4.7"/><ellipse cx="1272" cy="534.5" rx="8.8" ry="10.2"/><ellipse cx="1312.2" cy="673.3" rx="11.1" ry="11.6"/><ellipse cx="1141.1" cy="631.2" rx="13.1" ry="15"/><ellipse cx="1258.3" cy="411.2" rx="6.7" ry="6.3"/><ellipse cx="1408.6" cy="593.9" rx="11.8" ry="12"/><ellipse cx="1264.1" cy="382.4" rx="13.8" ry="16.1"/><ellipse cx="1279.8" cy="449.2" rx="10.7" ry="10.2"/><ellipse cx="1368.2" cy="437" rx="11.2" ry="11.9"/><ellipse cx="1165.8" cy="600.7" rx="5.3" ry="6.3"/><ellipse cx="1218.4" cy="323.4" rx="12.8" ry="15.3"/><ellipse cx="1161.9" cy="373.2" rx="5" ry="4.6"/><ellipse cx="1150.4" cy="373.8" rx="5.7" ry="6.8"/><ellipse cx="1230.6" cy="657.9" rx="5.7" ry="5.3"/><ellipse cx="1166.1" cy="238.4" rx="11" ry="11.7"/><ellipse cx="1194.8" cy="310" rx="5.3" ry="5.6"/><ellipse cx="1256.2" cy="639.4" rx="11.8" ry="11.1"/><ellipse cx="1145.3" cy="418.7" rx="6.8" ry="7"/><ellipse cx="1163.6" cy="435.8" rx="13.5" ry="13.2"/><ellipse cx="1224.8" cy="259.1" rx="6.8" ry="7.9"/><ellipse cx="1311.5" cy="425.4" rx="12.7" ry="15"/><ellipse cx="1303.3" cy="445.7" rx="6.4" ry="6.8"/><ellipse cx="1164" cy="510.7" rx="9.2" ry="8.4"/><ellipse cx="1254.9" cy="323.4" rx="7.9" ry="9.4"/><ellipse cx="1241.3" cy="544.9" rx="13" ry="12.8"/><ellipse cx="1347.8" cy="301.5" rx="7.3" ry="6.6"/><ellipse cx="1218.7" cy="603.7" rx="7.8" ry="9"/><ellipse cx="1367.3" cy="338.8" rx="5.8" ry="5.5"/><ellipse cx="1251.7" cy="260.5" rx="12" ry="11.1"/><ellipse cx="1161.9" cy="230.2" rx="10.5" ry="11.3"/><ellipse cx="1377.5" cy="359.9" rx="12.4" ry="14.7"/><ellipse cx="1180" cy="210.7" rx="9.2" ry="10.6"/><ellipse cx="1338.9" cy="424.2" rx="5" ry="5.2"/><ellipse cx="1240.5" cy="460.3" rx="5.5" ry="5.7"/><ellipse cx="1175.4" cy="305.4" rx="12.4" ry="13.8"/><ellipse cx="1357.6" cy="280.9" rx="11.7" ry="14"/><ellipse cx="1380.4" cy="461.8" rx="5.5" ry="5.2"/><ellipse cx="1197.3" cy="619.9" rx="7.4" ry="6.9"/><ellipse cx="1413.2" cy="418.1" rx="6.4" ry="7.7"/><circle cx="1321.5" cy="610.6" r="8.8"/><ellipse cx="1197.9" cy="216.1" rx="13.3" ry="12"/><ellipse cx="1161.9" cy="329.5" rx="9.9" ry="10.2"/><ellipse cx="1319.2" cy="659" rx="8.8" ry="8.5"/><ellipse cx="1317.4" cy="276.8" rx="5.7" ry="5.9"/><ellipse cx="1147.4" cy="329.5" rx="10.7" ry="12.2"/><ellipse cx="1370.5" cy="350.3" rx="11.7" ry="10.7"/><ellipse cx="1249.9" cy="312.9" rx="11.9" ry="13.4"/><ellipse cx="1400.8" cy="482.6" rx="9.1" ry="11"/><ellipse cx="1347.9" cy="360.1" rx="9.8" ry="10.9"/><ellipse cx="1327.6" cy="320.3" rx="12" ry="13.9"/><ellipse cx="1367.6" cy="392.1" rx="11.4" ry="13.1"/><ellipse cx="1306.5" cy="344.5" rx="8.7" ry="7.8"/><ellipse cx="1234.6" cy="227.9" rx="7.5" ry="8.4"/><ellipse cx="1316.4" cy="403.7" rx="5" ry="5.3"/><ellipse cx="1242" cy="466.6" rx="5.5" ry="5.1"/><ellipse cx="1156.8" cy="243.8" rx="13.8" ry="16.2"/><ellipse cx="1265.2" cy="257.3" rx="9.6" ry="11.2"/><ellipse cx="1187.2" cy="638.7" rx="7.9" ry="8.4"/><ellipse cx="1289.2" cy="274.7" rx="5.7" ry="6.7"/><ellipse cx="1184.3" cy="544.8" rx="5.3" ry="5.9"/><ellipse cx="1182.8" cy="601.3" rx="7.5" ry="6.7"/><ellipse cx="1140.4" cy="224.4" rx="13" ry="14.9"/><ellipse cx="1400" cy="472.1" rx="14" ry="16.2"/><ellipse cx="1293.7" cy="676.6" rx="7.6" ry="7.8"/><ellipse cx="1209.9" cy="410.5" rx="11.3" ry="11"/><ellipse cx="1252.1" cy="388.3" rx="5.4" ry="5.2"/><ellipse cx="1393.5" cy="479.6" rx="13" ry="13.5"/><ellipse cx="1278.2" cy="501.9" rx="5.3" ry="5.7"/><ellipse cx="1302.6" cy="647.8" rx="11.3" ry="12.5"/><ellipse cx="1190.2" cy="361.2" rx="8.1" ry="9.8"/><ellipse cx="1227" cy="602" rx="10" ry="10.3"/><circle cx="1247.7" cy="461.4" r="6.3"/><ellipse cx="1339.8" cy="583.9" rx="6.4" ry="7"/><ellipse cx="1327.2" cy="547.3" rx="11.2" ry="12.8"/><ellipse cx="1178.9" cy="305.9" rx="7.7" ry="7.4"/><ellipse cx="1370.9" cy="615" rx="5.5" ry="5.8"/><ellipse cx="1265.2" cy="491.3" rx="5.7" ry="5.2"/><ellipse cx="1206.8" cy="645.4" rx="11.2" ry="13.2"/><ellipse cx="1312" cy="388.4" rx="10.8" ry="12.5"/><ellipse cx="1296.6" cy="647.7" rx="13.2" ry="12.1"/><ellipse cx="1312.4" cy="493.1" rx="7.2" ry="8"/><ellipse cx="1260.4" cy="614" rx="5.3" ry="5.5"/><ellipse cx="1181" cy="255.4" rx="11.8" ry="10.7"/><ellipse cx="1244.4" cy="430.6" rx="5.4" ry="5.2"/><ellipse cx="1317.1" cy="473.2" rx="12.5" ry="12.7"/><ellipse cx="1147.5" cy="580.1" rx="13.6" ry="14.5"/><ellipse cx="1188" cy="342.7" rx="13.1" ry="13.3"/><ellipse cx="1194.5" cy="645.4" rx="13.6" ry="15"/><ellipse cx="1319.2" cy="440.8" rx="11.1" ry="11.3"/><ellipse cx="1342.7" cy="653" rx="5.2" ry="4.8"/><ellipse cx="1287.9" cy="314.9" rx="12.1" ry="11.8"/><ellipse cx="1198.1" cy="584.3" rx="5.6" ry="5.7"/><circle cx="1180.1" cy="578.5" r="8.8"/><ellipse cx="1212.2" cy="427.8" rx="14.2" ry="14"/><ellipse cx="1334.5" cy="597.8" rx="5.2" ry="5.4"/><ellipse cx="1394.5" cy="563.3" rx="7.5" ry="6.9"/><ellipse cx="1206.5" cy="629.1" rx="5.1" ry="5.3"/><ellipse cx="1222.8" cy="226.9" rx="5.4" ry="5.9"/><ellipse cx="1385.4" cy="327.3" rx="5.5" ry="6.5"/><ellipse cx="1282.6" cy="470.9" rx="5.1" ry="5.4"/><circle cx="1311.8" cy="366.9" r="6.9"/><ellipse cx="1354.6" cy="258.4" rx="5.9" ry="6.6"/><ellipse cx="1193.2" cy="226.1" rx="10.8" ry="12"/><ellipse cx="1307" cy="463" rx="14.3" ry="14.7"/><ellipse cx="1326.8" cy="386.8" rx="10.3" ry="10.9"/><ellipse cx="1394.6" cy="464.5" rx="6.1" ry="6.4"/><ellipse cx="1370.2" cy="462" rx="5.8" ry="6.6"/><ellipse cx="1361.8" cy="333.5" rx="10.7" ry="10.8"/><ellipse cx="1295.2" cy="469.5" rx="13.2" ry="15.4"/><ellipse cx="1201.6" cy="368.5" rx="8.9" ry="9.6"/><ellipse cx="1254" cy="257.2" rx="14.1" ry="14.6"/><circle cx="1150.7" cy="363.6" r="7.7"/><ellipse cx="1228.9" cy="609.9" rx="11.1" ry="12.2"/><ellipse cx="1207.3" cy="245.6" rx="6.8" ry="6.5"/><ellipse cx="1250.4" cy="605.9" rx="14.1" ry="15.4"/><circle cx="1249.8" cy="433.4" r="5.7"/><ellipse cx="1248.2" cy="278.9" rx="5.1" ry="4.7"/><ellipse cx="1358.5" cy="599.9" rx="5.1" ry="4.8"/><ellipse cx="1174.5" cy="422.6" rx="6.2" ry="6.7"/><ellipse cx="1218.7" cy="362" rx="12.2" ry="12.1"/><ellipse cx="1234.5" cy="429.6" rx="12.2" ry="13.5"/><ellipse cx="1321.7" cy="244.5" rx="5.4" ry="5"/><ellipse cx="1315.4" cy="257.9" rx="8.2" ry="7.9"/><ellipse cx="1133.9" cy="287.4" rx="10" ry="9.8"/><ellipse cx="1299.7" cy="260.9" rx="5.8" ry="6.3"/><ellipse cx="1230.8" cy="249.5" rx="5.4" ry="6.1"/><ellipse cx="1312.1" cy="558.1" rx="5.7" ry="5.4"/><ellipse cx="1211.9" cy="330.7" rx="12.8" ry="13.3"/><ellipse cx="1229.7" cy="324.9" rx="8.8" ry="10.5"/><ellipse cx="1244.3" cy="416.9" rx="7.5" ry="8.8"/><ellipse cx="1333.6" cy="282.8" rx="5.9" ry="6.2"/><circle cx="1409.3" cy="426.6" r="5.6"/><ellipse cx="1393.4" cy="446.9" rx="6.8" ry="7.9"/><ellipse cx="1374.7" cy="457.6" rx="11.6" ry="12"/><ellipse cx="1276.5" cy="460.6" rx="9.9" ry="10.5"/><ellipse cx="1180.3" cy="342.3" rx="5.6" ry="5.1"/><ellipse cx="1283.1" cy="304.2" rx="13.8" ry="16.2"/><ellipse cx="1391.6" cy="604.8" rx="9" ry="8.9"/><ellipse cx="1277.1" cy="340.5" rx="5.1" ry="5.8"/><ellipse cx="1168.7" cy="573.8" rx="11" ry="11.1"/><ellipse cx="1237.3" cy="314.2" rx="6.4" ry="6.7"/><ellipse cx="1209.6" cy="346.8" rx="12.8" ry="14.4"/><ellipse cx="1219.1" cy="225.8" rx="12.8" ry="14.4"/><circle cx="1189.5" cy="273.9" r="5.9"/><ellipse cx="1254.2" cy="460.2" rx="8.7" ry="8.4"/><ellipse cx="1260.6" cy="491.6" rx="13.3" ry="13.4"/><ellipse cx="1248" cy="238" rx="9.7" ry="10.2"/><ellipse cx="1214.5" cy="399.3" rx="7.9" ry="8"/><ellipse cx="1231" cy="607.8" rx="13.1" ry="11.9"/><ellipse cx="1346.1" cy="584.1" rx="9" ry="10"/><ellipse cx="1318.1" cy="296.5" rx="6.3" ry="6.9"/><ellipse cx="1124" cy="306.4" rx="9" ry="9.4"/><ellipse cx="1214.6" cy="381.9" rx="10.3" ry="12.2"/><ellipse cx="1281.4" cy="662.2" rx="7.9" ry="9"/><ellipse cx="1398.9" cy="556" rx="12.9" ry="14.4"/><ellipse cx="1384.6" cy="515.3" rx="8.5" ry="8.9"/><ellipse cx="1391.6" cy="297.7" rx="7.3" ry="6.6"/><ellipse cx="1338.4" cy="267.2" rx="5.2" ry="5.1"/><ellipse cx="1204.7" cy="583.5" rx="6.8" ry="7.3"/><ellipse cx="1153.3" cy="311.7" rx="14.3" ry="16.7"/><ellipse cx="1342" cy="631" rx="11.8" ry="10.7"/><ellipse cx="1158.8" cy="356.8" rx="5.4" ry="5.2"/><ellipse cx="1353.2" cy="281.7" rx="10.5" ry="11"/><ellipse cx="1319.4" cy="331.8" rx="7.3" ry="7.7"/><ellipse cx="1133.1" cy="319.5" rx="7.6" ry="8.8"/><ellipse cx="1242.7" cy="618.8" rx="5.8" ry="5.3"/><ellipse cx="1252.2" cy="655.9" rx="8.6" ry="9.9"/><ellipse cx="1149.3" cy="578.6" rx="10.9" ry="10.3"/><ellipse cx="1302.2" cy="675.5" rx="5.6" ry="6.2"/><ellipse cx="1383" cy="310.1" rx="5.6" ry="5.8"/><ellipse cx="1226.3" cy="295.9" rx="13.9" ry="14.6"/><ellipse cx="1406.1" cy="404.7" rx="6.2" ry="6.1"/><ellipse cx="1189.7" cy="392" rx="13.8" ry="14"/><ellipse cx="1217.3" cy="453.8" rx="9.8" ry="9.7"/><ellipse cx="1141.3" cy="611.5" rx="5.1" ry="4.7"/><ellipse cx="1263.1" cy="667.3" rx="7.9" ry="7.5"/><ellipse cx="1167" cy="362.4" rx="5.5" ry="6.1"/><ellipse cx="1160.6" cy="329.2" rx="6.4" ry="6.3"/><ellipse cx="1294.2" cy="672.5" rx="5.5" ry="6.2"/><ellipse cx="1188.5" cy="642.3" rx="11.9" ry="14.1"/><ellipse cx="1240.5" cy="397.2" rx="9.4" ry="9"/><ellipse cx="1217.1" cy="628.3" rx="10.6" ry="10"/><ellipse cx="1319.6" cy="338.1" rx="13.9" ry="15.6"/><ellipse cx="1293.8" cy="493.3" rx="8.4" ry="9.4"/><ellipse cx="1322.7" cy="596.2" rx="12.2" ry="13"/><ellipse cx="1173.6" cy="618.3" rx="8.4" ry="9.9"/><ellipse cx="1212.3" cy="234.3" rx="7" ry="6.6"/><ellipse cx="1172.3" cy="600.5" rx="11.6" ry="11.4"/><ellipse cx="1308.8" cy="645.7" rx="5.5" ry="5.2"/><ellipse cx="1249" cy="480" rx="10.1" ry="10"/><ellipse cx="1335.3" cy="498.2" rx="8.5" ry="10"/><circle cx="1267.3" cy="639.4" r="5.3"/><ellipse cx="1339.8" cy="606" rx="5.8" ry="6.6"/><ellipse cx="1208.9" cy="423.1" rx="10.5" ry="9.5"/><ellipse cx="1328.6" cy="252.1" rx="12.2" ry="11.3"/><ellipse cx="1298.8" cy="319.9" rx="10" ry="11.8"/><ellipse cx="1393.8" cy="540.3" rx="7.3" ry="8.2"/><ellipse cx="1416.9" cy="600.4" rx="9.6" ry="10.5"/><ellipse cx="1210.1" cy="225.9" rx="5.2" ry="5"/><ellipse cx="1248.4" cy="628.5" rx="5.2" ry="6.3"/><ellipse cx="1152.4" cy="366.7" rx="8.4" ry="7.7"/><ellipse cx="1162.2" cy="226.2" rx="13.4" ry="13.9"/><ellipse cx="1227.9" cy="324.9" rx="14" ry="14.5"/><ellipse cx="1284.8" cy="236.3" rx="6.5" ry="7.7"/><ellipse cx="1237.1" cy="301.1" rx="7.5" ry="8.1"/><ellipse cx="1149.2" cy="567.4" rx="12.1" ry="13.9"/><ellipse cx="1283.1" cy="653.9" rx="6.4" ry="6.3"/><ellipse cx="1334.9" cy="617.4" rx="8.8" ry="9.6"/><ellipse cx="1229.3" cy="350.1" rx="6.4" ry="6.5"/><ellipse cx="1314.6" cy="471.8" rx="7" ry="6.6"/><ellipse cx="1370.8" cy="404.4" rx="5" ry="5.9"/><ellipse cx="1259" cy="338" rx="12.3" ry="12.4"/><ellipse cx="1161.3" cy="597" rx="8.9" ry="9.9"/><ellipse cx="1374.2" cy="309" rx="7.9" ry="7.4"/><ellipse cx="1393.8" cy="385.9" rx="9.9" ry="9.5"/><circle cx="1388.9" cy="311.3" r="7.8"/><ellipse cx="1300.7" cy="328.8" rx="8.2" ry="9.9"/><ellipse cx="1386.3" cy="544.6" rx="11.8" ry="11.1"/><circle cx="1173.5" cy="457.4" r="6.1"/><ellipse cx="1387" cy="423" rx="6.4" ry="7.7"/><ellipse cx="1291.4" cy="492.3" rx="8.6" ry="9"/><ellipse cx="1153.3" cy="360.5" rx="14" ry="15.7"/><ellipse cx="1329.8" cy="647.6" rx="9.6" ry="9.1"/><ellipse cx="1337.9" cy="597.5" rx="10.5" ry="10.7"/><ellipse cx="1289.9" cy="246.5" rx="11.1" ry="12.7"/><ellipse cx="1156.5" cy="560.4" rx="14.2" ry="16.3"/><ellipse cx="1325" cy="382.2" rx="7.3" ry="7"/><ellipse cx="1343.6" cy="576.9" rx="5.7" ry="5.8"/><ellipse cx="1322.2" cy="660.7" rx="8.6" ry="8.5"/><ellipse cx="1249.2" cy="250.5" rx="13.5" ry="15.7"/><ellipse cx="1360.8" cy="371.5" rx="6.2" ry="5.9"/><ellipse cx="1321.3" cy="295.7" rx="11.1" ry="13.1"/><ellipse cx="1170.8" cy="560.8" rx="5.3" ry="6.1"/><ellipse cx="1166.8" cy="635.6" rx="9" ry="8.7"/><ellipse cx="1175.2" cy="417.6" rx="5.5" ry="6.4"/><ellipse cx="1410.8" cy="373.9" rx="9.2" ry="10.3"/><ellipse cx="1348.7" cy="324.2" rx="12.3" ry="14"/><ellipse cx="1309.9" cy="467.2" rx="13.1" ry="12.7"/><ellipse cx="1340.4" cy="433.1" rx="12.7" ry="15.2"/><ellipse cx="1386.7" cy="465.9" rx="11" ry="11.2"/><circle cx="1159.5" cy="352.3" r="8"/><ellipse cx="1303.6" cy="484.1" rx="13.6" ry="14.9"/><ellipse cx="1244.8" cy="430.8" rx="5.5" ry="5"/><ellipse cx="1401.8" cy="549.1" rx="13.8" ry="14.2"/><ellipse cx="1386.1" cy="501.7" rx="6.3" ry="5.7"/><ellipse cx="1269.5" cy="414.5" rx="9" ry="8.8"/><ellipse cx="1365.8" cy="616.7" rx="8.6" ry="9.4"/><ellipse cx="1156.1" cy="404.7" rx="7.5" ry="6.9"/><ellipse cx="1284.2" cy="320.6" rx="10.6" ry="10.3"/><ellipse cx="1377.1" cy="599.1" rx="5.2" ry="5.8"/><ellipse cx="1129.6" cy="271.4" rx="9.9" ry="10.6"/><ellipse cx="1171.1" cy="573.9" rx="5.9" ry="6.7"/><ellipse cx="1315.3" cy="531.5" rx="5.7" ry="5.1"/><ellipse cx="1206.8" cy="589.6" rx="9.6" ry="9.5"/><ellipse cx="1303.2" cy="343.4" rx="5.5" ry="5.9"/><ellipse cx="1303.6" cy="422.9" rx="7.4" ry="7.5"/><ellipse cx="1285.5" cy="231.3" rx="12.2" ry="12.5"/><ellipse cx="1264.9" cy="651.8" rx="12.8" ry="13"/><ellipse cx="1266.8" cy="419.6" rx="10" ry="10.9"/><ellipse cx="1149.7" cy="559.2" rx="5.2" ry="5"/><ellipse cx="1180.8" cy="337.5" rx="12.4" ry="12.9"/><ellipse cx="1390.2" cy="310.1" rx="13.4" ry="15.4"/><ellipse cx="1140.8" cy="223.6" rx="6.6" ry="6.7"/><circle cx="1354.6" cy="659.6" r="6.9"/><ellipse cx="1130.1" cy="255.4" rx="5.7" ry="6.2"/><ellipse cx="1405.5" cy="554.8" rx="6.2" ry="7"/><ellipse cx="1212.1" cy="359.5" rx="7.4" ry="8.6"/><ellipse cx="1355" cy="261.2" rx="11.4" ry="10.3"/><ellipse cx="1321.4" cy="597.5" rx="6.9" ry="6.7"/><ellipse cx="1282.5" cy="254.1" rx="6.9" ry="8"/><ellipse cx="1295.4" cy="396.9" rx="8.9" ry="8.2"/><ellipse cx="1213.6" cy="247.4" rx="5.4" ry="6.4"/><ellipse cx="1191.6" cy="544.4" rx="11.8" ry="11"/><ellipse cx="1302" cy="537.3" rx="6.4" ry="7.2"/><ellipse cx="1378.3" cy="392.8" rx="6.3" ry="7.2"/><ellipse cx="1299.2" cy="408.7" rx="5.2" ry="4.7"/><ellipse cx="1261.8" cy="620.4" rx="9.8" ry="10.9"/><ellipse cx="1260.3" cy="423.3" rx="8.1" ry="8.6"/><ellipse cx="1153.8" cy="288.9" rx="5.3" ry="5.2"/><ellipse cx="1421.6" cy="578" rx="5.2" ry="4.7"/><ellipse cx="1222.2" cy="324.4" rx="5.1" ry="5.7"/><ellipse cx="1225" cy="616.7" rx="10.2" ry="11.7"/><ellipse cx="1340" cy="454.9" rx="10.7" ry="12.7"/><ellipse cx="1334.8" cy="415" rx="5.2" ry="5.5"/><ellipse cx="1325.1" cy="576.3" rx="11.8" ry="12.4"/><ellipse cx="1269.9" cy="414.3" rx="12.4" ry="12.1"/><ellipse cx="1211.7" cy="253.8" rx="11.7" ry="11.4"/><ellipse cx="1190.6" cy="603.8" rx="13.1" ry="12.2"/><ellipse cx="1277.4" cy="540.9" rx="5.3" ry="4.8"/><circle cx="1409.4" cy="581.4" r="5.2"/><ellipse cx="1243.3" cy="267.6" rx="11.8" ry="11.9"/><ellipse cx="1247.9" cy="418.5" rx="10.1" ry="12"/><ellipse cx="1397.1" cy="331.2" rx="13.6" ry="13.9"/><ellipse cx="1348.2" cy="395.8" rx="13.4" ry="15.7"/><ellipse cx="1381.5" cy="505.1" rx="7.7" ry="7.4"/><ellipse cx="1326.2" cy="413.4" rx="9" ry="8.6"/><ellipse cx="1170.6" cy="570.6" rx="9.5" ry="9.6"/><ellipse cx="1303.4" cy="237.7" rx="13.8" ry="13.2"/><ellipse cx="1398.3" cy="400.4" rx="7.2" ry="8"/><ellipse cx="1404.6" cy="553.4" rx="12.9" ry="12.2"/><ellipse cx="1317.4" cy="328" rx="5.7" ry="5.4"/><ellipse cx="1211.1" cy="353.4" rx="6.3" ry="6.8"/><ellipse cx="1295.2" cy="544.3" rx="13.8" ry="16.4"/><ellipse cx="1332.6" cy="526.4" rx="7.3" ry="8.6"/><ellipse cx="1266.1" cy="335.5" rx="5.5" ry="5.4"/><ellipse cx="1346.8" cy="376.9" rx="9.9" ry="10"/><ellipse cx="1225.4" cy="245.7" rx="6.2" ry="7.3"/><ellipse cx="1257.6" cy="447.7" rx="13.2" ry="13.5"/><ellipse cx="1201.1" cy="592.1" rx="11.4" ry="10.7"/><ellipse cx="1192.7" cy="647.8" rx="13.6" ry="15.6"/><ellipse cx="1268" cy="473.7" rx="11.2" ry="10.7"/><ellipse cx="1244.8" cy="361.2" rx="12.1" ry="11.7"/><ellipse cx="1374.7" cy="391.6" rx="11.7" ry="10.6"/><ellipse cx="1389.4" cy="326.8" rx="5.8" ry="5.9"/><ellipse cx="1305.6" cy="505.1" rx="6.8" ry="6.9"/><ellipse cx="1287.1" cy="449.1" rx="13.6" ry="13.1"/><ellipse cx="1422.5" cy="562.8" rx="11.7" ry="11.3"/><ellipse cx="1390.1" cy="563.8" rx="11.1" ry="13.2"/><ellipse cx="1337.7" cy="274.7" rx="13.6" ry="12.8"/><ellipse cx="1242.2" cy="280.1" rx="6.2" ry="6.7"/><circle cx="1337" cy="375" r="7.3"/><ellipse cx="1394.4" cy="461.9" rx="5.2" ry="5.4"/><ellipse cx="1273" cy="498.3" rx="8.6" ry="8.4"/><ellipse cx="1164.1" cy="432.9" rx="14" ry="14.4"/><ellipse cx="1284" cy="435.7" rx="12.5" ry="11.9"/><ellipse cx="1269.7" cy="653.9" rx="13.1" ry="13"/><ellipse cx="1375.7" cy="282.8" rx="13.8" ry="15.4"/><ellipse cx="1314.3" cy="335.3" rx="9.1" ry="9"/><ellipse cx="1134.5" cy="628.4" rx="8.2" ry="9.1"/><ellipse cx="1210.2" cy="416.8" rx="5.1" ry="5.4"/><ellipse cx="1212.5" cy="460.5" rx="7.4" ry="7"/><ellipse cx="1286.5" cy="341.6" rx="8.7" ry="10"/><ellipse cx="1266.6" cy="322.6" rx="7" ry="6.7"/><ellipse cx="1363.1" cy="395" rx="10.9" ry="12.1"/></g><g fill="url(#ds)"><ellipse cx="1284.8" cy="680.5" rx="3.7" ry="4.1"/><ellipse cx="1292.5" cy="698.2" rx="3" ry="3.4"/><ellipse cx="1127.3" cy="682.8" rx="3.7" ry="4.2"/><ellipse cx="1443.5" cy="684.3" rx="2.9" ry="3.1"/><ellipse cx="1308.6" cy="697" rx="3.1" ry="2.9"/><ellipse cx="1357.6" cy="667.4" rx="2.9" ry="3.1"/><ellipse cx="1113.8" cy="643.8" rx="2.9" ry="2.6"/><ellipse cx="1231.8" cy="711.1" rx="3.1" ry="3.2"/><circle cx="1289.3" cy="722.5" r="3.2"/><ellipse cx="1408.7" cy="649.4" rx="3.7" ry="3.9"/><ellipse cx="1303" cy="689.2" rx="4.2" ry="4.7"/><ellipse cx="1448.4" cy="681.9" rx="3.3" ry="3.6"/></g><g fill="url(#dm)"><ellipse cx="1275.2" cy="731" rx="7.2" ry="7.5"/><ellipse cx="1113.4" cy="629" rx="8.5" ry="8.4"/><ellipse cx="1359.7" cy="672.5" rx="5" ry="5.4"/><ellipse cx="1351.4" cy="726.6" rx="7.7" ry="7.4"/><ellipse cx="1178.1" cy="711.1" rx="6.9" ry="6.7"/><ellipse cx="1126.8" cy="625.4" rx="7.6" ry="7.4"/><ellipse cx="1244" cy="674.3" rx="8.7" ry="10"/></g><g fill="url(#ds)"><ellipse cx="1327.9" cy="678.7" rx="4.7" ry="4.3"/></g><g fill="url(#dm)"><ellipse cx="1112.4" cy="637.1" rx="7.9" ry="9.4"/><ellipse cx="1124.7" cy="655.6" rx="7.7" ry="7.6"/><ellipse cx="1340.6" cy="713.1" rx="5.6" ry="5.5"/><circle cx="1203.5" cy="718.2" r="4.7"/><ellipse cx="1428.2" cy="669.4" rx="4.5" ry="5.3"/><circle cx="1316" cy="673.7" r="5.5"/><ellipse cx="1230.1" cy="717.3" rx="5.9" ry="5.6"/><ellipse cx="1298.7" cy="732.3" rx="5.9" ry="6.1"/><ellipse cx="1449.4" cy="634.8" rx="6.8" ry="7"/><ellipse cx="1413.8" cy="705.9" rx="5.5" ry="5.3"/><ellipse cx="1166.5" cy="716.9" rx="5.2" ry="5.9"/><ellipse cx="1302.6" cy="735.3" rx="8.2" ry="9.5"/><ellipse cx="1206.2" cy="657.8" rx="6.7" ry="7.9"/><ellipse cx="1359.9" cy="680.6" rx="7.7" ry="7.2"/><ellipse cx="1108.9" cy="581.7" rx="6.1" ry="5.8"/><ellipse cx="1109.1" cy="592.7" rx="5.1" ry="4.7"/><ellipse cx="1114.1" cy="622" rx="6.4" ry="6.5"/></g></g>
<ellipse cx="1287.6" cy="607.6" rx="37.5" ry="50.6" fill="url(#HG)"/>
<ellipse cx="1211.7" cy="632" rx="10" ry="11" fill="url(#HC)"/>
<ellipse cx="1124.4" cy="663.4" rx="12" ry="16.1" fill="url(#HG)"/>
<ellipse cx="1188.1" cy="686.1" rx="9.6" ry="9.6" fill="url(#HG)"/>
<ellipse cx="1248.4" cy="700.1" rx="8.4" ry="8.4" fill="url(#HC)"/>
<g filter="url(#fo)"><ellipse cx="1369.6" cy="282.5" rx="6.6" ry="24.4"/></g>
<g filter="url(#fo)"><ellipse cx="1368.7" cy="333.1" rx="9.6" ry="26.2"/></g>
<g filter="url(#fo)"><path d="M1422.2,247.6C1422.7,247.6 1423.1,250 1423.6,254.1C1424.2,258.2 1424.1,264.8 1425.4,272.2C1426.8,279.6 1430.1,289.3 1431.7,298.5C1433.3,307.7 1434.8,318.4 1434.9,327.6C1435,336.9 1433.6,346.5 1432.2,353.9C1430.9,361.3 1428.9,367.9 1426.9,372C1424.9,376.1 1422.4,378.5 1420.2,378.5C1417.9,378.5 1415.4,376.1 1413.4,372C1411.4,367.9 1409.4,361.3 1408.1,353.9C1406.8,346.5 1405.2,336.9 1405.5,327.6C1405.8,318.4 1407.8,307.7 1409.8,298.5C1411.9,289.3 1415.8,279.6 1417.6,272.2C1419.3,264.8 1419.6,258.2 1420.3,254.1C1421.1,250 1421.6,247.6 1422.2,247.6Z"/></g>
<circle cx="1369.6" cy="345.3" r="7.3" fill="url(#MG)"/>
<circle cx="1418.1" cy="364.6" r="5.9" fill="url(#MG)"/>
<g filter="url(#fo)" fill-opacity="0.8"><ellipse cx="1338.1" cy="406.4" rx="5.2" ry="12.2"/></g>
<g filter="url(#fo)" fill-opacity="0.7"><ellipse cx="1382.6" cy="404.7" rx="3.5" ry="8.7"/></g>
<g filter="url(#fo)" fill-opacity="0.75"><ellipse cx="1413.2" cy="380.3" rx="7" ry="8.7"/></g>
<g filter="url(#fo)" fill-opacity="0.78"><ellipse cx="1383.5" cy="480.1" rx="13.1" ry="31.4"/></g>
<g filter="url(#fo)" fill-opacity="0.8"><ellipse cx="1375.7" cy="569.2" rx="7.9" ry="22.7"/></g>
<g filter="url(#fo)" fill-opacity="0.7"><ellipse cx="1346" cy="633.8" rx="3.5" ry="8.7"/></g>
<g filter="url(#fo)" fill-opacity="0.8"><ellipse cx="1338.3" cy="404.7" rx="6.1" ry="12.2"/></g>
<g clip-path="url(#cb3)"><g filter="url(#bl05)"><path d="M1105.5,405C1108.1,405 1112,408.1 1113.4,413.4C1114.9,418.7 1113.1,427.3 1114.1,436.8C1115.1,446.4 1116,458.8 1119.3,470.7C1122.6,482.6 1130.3,496.4 1133.9,508.3C1137.5,520.2 1141.7,532.6 1140.7,542.2C1139.6,551.7 1133.3,560.3 1127.4,565.6C1121.5,570.9 1112.8,574 1105.5,574C1098.2,574 1089.5,570.9 1083.6,565.6C1077.7,560.3 1071.4,551.7 1070.3,542.2C1069.3,532.6 1073.5,520.2 1077.1,508.3C1080.7,496.4 1088.4,482.6 1091.7,470.7C1095,458.8 1095.9,446.4 1096.9,436.8C1097.9,427.3 1096.1,418.7 1097.6,413.4C1099,408.1 1102.9,405 1105.5,405Z" fill="#3458ff"/><path d="M1105.5,407.8C1107.7,407.8 1111,410.8 1112.2,415.9C1113.4,421.1 1111.9,429.5 1112.8,438.9C1113.8,448.2 1114.7,460.3 1118,472C1121.3,483.6 1129.1,497 1132.6,508.7C1136.2,520.3 1140.4,532.5 1139.4,541.8C1138.4,551.1 1132.3,559.5 1126.6,564.7C1121,569.9 1112.5,572.9 1105.5,572.9C1098.5,572.9 1090,569.9 1084.4,564.7C1078.7,559.5 1072.6,551.1 1071.6,541.8C1070.6,532.5 1074.8,520.3 1078.4,508.7C1081.9,497 1089.7,483.6 1093,472C1096.3,460.3 1097.2,448.2 1098.2,438.9C1099.1,429.5 1097.6,421.1 1098.8,415.9C1100,410.8 1103.3,407.8 1105.5,407.8Z" fill="#10b0ff"/><path d="M1105.5,410.1C1107.4,410.1 1110.1,413.1 1111.1,418.2C1112.1,423.2 1110.8,431.5 1111.8,440.6C1112.7,449.7 1113.6,461.6 1116.9,473C1120.2,484.4 1128,497.6 1131.6,509C1135.1,520.4 1139.3,532.3 1138.4,541.4C1137.4,550.6 1131.5,558.8 1126,563.9C1120.5,569 1112.3,571.9 1105.5,571.9C1098.7,571.9 1090.5,569 1085,563.9C1079.5,558.8 1073.6,550.6 1072.6,541.4C1071.7,532.3 1075.9,520.4 1079.4,509C1083,497.6 1090.8,484.4 1094.1,473C1097.4,461.6 1098.3,449.7 1099.2,440.6C1100.2,431.5 1098.9,423.2 1099.9,418.2C1100.9,413.1 1103.6,410.1 1105.5,410.1Z" fill="#00e8c0"/><path d="M1105.5,412.9C1106.9,412.9 1109,415.8 1109.8,420.7C1110.7,425.7 1109.5,433.7 1110.5,442.6C1111.5,451.6 1112.4,463.2 1115.7,474.3C1119,485.4 1126.7,498.3 1130.3,509.4C1133.9,520.5 1138,532.1 1137.1,541C1136.3,550 1130.5,558 1125.2,562.9C1119.9,567.9 1112.1,570.8 1105.5,570.8C1098.9,570.8 1091.1,567.9 1085.8,562.9C1080.5,558 1074.7,550 1073.9,541C1073,532.1 1077.1,520.5 1080.7,509.4C1084.3,498.3 1092,485.4 1095.3,474.3C1098.6,463.2 1099.5,451.6 1100.5,442.6C1101.5,433.7 1100.3,425.7 1101.2,420.7C1102,415.8 1104.1,412.9 1105.5,412.9Z" fill="#10f050"/><path d="M1105.5,417.7C1106.2,417.7 1107.2,420.4 1107.7,425.2C1108.1,429.9 1107.4,437.6 1108.3,446.1C1109.3,454.7 1110.2,465.8 1113.5,476.4C1116.8,487.1 1124.6,499.4 1128.1,510.1C1131.7,520.7 1135.7,531.8 1135,540.4C1134.3,548.9 1128.8,556.6 1123.9,561.3C1119,566.1 1111.6,568.8 1105.5,568.8C1099.4,568.8 1092,566.1 1087.1,561.3C1082.2,556.6 1076.7,548.9 1076,540.4C1075.3,531.8 1079.3,520.7 1082.9,510.1C1086.4,499.4 1094.2,487.1 1097.5,476.4C1100.8,465.8 1101.7,454.7 1102.7,446.1C1103.6,437.6 1102.9,429.9 1103.3,425.2C1103.8,420.4 1104.8,417.7 1105.5,417.7Z" fill="#38f800"/><path d="M1105.5,422.4C1106,422.4 1106.6,425 1106.9,429.6C1107.3,434.1 1106.6,441.5 1107.5,449.6C1108.5,457.8 1109.3,468.4 1112.5,478.6C1115.6,488.8 1122.9,500.5 1126.4,510.7C1129.8,520.9 1133.5,531.5 1132.9,539.7C1132.3,547.8 1127.2,555.2 1122.6,559.7C1118,564.3 1111.2,566.9 1105.5,566.9C1099.8,566.9 1093,564.3 1088.4,559.7C1083.8,555.2 1078.7,547.8 1078.1,539.7C1077.5,531.5 1081.2,520.9 1084.6,510.7C1088.1,500.5 1095.4,488.8 1098.5,478.6C1101.7,468.4 1102.5,457.8 1103.5,449.6C1104.4,441.5 1103.7,434.1 1104.1,429.6C1104.4,425 1105,422.4 1105.5,422.4Z" fill="#78fc00"/><path d="M1105.5,428C1105.9,428 1106.5,430.4 1106.8,434.7C1107.1,439 1106.5,446 1107.4,453.7C1108.2,461.4 1109,471.5 1111.8,481.1C1114.7,490.7 1121.4,501.9 1124.5,511.5C1127.6,521.1 1131,531.2 1130.5,538.9C1129.9,546.6 1125.2,553.6 1121,557.8C1116.9,562.1 1110.7,564.6 1105.5,564.6C1100.3,564.6 1094.1,562.1 1090,557.8C1085.8,553.6 1081.1,546.6 1080.5,538.9C1080,531.2 1083.4,521.1 1086.5,511.5C1089.6,501.9 1096.3,490.7 1099.2,481.1C1102,471.5 1102.8,461.4 1103.6,453.7C1104.5,446 1103.9,439 1104.2,434.7C1104.5,430.4 1105.1,428 1105.5,428Z" fill="#b4ff00"/><path d="M1105.5,433.5C1105.9,433.5 1106.4,435.8 1106.7,439.9C1106.9,443.9 1106.4,450.5 1107.2,457.8C1107.9,465 1108.6,474.5 1111.2,483.6C1113.8,492.7 1119.8,503.2 1122.6,512.3C1125.4,521.3 1128.5,530.8 1128,538.1C1127.5,545.4 1123.3,551.9 1119.5,556C1115.8,560 1110.2,562.3 1105.5,562.3C1100.8,562.3 1095.2,560 1091.5,556C1087.7,551.9 1083.5,545.4 1083,538.1C1082.5,530.8 1085.6,521.3 1088.4,512.3C1091.2,503.2 1097.2,492.7 1099.8,483.6C1102.4,474.5 1103.1,465 1103.8,457.8C1104.6,450.5 1104.1,443.9 1104.3,439.9C1104.6,435.8 1105.1,433.5 1105.5,433.5Z" fill="#e0ff00"/><path d="M1105.5,440.6C1105.8,440.6 1106.3,442.8 1106.5,446.5C1106.7,450.2 1106.3,456.3 1106.9,463C1107.6,469.7 1108.2,478.4 1110.4,486.8C1112.6,495.2 1117.8,504.9 1120.2,513.2C1122.6,521.6 1125.3,530.3 1124.8,537.1C1124.4,543.8 1120.8,549.8 1117.5,553.5C1114.3,557.3 1109.5,559.4 1105.5,559.4C1101.5,559.4 1096.7,557.3 1093.5,553.5C1090.2,549.8 1086.6,543.8 1086.2,537.1C1085.7,530.3 1088.4,521.6 1090.8,513.2C1093.2,504.9 1098.4,495.2 1100.6,486.8C1102.8,478.4 1103.4,469.7 1104.1,463C1104.7,456.3 1104.3,450.2 1104.5,446.5C1104.7,442.8 1105.2,440.6 1105.5,440.6Z" fill="#f8fc00"/><path d="M1105.5,452.5C1105.7,452.5 1106.1,454.4 1106.2,457.6C1106.4,460.8 1106.1,466 1106.5,471.7C1107,477.5 1107.5,485 1109.1,492.2C1110.7,499.4 1114.4,507.7 1116.2,514.9C1117.9,522.1 1119.9,529.6 1119.6,535.4C1119.2,541.1 1116.6,546.3 1114.3,549.5C1111.9,552.7 1108.4,554.6 1105.5,554.6C1102.6,554.6 1099.1,552.7 1096.7,549.5C1094.4,546.3 1091.8,541.1 1091.4,535.4C1091.1,529.6 1093.1,522.1 1094.8,514.9C1096.6,507.7 1100.3,499.4 1101.9,492.2C1103.5,485 1104,477.5 1104.5,471.7C1104.9,466 1104.6,460.8 1104.8,457.6C1104.9,454.4 1105.3,452.5 1105.5,452.5Z" fill="#fff000"/><path d="M1105.5,463.6C1105.7,463.6 1105.9,465.2 1106,467.9C1106.1,470.6 1105.9,475 1106.2,479.9C1106.5,484.8 1106.8,491.1 1107.8,497.2C1108.9,503.3 1111.3,510.3 1112.5,516.4C1113.6,522.5 1114.8,528.9 1114.6,533.8C1114.4,538.6 1112.7,543 1111.2,545.7C1109.7,548.5 1107.4,550 1105.5,550C1103.6,550 1101.3,548.5 1099.8,545.7C1098.3,543 1096.6,538.6 1096.4,533.8C1096.2,528.9 1097.4,522.5 1098.5,516.4C1099.7,510.3 1102.1,503.3 1103.2,497.2C1104.2,491.1 1104.5,484.8 1104.8,479.9C1105.1,475 1104.9,470.6 1105,467.9C1105.1,465.2 1105.3,463.6 1105.5,463.6Z" fill="#ffd800"/><path d="M1105.5,473.9C1105.6,473.9 1105.7,475.2 1105.7,477.5C1105.8,479.7 1105.7,483.4 1105.8,487.4C1106,491.5 1106.1,496.8 1106.7,501.9C1107.2,506.9 1108.4,512.8 1109,517.9C1109.5,522.9 1110.2,528.2 1110.1,532.3C1110,536.3 1109.1,540 1108.3,542.3C1107.6,544.5 1106.4,545.8 1105.5,545.8C1104.6,545.8 1103.4,544.5 1102.7,542.3C1101.9,540 1101,536.3 1100.9,532.3C1100.8,528.2 1101.5,522.9 1102,517.9C1102.6,512.8 1103.8,506.9 1104.3,501.9C1104.9,496.8 1105,491.5 1105.2,487.4C1105.3,483.4 1105.2,479.7 1105.3,477.5C1105.3,475.2 1105.4,473.9 1105.5,473.9Z" fill="#ffb400"/></g></g>
<g clip-path="url(#cl3)"><g filter="url(#bl05)"><path d="M1328.5,486C1331.1,486 1334.2,488 1336.2,491.3C1338.2,494.7 1338.2,500.2 1340.3,506.3C1342.3,512.4 1346.2,520.4 1348.4,528C1350.6,535.6 1353.3,544.4 1353.5,552C1353.7,559.6 1351.9,567.6 1349.7,573.7C1347.6,579.8 1344.1,585.3 1340.5,588.7C1337,592 1332.5,594 1328.5,594C1324.5,594 1320,592 1316.5,588.7C1312.9,585.3 1309.4,579.8 1307.3,573.7C1305.1,567.6 1303.3,559.6 1303.5,552C1303.7,544.4 1306.4,535.6 1308.6,528C1310.8,520.4 1314.7,512.4 1316.7,506.3C1318.8,500.2 1318.8,494.7 1320.8,491.3C1322.8,488 1325.9,486 1328.5,486Z" fill="#3458ff"/><path d="M1328.5,488.8C1330.7,488.8 1333.4,490.6 1335.2,493.9C1336.9,497.2 1337,502.5 1339,508.4C1341,514.2 1344.9,521.9 1347.1,529.2C1349.3,536.6 1352,545.1 1352.2,552.4C1352.5,559.7 1350.7,567.4 1348.6,573.3C1346.6,579.2 1343.3,584.5 1339.9,587.7C1336.6,591 1332.3,592.9 1328.5,592.9C1324.7,592.9 1320.4,591 1317.1,587.7C1313.7,584.5 1310.4,579.2 1308.4,573.3C1306.3,567.4 1304.5,559.7 1304.8,552.4C1305,545.1 1307.7,536.6 1309.9,529.2C1312.1,521.9 1316,514.2 1318,508.4C1320,502.5 1320.1,497.2 1321.8,493.9C1323.6,490.6 1326.3,488.8 1328.5,488.8Z" fill="#10b0ff"/><path d="M1328.5,491.5C1330.3,491.5 1332.5,493.3 1334,496.5C1335.6,499.6 1335.8,504.7 1337.8,510.4C1339.7,516 1343.7,523.4 1345.9,530.5C1348.1,537.5 1350.7,545.7 1351,552.8C1351.3,559.8 1349.5,567.2 1347.6,572.9C1345.6,578.5 1342.5,583.6 1339.3,586.8C1336.2,589.9 1332.1,591.8 1328.5,591.8C1324.9,591.8 1320.8,589.9 1317.7,586.8C1314.5,583.6 1311.4,578.5 1309.4,572.9C1307.5,567.2 1305.7,559.8 1306,552.8C1306.3,545.7 1308.9,537.5 1311.1,530.5C1313.3,523.4 1317.3,516 1319.2,510.4C1321.2,504.7 1321.4,499.6 1323,496.5C1324.5,493.3 1326.7,491.5 1328.5,491.5Z" fill="#00e8c0"/><path d="M1328.5,494.8C1329.8,494.8 1331.2,496.5 1332.5,499.5C1333.8,502.5 1334.3,507.4 1336.3,512.8C1338.2,518.2 1342.2,525.2 1344.4,532C1346.6,538.7 1349.2,546.5 1349.5,553.2C1349.8,560 1348.1,567 1346.3,572.4C1344.5,577.8 1341.6,582.7 1338.6,585.7C1335.7,588.7 1331.9,590.4 1328.5,590.4C1325.1,590.4 1321.3,588.7 1318.4,585.7C1315.4,582.7 1312.5,577.8 1310.7,572.4C1308.9,567 1307.2,560 1307.5,553.2C1307.8,546.5 1310.4,538.7 1312.6,532C1314.8,525.2 1318.8,518.2 1320.7,512.8C1322.7,507.4 1323.2,502.5 1324.5,499.5C1325.8,496.5 1327.2,494.8 1328.5,494.8Z" fill="#10f040"/><path d="M1328.5,502.5C1329,502.5 1329,504 1329.9,506.7C1330.7,509.4 1331.5,513.7 1333.4,518.5C1335.3,523.2 1339,529.5 1341.1,535.4C1343.2,541.4 1345.6,548.3 1346,554.3C1346.4,560.3 1344.9,566.5 1343.3,571.3C1341.8,576.1 1339.4,580.4 1336.9,583.1C1334.5,585.7 1331.3,587.2 1328.5,587.2C1325.7,587.2 1322.5,585.7 1320.1,583.1C1317.6,580.4 1315.2,576.1 1313.7,571.3C1312.1,566.5 1310.6,560.3 1311,554.3C1311.4,548.3 1313.8,541.4 1315.9,535.4C1318,529.5 1321.7,523.2 1323.6,518.5C1325.5,513.7 1326.3,509.4 1327.1,506.7C1328,504 1328,502.5 1328.5,502.5Z" fill="#30f800"/><path d="M1328.5,510.8C1328.9,510.8 1328.9,512.1 1329.6,514.4C1330.2,516.7 1330.9,520.4 1332.4,524.5C1333.8,528.7 1336.8,534 1338.4,539.2C1340.1,544.3 1342,550.3 1342.2,555.4C1342.5,560.6 1341.4,566 1340.2,570.1C1339,574.2 1337.1,578 1335.1,580.3C1333.2,582.5 1330.7,583.9 1328.5,583.9C1326.3,583.9 1323.8,582.5 1321.9,580.3C1319.9,578 1318,574.2 1316.8,570.1C1315.6,566 1314.5,560.6 1314.8,555.4C1315,550.3 1316.9,544.3 1318.6,539.2C1320.2,534 1323.2,528.7 1324.6,524.5C1326.1,520.4 1326.8,516.7 1327.4,514.4C1328.1,512.1 1328.1,510.8 1328.5,510.8Z" fill="#60fc00"/><path d="M1328.5,519C1328.8,519 1328.8,520.1 1329.3,522C1329.7,524 1330.2,527.1 1331.3,530.6C1332.4,534.1 1334.5,538.6 1335.7,542.9C1336.9,547.2 1338.3,552.3 1338.5,556.6C1338.7,560.9 1337.8,565.4 1337,568.9C1336.1,572.4 1334.7,575.5 1333.3,577.5C1331.9,579.4 1330.1,580.5 1328.5,580.5C1326.9,580.5 1325.1,579.4 1323.7,577.5C1322.3,575.5 1320.9,572.4 1320,568.9C1319.2,565.4 1318.3,560.9 1318.5,556.6C1318.7,552.3 1320.1,547.2 1321.3,542.9C1322.5,538.6 1324.6,534.1 1325.7,530.6C1326.8,527.1 1327.3,524 1327.7,522C1328.2,520.1 1328.2,519 1328.5,519Z" fill="#a0ff00"/><path d="M1328.5,527.2C1328.7,527.2 1328.7,528.2 1329,529.7C1329.3,531.3 1329.6,533.8 1330.3,536.6C1330.9,539.5 1332.3,543.1 1333,546.6C1333.8,550.2 1334.6,554.2 1334.7,557.7C1334.9,561.3 1334.3,564.9 1333.8,567.7C1333.3,570.6 1332.4,573.1 1331.5,574.7C1330.6,576.2 1329.5,577.1 1328.5,577.1C1327.5,577.1 1326.4,576.2 1325.5,574.7C1324.6,573.1 1323.7,570.6 1323.2,567.7C1322.7,564.9 1322.1,561.3 1322.3,557.7C1322.4,554.2 1323.2,550.2 1324,546.6C1324.7,543.1 1326.1,539.5 1326.7,536.6C1327.4,533.8 1327.7,531.3 1328,529.7C1328.3,528.2 1328.3,527.2 1328.5,527.2Z" fill="#d8ff00"/><path d="M1328.5,534.4C1328.6,534.4 1328.6,535.1 1328.7,536.4C1328.9,537.6 1329,539.6 1329.3,541.9C1329.7,544.1 1330.3,547.1 1330.7,549.9C1331,552.7 1331.4,555.9 1331.5,558.7C1331.6,561.5 1331.3,564.5 1331,566.7C1330.8,569 1330.4,571 1329.9,572.2C1329.5,573.5 1329,574.2 1328.5,574.2C1328,574.2 1327.5,573.5 1327.1,572.2C1326.6,571 1326.2,569 1326,566.7C1325.7,564.5 1325.4,561.5 1325.5,558.7C1325.6,555.9 1326,552.7 1326.3,549.9C1326.7,547.1 1327.3,544.1 1327.7,541.9C1328,539.6 1328.1,537.6 1328.3,536.4C1328.4,535.1 1328.4,534.4 1328.5,534.4Z" fill="#f8ff00"/></g></g>
<g clip-path="url(#cr3)"><g filter="url(#fd)"><path d="M1328.5,495C1329.8,495 1331.4,496.7 1332.3,499.7C1333.3,502.7 1333.2,507.5 1334.1,512.9C1335.1,518.3 1337,525.2 1338,531.9C1339.1,538.6 1340.4,546.4 1340.5,553.1C1340.6,559.8 1339.7,566.7 1338.7,572.1C1337.6,577.5 1336,582.3 1334.3,585.3C1332.6,588.3 1330.4,590 1328.5,590C1326.6,590 1324.4,588.3 1322.7,585.3C1321,582.3 1319.4,577.5 1318.3,572.1C1317.3,566.7 1316.4,559.8 1316.5,553.1C1316.6,546.4 1317.9,538.6 1319,531.9C1320,525.2 1321.9,518.3 1322.9,512.9C1323.8,507.5 1323.7,502.7 1324.7,499.7C1325.6,496.7 1327.2,495 1328.5,495Z"/></g></g>
<g clip-path="url(#cb3)"><g filter="url(#bl05)"><path d="M1461.3,395C1462.4,395 1463.9,398 1464.6,403.3C1465.3,408.5 1464.3,417 1465.4,426.4C1466.5,435.9 1467.6,448.1 1471.3,459.9C1475,471.7 1484,485.3 1487.6,497.1C1491.2,508.9 1494.2,521.1 1493,530.6C1491.9,540 1486,548.5 1480.7,553.7C1475.4,559 1467.8,562 1461.3,562C1454.8,562 1447.2,559 1441.9,553.7C1436.6,548.5 1430.7,540 1429.6,530.6C1428.4,521.1 1431.4,508.9 1435,497.1C1438.6,485.3 1447.6,471.7 1451.3,459.9C1455,448.1 1456.1,435.9 1457.2,426.4C1458.3,417 1457.3,408.5 1458,403.3C1458.7,398 1460.2,395 1461.3,395Z" fill="#3458ff"/><path d="M1461.3,397.9C1462,397.9 1462.8,400.9 1463.3,406C1463.8,411.1 1462.9,419.4 1464,428.6C1465.2,437.8 1466.3,449.7 1470,461.2C1473.7,472.7 1482.6,486 1486.3,497.5C1489.9,509 1492.8,520.9 1491.8,530.1C1490.7,539.4 1485,547.6 1479.9,552.7C1474.8,557.9 1467.5,560.8 1461.3,560.8C1455.1,560.8 1447.8,557.9 1442.7,552.7C1437.6,547.6 1431.9,539.4 1430.8,530.1C1429.8,520.9 1432.7,509 1436.3,497.5C1440,486 1448.9,472.7 1452.6,461.2C1456.3,449.7 1457.4,437.8 1458.6,428.6C1459.7,419.4 1458.8,411.1 1459.3,406C1459.8,400.9 1460.6,397.9 1461.3,397.9Z" fill="#18a0f8"/><path d="M1461.3,401.5C1461.8,401.5 1462.4,404.4 1462.8,409.3C1463.2,414.3 1462.5,422.3 1463.5,431.2C1464.6,440.2 1465.7,451.7 1469.2,462.9C1472.8,474 1481.4,486.9 1484.9,498C1488.4,509.1 1491.2,520.7 1490.2,529.6C1489.2,538.5 1483.7,546.6 1478.9,551.5C1474.1,556.5 1467.2,559.3 1461.3,559.3C1455.4,559.3 1448.5,556.5 1443.7,551.5C1438.9,546.6 1433.4,538.5 1432.4,529.6C1431.4,520.7 1434.2,509.1 1437.7,498C1441.2,486.9 1449.8,474 1453.4,462.9C1456.9,451.7 1458,440.2 1459.1,431.2C1460.1,422.3 1459.4,414.3 1459.8,409.3C1460.2,404.4 1460.8,401.5 1461.3,401.5Z" fill="#10c0c8"/><path d="M1461.3,409.5C1461.7,409.5 1462.3,412.2 1462.6,416.8C1463,421.4 1462.3,428.8 1463.3,437.1C1464.2,445.4 1465.2,456.2 1468.3,466.5C1471.4,476.8 1479,488.8 1482,499.1C1485.1,509.4 1487.5,520.2 1486.7,528.5C1485.8,536.8 1481,544.2 1476.8,548.8C1472.6,553.4 1466.5,556.1 1461.3,556.1C1456.1,556.1 1450,553.4 1445.8,548.8C1441.6,544.2 1436.8,536.8 1435.9,528.5C1435.1,520.2 1437.5,509.4 1440.6,499.1C1443.6,488.8 1451.2,476.8 1454.3,466.5C1457.4,456.2 1458.4,445.4 1459.3,437.1C1460.3,428.8 1459.6,421.4 1460,416.8C1460.3,412.2 1460.9,409.5 1461.3,409.5Z" fill="#14bc90"/><path d="M1461.3,418.2C1461.7,418.2 1462.2,420.7 1462.4,424.9C1462.7,429.1 1462.2,435.9 1463,443.5C1463.8,451.1 1464.6,461 1467.2,470.4C1469.9,479.9 1476.3,490.8 1478.9,500.3C1481.5,509.8 1483.6,519.6 1482.9,527.2C1482.1,534.8 1478.1,541.6 1474.5,545.8C1470.9,550.1 1465.7,552.5 1461.3,552.5C1456.9,552.5 1451.7,550.1 1448.1,545.8C1444.5,541.6 1440.5,534.8 1439.7,527.2C1439,519.6 1441.1,509.8 1443.7,500.3C1446.3,490.8 1452.7,479.9 1455.4,470.4C1458,461 1458.8,451.1 1459.6,443.5C1460.4,435.9 1459.9,429.1 1460.2,424.9C1460.4,420.7 1460.9,418.2 1461.3,418.2Z" fill="#2cac68"/><path d="M1461.3,427.7C1461.6,427.7 1462,429.9 1462.2,433.7C1462.4,437.5 1462,443.6 1462.7,450.4C1463.3,457.3 1463.9,466.2 1466.1,474.7C1468.3,483.2 1473.4,493.1 1475.6,501.6C1477.7,510.1 1479.3,519 1478.7,525.9C1478.1,532.7 1474.9,538.8 1472,542.6C1469,546.4 1464.9,548.6 1461.3,548.6C1457.7,548.6 1453.6,546.4 1450.6,542.6C1447.7,538.8 1444.5,532.7 1443.9,525.9C1443.3,519 1444.9,510.1 1447,501.6C1449.2,493.1 1454.3,483.2 1456.5,474.7C1458.7,466.2 1459.3,457.3 1459.9,450.4C1460.6,443.6 1460.2,437.5 1460.4,433.7C1460.6,429.9 1461,427.7 1461.3,427.7Z" fill="#4ea468"/><path d="M1461.3,438.6C1461.5,438.6 1461.8,440.5 1462,443.8C1462.1,447.1 1461.8,452.5 1462.3,458.4C1462.8,464.4 1463.2,472.2 1464.8,479.6C1466.4,487.1 1470.1,495.7 1471.7,503.1C1473.2,510.6 1474.4,518.3 1474,524.3C1473.6,530.3 1471.2,535.6 1469,539C1466.9,542.3 1463.9,544.2 1461.3,544.2C1458.7,544.2 1455.7,542.3 1453.6,539C1451.4,535.6 1449,530.3 1448.6,524.3C1448.2,518.3 1449.4,510.6 1450.9,503.1C1452.5,495.7 1456.2,487.1 1457.8,479.6C1459.4,472.2 1459.8,464.4 1460.3,458.4C1460.8,452.5 1460.5,447.1 1460.6,443.8C1460.8,440.5 1461.1,438.6 1461.3,438.6Z" fill="#789e74"/><path d="M1461.3,451.6C1461.4,451.6 1461.6,453.2 1461.7,455.9C1461.8,458.7 1461.6,463.1 1461.8,468C1462.1,473 1462.4,479.4 1463.2,485.5C1464.1,491.7 1466.2,498.8 1467,504.9C1467.8,511.1 1468.5,517.5 1468.3,522.4C1468,527.3 1466.7,531.8 1465.6,534.5C1464.4,537.3 1462.7,538.8 1461.3,538.8C1459.9,538.8 1458.2,537.3 1457,534.5C1455.9,531.8 1454.6,527.3 1454.3,522.4C1454.1,517.5 1454.8,511.1 1455.6,504.9C1456.4,498.8 1458.5,491.7 1459.4,485.5C1460.2,479.4 1460.5,473 1460.8,468C1461,463.1 1460.8,458.7 1460.9,455.9C1461,453.2 1461.2,451.6 1461.3,451.6Z" fill="#8e9880"/></g></g>
<path class="w" d="M1105.5,42 L1328.5,64 L1461.3,26.5 M1105.5,723.3 L1328.5,745 L1461.3,708 M1105.5,42 L1105.5,723.3 M1461.3,26.5 L1461.3,708 M1328.5,64 L1328.5,745"/>
</g>
<g id="bot1">
<clipPath id="bc0"><polygon points="5.6,802.5 137,766 358.2,788 358.2,1464 292,1481 182,1472 115,1490 5.6,1479"/></clipPath>
<path class="w" d="M137,766 L137,1441"/>
<mask id="bm0" maskUnits="userSpaceOnUse" x="-4.4" y="756" width="372.6" height="744">
<rect x="-4.4" y="756" width="372.6" height="744" fill="#fff"/>
<path d="M-13.8,1197.6C-10.4,1197.6 0.8,1199.2 6.9,1197.6C13.1,1196.1 18.5,1194.9 23.1,1188.4C27.7,1181.9 30.8,1166.5 34.6,1158.4C38.4,1150.3 40.4,1143.6 46.1,1140C51.9,1136.3 59.6,1136.9 69.2,1136.5C78.8,1136.1 96.1,1136.7 103.8,1137.7C111.5,1138.6 111.5,1139.2 115.3,1142.3C119.2,1145.3 123,1153 126.9,1156.1C130.7,1159.2 134.2,1160.3 138.4,1160.7C142.6,1161.1 148.4,1160.7 152.2,1158.4C156.1,1156.1 156.9,1150.3 161.5,1146.9C166.1,1143.4 174.2,1138.6 179.9,1137.7C185.7,1136.7 187.6,1140.7 196.1,1141.1C204.5,1141.5 217.2,1139.4 230.7,1140C244.1,1140.5 265.3,1142.7 276.8,1144.6C288.4,1146.5 292.2,1148.8 299.9,1151.5C307.6,1154.2 316,1156.9 323,1160.7C329.9,1164.6 336,1171.5 341.4,1174.6C346.8,1177.6 348.3,1178.4 355.2,1179.2C362.2,1180 378.3,1179.2 382.9,1179.2L382.9,1227.6C378.5,1227.6 362.6,1228 356.4,1227.6C350.2,1227.2 349.7,1224.9 346,1225.3C342.4,1225.7 338.3,1226.5 334.5,1229.9C330.6,1233.4 326.8,1242.6 323,1246.1C319.1,1249.5 317.2,1251.5 311.4,1250.7C305.7,1249.9 298,1242.4 288.4,1241.5C278.7,1240.5 263.4,1243.8 253.7,1244.9C244.1,1246.1 238.4,1248.6 230.7,1248.4C223,1248.2 214.1,1245.7 207.6,1243.8C201.1,1241.8 195.7,1239.9 191.5,1236.9C187.2,1233.8 183.4,1229.5 182.2,1225.3C181.1,1221.1 183.8,1216.9 184.5,1211.5C185.3,1206.1 188,1198.8 186.9,1193C185.7,1187.3 181.9,1180.7 177.6,1176.9C173.4,1173 167.2,1170.3 161.5,1170C155.7,1169.6 148,1173 143,1174.6C138,1176.1 134.9,1176.9 131.5,1179.2C128,1181.5 125,1185.3 122.3,1188.4C119.6,1191.5 117.3,1197.6 115.3,1197.6C113.4,1197.6 115.3,1190.3 110.7,1188.4C106.1,1186.5 95,1185.7 87.7,1186.1C80.4,1186.5 71.5,1186.9 66.9,1190.7C62.3,1194.6 62.7,1202.2 60,1209.2C57.3,1216.1 53.6,1225.3 50.7,1232.2C47.9,1239.2 45.4,1248.6 42.7,1250.7C40,1252.8 37.9,1247 34.6,1244.9C31.3,1242.8 27.7,1239.4 23.1,1238C18.5,1236.7 13.1,1237 6.9,1236.9C0.8,1236.7 -10.4,1236.9 -13.8,1236.9Z" fill="#000" filter="url(#bl3)"/>
<path d="M-13.8,1188.6C-10.4,1188.6 0.8,1190.2 6.9,1188.6C13.1,1187.1 18.5,1185.9 23.1,1179.4C27.7,1172.9 30.8,1157.5 34.6,1149.4C38.4,1141.3 40.4,1134.6 46.1,1131C51.9,1127.3 59.6,1127.9 69.2,1127.5C78.8,1127.1 96.1,1127.7 103.8,1128.7C111.5,1129.6 111.5,1130.2 115.3,1133.3C119.2,1136.3 123,1144 126.9,1147.1C130.7,1150.2 134.2,1151.3 138.4,1151.7C142.6,1152.1 148.4,1151.7 152.2,1149.4C156.1,1147.1 156.9,1141.3 161.5,1137.9C166.1,1134.4 174.2,1129.6 179.9,1128.7C185.7,1127.7 187.6,1131.7 196.1,1132.1C204.5,1132.5 217.2,1130.4 230.7,1131C244.1,1131.5 265.3,1133.7 276.8,1135.6C288.4,1137.5 292.2,1139.8 299.9,1142.5C307.6,1145.2 316,1147.9 323,1151.7C329.9,1155.6 336,1162.5 341.4,1165.6C346.8,1168.6 348.3,1169.4 355.2,1170.2C362.2,1171 378.3,1170.2 382.9,1170.2L382.9,1234.6C378.5,1234.6 362.6,1235 356.4,1234.6C350.2,1234.2 349.7,1231.9 346,1232.3C342.4,1232.7 338.3,1233.5 334.5,1236.9C330.6,1240.4 326.8,1249.6 323,1253.1C319.1,1256.5 317.2,1258.5 311.4,1257.7C305.7,1256.9 298,1249.4 288.4,1248.5C278.7,1247.5 263.4,1250.8 253.7,1251.9C244.1,1253.1 238.4,1255.6 230.7,1255.4C223,1255.2 214.1,1252.7 207.6,1250.8C201.1,1248.8 195.7,1246.9 191.5,1243.9C187.2,1240.8 183.4,1236.5 182.2,1232.3C181.1,1228.1 183.8,1223.9 184.5,1218.5C185.3,1213.1 188,1205.8 186.9,1200C185.7,1194.3 181.9,1187.7 177.6,1183.9C173.4,1180 167.2,1177.3 161.5,1177C155.7,1176.6 148,1180 143,1181.6C138,1183.1 134.9,1183.9 131.5,1186.2C128,1188.5 125,1192.3 122.3,1195.4C119.6,1198.5 117.3,1204.6 115.3,1204.6C113.4,1204.6 115.3,1197.3 110.7,1195.4C106.1,1193.5 95,1192.7 87.7,1193.1C80.4,1193.5 71.5,1193.9 66.9,1197.7C62.3,1201.6 62.7,1209.2 60,1216.2C57.3,1223.1 53.6,1232.3 50.7,1239.2C47.9,1246.2 45.4,1255.6 42.7,1257.7C40,1259.8 37.9,1254 34.6,1251.9C31.3,1249.8 27.7,1246.4 23.1,1245C18.5,1243.7 13.1,1244 6.9,1243.9C0.8,1243.7 -10.4,1243.9 -13.8,1243.9Z" fill="#000" filter="url(#bl7)" opacity="0.4"/>
<ellipse cx="112.3" cy="1227.6" rx="5" ry="8" fill="#000" filter="url(#bl2)"/>
<rect x="4.6" y="800.5" width="17" height="680.5" fill="url(#efl)"/>
<rect x="342.2" y="786" width="17" height="680" fill="url(#efr)"/>
<path d="M5.6,1479 L115,1490 L182,1472 L292,1481 L358.2,1464" stroke="#000" stroke-width="5" stroke-opacity="0.5" fill="none" filter="url(#bl2)"/>
<path d="M13.6,801.5 L117,772.5" stroke="#000" stroke-width="5" stroke-opacity="0.4" fill="none" filter="url(#bl2)"/>
<path d="M227,777 L346.2,789.5" stroke="#000" stroke-width="4" stroke-opacity="0.3" fill="none" filter="url(#bl2)"/>
</mask>
<g mask="url(#bm0)"><polygon points="5.6,802.5 137,766 358.2,788 358.2,1464 292,1481 182,1472 115,1490 5.6,1479" fill="#0b36fe"/>
<path d="M137,766 L137,1441 M5.6,1479 L137,1441 L358.2,1464" stroke="#0018d8" stroke-width="1.6" stroke-opacity="0.45" fill="none"/>
</g>
<g clip-path="url(#bc0)">
<ellipse cx="88.8" cy="1204.6" rx="23.1" ry="17.3" fill="#0b74f4" filter="url(#bl4)" opacity="0.75"/>
<ellipse cx="88.8" cy="1191.2" rx="19.6" ry="3.2" fill="#0a8cf2" filter="url(#bl1)" opacity="0.8"/>
<ellipse cx="149.9" cy="1197.6" rx="27.7" ry="20.8" fill="#0b74f4" filter="url(#bl4)" opacity="0.55"/>
<ellipse cx="149.9" cy="1258.8" rx="26.5" ry="5.1" fill="#0a8cf2" filter="url(#bl2)" opacity="0.75"/>
<ellipse cx="143" cy="1149.2" rx="10.4" ry="9.2" fill="#0b74f4" filter="url(#bl3)" opacity="0.6"/>
<ellipse cx="8" cy="1176" rx="14" ry="14" fill="url(#hc)"/>
<ellipse cx="8" cy="1249" rx="17" ry="11" fill="url(#hg)"/>
<ellipse cx="356" cy="1168" rx="9" ry="14" fill="url(#hc)"/>
<ellipse cx="356" cy="1235" rx="10" ry="8" fill="url(#hg)"/>
<ellipse cx="320" cy="1000" rx="5" ry="12" fill="url(#hc2)"/>
<ellipse cx="321" cy="1056" rx="6" ry="8" fill="url(#hc2)"/>
</g>
<path class="w" d="M5.6,802.5 L137,766 L358.2,788 L292,805.5 L182,796 L115.2,813.3 Z M5.6,1479 L115,1490 L182,1472 L292,1481 L358.2,1464 M5.6,802.5 L5.6,1479 M358.2,788 L358.2,1464 M115.2,813.3 L115,1490 M182,796 L182,1472 M292,805.5 L292,1481"/>
</g>
<g id="bot2">
<clipPath id="bc1"><polygon points="370.3,802 503.6,763.4 726.7,787.4 726.7,1468.5 660.5,1485 548,1475.5 482.5,1493 370.3,1483.5"/></clipPath>
<path class="w" d="M503.6,763.4 L503.6,1445"/>
<mask id="bm1" maskUnits="userSpaceOnUse" x="360.3" y="753.4" width="376.4" height="749.6">
<rect x="360.3" y="753.4" width="376.4" height="749.6" fill="#fff"/>
<path d="M350.3,1199.7C354,1199.7 366.2,1199.3 372.4,1199.7C378.5,1200.1 383,1204.6 387.1,1202.2C391.1,1199.7 394.4,1189.9 396.9,1185C399.3,1180.1 400.1,1178.9 401.8,1172.8C403.4,1166.6 404.2,1154 406.7,1148.3C409.1,1142.5 411.1,1139.7 416.5,1138.5C421.8,1137.2 429.9,1140.1 438.5,1140.9C447.1,1141.7 461,1144.6 467.9,1143.4C474.8,1142.1 476.5,1134.8 480.2,1133.6C483.8,1132.3 487.5,1130.7 490,1136C492.4,1141.3 490.4,1160.5 494.9,1165.4C499.3,1170.3 511.6,1170.3 516.9,1165.4C522.2,1160.5 524.3,1143.8 526.7,1136C529.2,1128.2 527.9,1123.8 531.6,1118.9C535.3,1114 543.9,1107.8 548.8,1106.6C553.7,1105.4 554.9,1107.8 561,1111.5C567.1,1115.2 577.3,1122.1 585.5,1128.7C593.7,1135.2 601.8,1146.6 610,1150.7C618.2,1154.8 626.3,1154 634.5,1153.2C642.7,1152.3 653.3,1149.1 659,1145.8C664.7,1142.5 664.7,1134.4 668.8,1133.6C672.9,1132.7 677.8,1134.4 683.5,1140.9C689.2,1147.4 697.8,1165 703.1,1172.8C708.4,1180.5 711.7,1187 715.4,1187.5C719,1187.9 719.8,1177.2 725.2,1175.2C730.5,1173.2 743.5,1175.2 747.2,1175.2L747.2,1251.2C743.5,1251.2 731.7,1252 725.2,1251.2C718.6,1250.3 711.7,1246.3 708,1246.3C704.3,1246.3 706,1245.8 703.1,1251.2C700.2,1256.5 698.2,1273.6 690.9,1278.1C683.5,1282.6 668.4,1280.1 659,1278.1C649.6,1276.1 640.6,1267.5 634.5,1265.9C628.4,1264.2 626.3,1265.4 622.3,1268.3C618.2,1271.2 614.1,1277.3 610,1283C605.9,1288.7 603.9,1300.6 597.8,1302.6C591.6,1304.6 579.4,1298.5 573.3,1295.3C567.1,1292 565.1,1286.3 561,1283C556.9,1279.7 552,1278.5 548.8,1275.7C545.5,1272.8 544.3,1272.8 541.4,1265.9C538.5,1258.9 536.5,1240.9 531.6,1234C526.7,1227.1 519.4,1225.4 512,1224.2C504.7,1223 492.8,1229.1 487.5,1226.7C482.2,1224.2 485.5,1212.4 480.2,1209.5C474.8,1206.6 463.8,1208.3 455.7,1209.5C447.5,1210.7 435.2,1211.5 431.2,1216.9C427.1,1222.2 433.2,1234.8 431.2,1241.4C429.1,1247.9 422.6,1248.3 418.9,1256.1C415.2,1263.8 412.8,1287.1 409.1,1287.9C405.4,1288.7 403,1265.9 396.9,1261C390.7,1256.1 380.1,1258.9 372.4,1258.5C364.6,1258.1 354,1258.5 350.3,1258.5Z" fill="#000" filter="url(#bl3)"/>
<path d="M350.3,1190.7C354,1190.7 366.2,1190.3 372.4,1190.7C378.5,1191.1 383,1195.6 387.1,1193.2C391.1,1190.7 394.4,1180.9 396.9,1176C399.3,1171.1 400.1,1169.9 401.8,1163.8C403.4,1157.6 404.2,1145 406.7,1139.3C409.1,1133.5 411.1,1130.7 416.5,1129.5C421.8,1128.2 429.9,1131.1 438.5,1131.9C447.1,1132.7 461,1135.6 467.9,1134.4C474.8,1133.1 476.5,1125.8 480.2,1124.6C483.8,1123.3 487.5,1121.7 490,1127C492.4,1132.3 490.4,1151.5 494.9,1156.4C499.3,1161.3 511.6,1161.3 516.9,1156.4C522.2,1151.5 524.3,1134.8 526.7,1127C529.2,1119.2 527.9,1114.8 531.6,1109.9C535.3,1105 543.9,1098.8 548.8,1097.6C553.7,1096.4 554.9,1098.8 561,1102.5C567.1,1106.2 577.3,1113.1 585.5,1119.7C593.7,1126.2 601.8,1137.6 610,1141.7C618.2,1145.8 626.3,1145 634.5,1144.2C642.7,1143.3 653.3,1140.1 659,1136.8C664.7,1133.5 664.7,1125.4 668.8,1124.6C672.9,1123.7 677.8,1125.4 683.5,1131.9C689.2,1138.4 697.8,1156 703.1,1163.8C708.4,1171.5 711.7,1178 715.4,1178.5C719,1178.9 719.8,1168.2 725.2,1166.2C730.5,1164.2 743.5,1166.2 747.2,1166.2L747.2,1258.2C743.5,1258.2 731.7,1259 725.2,1258.2C718.6,1257.3 711.7,1253.3 708,1253.3C704.3,1253.3 706,1252.8 703.1,1258.2C700.2,1263.5 698.2,1280.6 690.9,1285.1C683.5,1289.6 668.4,1287.1 659,1285.1C649.6,1283.1 640.6,1274.5 634.5,1272.9C628.4,1271.2 626.3,1272.4 622.3,1275.3C618.2,1278.2 614.1,1284.3 610,1290C605.9,1295.7 603.9,1307.6 597.8,1309.6C591.6,1311.6 579.4,1305.5 573.3,1302.3C567.1,1299 565.1,1293.3 561,1290C556.9,1286.7 552,1285.5 548.8,1282.7C545.5,1279.8 544.3,1279.8 541.4,1272.9C538.5,1265.9 536.5,1247.9 531.6,1241C526.7,1234.1 519.4,1232.4 512,1231.2C504.7,1230 492.8,1236.1 487.5,1233.7C482.2,1231.2 485.5,1219.4 480.2,1216.5C474.8,1213.6 463.8,1215.3 455.7,1216.5C447.5,1217.7 435.2,1218.5 431.2,1223.9C427.1,1229.2 433.2,1241.8 431.2,1248.4C429.1,1254.9 422.6,1255.3 418.9,1263.1C415.2,1270.8 412.8,1294.1 409.1,1294.9C405.4,1295.7 403,1272.9 396.9,1268C390.7,1263.1 380.1,1265.9 372.4,1265.5C364.6,1265.1 354,1265.5 350.3,1265.5Z" fill="#000" filter="url(#bl7)" opacity="0.4"/>
<ellipse cx="469.1" cy="1263.4" rx="13.5" ry="9.8" fill="#000" filter="url(#bl2)"/>
<path d="M360.1,964.5C365,954.7 382.6,964.1 389.5,969.4C396.4,974.7 401.8,987.4 401.8,996.4C401.8,1005.3 396.4,1018 389.5,1023.3C382.6,1028.6 365,1038 360.1,1028.2C355.2,1018.4 355.2,974.3 360.1,964.5Z" fill="#000" filter="url(#bl7)" opacity="0.6"/>
<path d="M666.4,1042.9C666.4,1037.6 676.6,1031.5 683.5,1025.8C690.4,1020 699.8,1012.7 708,1008.6C716.2,1004.5 728.4,993.1 732.5,1001.3C736.6,1009.4 736.6,1047.4 732.5,1057.6C728.4,1067.8 716.2,1062.5 708,1062.5C699.8,1062.5 690.4,1060.9 683.5,1057.6C676.6,1054.3 666.4,1048.2 666.4,1042.9Z" fill="#000" filter="url(#bl7)" opacity="0.55"/>
<path d="M671.3,1111.5C671.3,1107 685.5,1101.7 695.8,1099.3C706,1096.8 726.4,1092.3 732.5,1096.8C738.6,1101.3 738.6,1121.3 732.5,1126.2C726.4,1131.1 706,1128.7 695.8,1126.2C685.5,1123.8 671.3,1116 671.3,1111.5Z" fill="#000" filter="url(#bl7)" opacity="0.25"/>
<rect x="369.3" y="800" width="17" height="685.5" fill="url(#efl)"/>
<rect x="710.7" y="785.4" width="17" height="685.1" fill="url(#efr)"/>
<path d="M370.3,1483.5 L482.5,1493 L548,1475.5 L660.5,1485 L726.7,1468.5" stroke="#000" stroke-width="5" stroke-opacity="0.5" fill="none" filter="url(#bl2)"/>
<path d="M378.3,801 L483.6,769.9" stroke="#000" stroke-width="5" stroke-opacity="0.4" fill="none" filter="url(#bl2)"/>
<path d="M593.6,774.4 L714.7,788.9" stroke="#000" stroke-width="4" stroke-opacity="0.3" fill="none" filter="url(#bl2)"/>
</mask>
<g mask="url(#bm1)"><polygon points="370.3,802 503.6,763.4 726.7,787.4 726.7,1468.5 660.5,1485 548,1475.5 482.5,1493 370.3,1483.5" fill="#0b36fe"/>
<path d="M503.6,763.4 L503.6,1445 M370.3,1483.5 L503.6,1445 L726.7,1468.5" stroke="#0018d8" stroke-width="1.6" stroke-opacity="0.45" fill="none"/>
</g>
<g clip-path="url(#bc1)">
<path d="M487.5,1209.5C488.3,1204.2 493.2,1194.6 497.3,1189.9C501.4,1185.2 506.3,1182.1 512,1181.3C517.7,1180.5 526.3,1181.9 531.6,1185C536.9,1188.1 541.4,1194.4 543.9,1199.7C546.3,1205 546.7,1212.4 546.3,1216.9C545.9,1221.3 543.9,1225.8 541.4,1226.7C539,1227.5 535.7,1223.4 531.6,1221.8C527.5,1220.1 521.8,1217.3 516.9,1216.9C512,1216.4 506.3,1218.5 502.2,1219.3C498.1,1220.1 494.9,1223.4 492.4,1221.8C490,1220.1 486.7,1214.8 487.5,1209.5Z" fill="url(#bb)" filter="url(#bl2)"/>
<path d="M480.2,1209.5C482.2,1206.6 489.5,1204.2 492.4,1204.6C495.3,1205 498.1,1208.7 497.3,1212C496.5,1215.2 490.4,1222.6 487.5,1224.2C484.6,1225.8 481.4,1224.2 480.2,1221.8C478.9,1219.3 478.1,1212.4 480.2,1209.5Z" fill="#0b36fe" filter="url(#bl2)"/>
<ellipse cx="455.7" cy="1226.7" rx="23.3" ry="17.2" fill="#0b74f4" filter="url(#bl4)" opacity="0.7"/>
<ellipse cx="455.7" cy="1214.9" rx="20.8" ry="3.4" fill="#0a8cf2" filter="url(#bl1)" opacity="0.8"/>
<ellipse cx="512" cy="1248.7" rx="22.1" ry="22.1" fill="#0b74f4" filter="url(#bl4)" opacity="0.7"/>
<ellipse cx="512" cy="1230.3" rx="19.6" ry="3.2" fill="#0a8cf2" filter="url(#bl1)" opacity="0.8"/>
<ellipse cx="514.5" cy="1279.3" rx="29.4" ry="4.9" fill="#0a8cf2" filter="url(#bl2)" opacity="0.75"/>
<ellipse cx="508.3" cy="1145.8" rx="15.9" ry="20.8" fill="#0b74f4" filter="url(#bl4)" opacity="0.7"/>
<ellipse cx="372" cy="1180" rx="14" ry="17" fill="url(#hg)"/>
<ellipse cx="372" cy="1272" rx="17" ry="11" fill="url(#hg)"/>
<ellipse cx="725" cy="1165" rx="10" ry="18" fill="url(#hg)"/>
<ellipse cx="724" cy="1257" rx="14" ry="10" fill="url(#hg)"/>
<ellipse cx="687" cy="1012" rx="6" ry="12" fill="url(#hc2)"/>
<ellipse cx="688" cy="1074" rx="9" ry="10" fill="url(#hc)"/>
</g>
<path class="w" d="M370.3,802 L503.6,763.4 L726.7,787.4 L660.5,804.7 L548,795 L482.5,812.7 Z M370.3,1483.5 L482.5,1493 L548,1475.5 L660.5,1485 L726.7,1468.5 M370.3,802 L370.3,1483.5 M726.7,787.4 L726.7,1468.5 M482.5,812.7 L482.5,1493 M548,795 L548,1475.5 M660.5,804.7 L660.5,1485"/>
</g>
<g id="bot3">
<clipPath id="bc2"><polygon points="737.7,802 871,763.4 1094,787.4 1094,1468.5 1028,1485 915.5,1475.5 849.5,1493 737.7,1483.5"/></clipPath>
<path class="w" d="M871,763.4 L871,1445"/>
<mask id="bm2" maskUnits="userSpaceOnUse" x="727.7" y="753.4" width="376.3" height="749.6">
<rect x="727.7" y="753.4" width="376.3" height="749.6" fill="#fff"/>
<path d="M717.3,981.7C721,981.7 732.8,981.2 739.4,981.7C745.9,982.1 749.6,982.9 756.5,984.1C763.4,985.3 772.8,987.8 781,989C789.2,990.2 799.4,989 805.5,991.5C811.6,993.9 813.7,999.2 817.8,1003.7C821.8,1008.2 825.1,1016.4 830,1018.4C834.9,1020.4 843.1,1018 847.2,1016C851.2,1013.9 850.8,1009.4 854.5,1006.2C858.2,1002.9 863.1,998.4 869.2,996.4C875.3,994.3 885.5,993.1 891.3,993.9C897,994.7 898.6,999.6 903.5,1001.3C908.4,1002.9 915.3,1004.9 920.7,1003.7C926,1002.5 930,997.2 935.4,993.9C940.7,990.6 945.6,984.9 952.5,984.1C959.4,983.3 968.8,985.7 977,989C985.2,992.3 992.9,997.6 1001.5,1003.7C1010.1,1009.8 1020.3,1019.2 1028.5,1025.8C1036.6,1032.3 1044.8,1042.9 1050.5,1042.9C1056.2,1042.9 1058.7,1032.7 1062.8,1025.8C1066.8,1018.8 1070.9,1009.4 1075,1001.3C1079.1,993.1 1084.2,982.9 1087.3,976.8C1090.3,970.6 1088.9,967.4 1093.4,964.5C1097.9,961.6 1110.7,960.4 1114.2,959.6L1114.9,1320.7C1111.1,1320.7 1099.2,1320.7 1091.9,1320.7C1084.6,1320.7 1077.3,1320.7 1071.1,1320.7C1064.9,1320.7 1061.5,1320.4 1055,1320.7C1048.4,1321.1 1037.3,1320.4 1031.9,1323C1026.5,1325.7 1026.5,1331.1 1022.7,1336.9C1018.8,1342.7 1015,1351.5 1008.8,1357.6C1002.7,1363.8 993.4,1371.1 985.7,1373.8C978.1,1376.5 970.4,1375.3 962.7,1373.8C955,1372.3 945,1367.6 939.6,1364.6C934.2,1361.5 930.4,1356.9 930.4,1355.3C930.4,1353.8 936.9,1356.5 939.6,1355.3C942.3,1354.2 946.5,1351.1 946.5,1348.4C946.5,1345.7 942.7,1343 939.6,1339.2C936.5,1335.3 930.4,1330.3 928.1,1325.4C925.8,1320.4 927.7,1312.5 925.8,1309.2C923.8,1305.9 921.9,1305.7 916.5,1305.7C911.2,1305.7 901.2,1309 893.5,1309.2C885.8,1309.4 877.7,1308.1 870.4,1306.9C863.1,1305.7 855.4,1303.2 849.6,1302.3C843.9,1301.3 839.3,1300.4 835.8,1301.1C832.3,1301.9 831.6,1304.4 828.9,1306.9C826.2,1309.4 823.1,1315.4 819.7,1316.1C816.2,1316.9 812,1313.8 808.1,1311.5C804.3,1309.2 800.4,1302.7 796.6,1302.3C792.7,1301.9 788.1,1304.2 785.1,1309.2C782,1314.2 780.8,1326.5 778.1,1332.3C775.4,1338 772.4,1343.8 768.9,1343.8C765.4,1343.8 761.2,1336.5 757.4,1332.3C753.5,1328 748.9,1321.1 745.8,1318.4C742.8,1315.7 743.5,1316.5 738.9,1316.1C734.3,1315.7 721.6,1316.1 718.2,1316.1Z" fill="#000" filter="url(#bl3)"/>
<path d="M717.3,972.7C721,972.7 732.8,972.2 739.4,972.7C745.9,973.1 749.6,973.9 756.5,975.1C763.4,976.3 772.8,978.8 781,980C789.2,981.2 799.4,980 805.5,982.5C811.6,984.9 813.7,990.2 817.8,994.7C821.8,999.2 825.1,1007.4 830,1009.4C834.9,1011.4 843.1,1009 847.2,1007C851.2,1004.9 850.8,1000.4 854.5,997.2C858.2,993.9 863.1,989.4 869.2,987.4C875.3,985.3 885.5,984.1 891.3,984.9C897,985.7 898.6,990.6 903.5,992.3C908.4,993.9 915.3,995.9 920.7,994.7C926,993.5 930,988.2 935.4,984.9C940.7,981.6 945.6,975.9 952.5,975.1C959.4,974.3 968.8,976.7 977,980C985.2,983.3 992.9,988.6 1001.5,994.7C1010.1,1000.8 1020.3,1010.2 1028.5,1016.8C1036.6,1023.3 1044.8,1033.9 1050.5,1033.9C1056.2,1033.9 1058.7,1023.7 1062.8,1016.8C1066.8,1009.8 1070.9,1000.4 1075,992.3C1079.1,984.1 1084.2,973.9 1087.3,967.8C1090.3,961.6 1088.9,958.4 1093.4,955.5C1097.9,952.6 1110.7,951.4 1114.2,950.6L1114.9,1327.7C1111.1,1327.7 1099.2,1327.7 1091.9,1327.7C1084.6,1327.7 1077.3,1327.7 1071.1,1327.7C1064.9,1327.7 1061.5,1327.4 1055,1327.7C1048.4,1328.1 1037.3,1327.4 1031.9,1330C1026.5,1332.7 1026.5,1338.1 1022.7,1343.9C1018.8,1349.7 1015,1358.5 1008.8,1364.6C1002.7,1370.8 993.4,1378.1 985.7,1380.8C978.1,1383.5 970.4,1382.3 962.7,1380.8C955,1379.3 945,1374.6 939.6,1371.6C934.2,1368.5 930.4,1363.9 930.4,1362.3C930.4,1360.8 936.9,1363.5 939.6,1362.3C942.3,1361.2 946.5,1358.1 946.5,1355.4C946.5,1352.7 942.7,1350 939.6,1346.2C936.5,1342.3 930.4,1337.3 928.1,1332.4C925.8,1327.4 927.7,1319.5 925.8,1316.2C923.8,1312.9 921.9,1312.7 916.5,1312.7C911.2,1312.7 901.2,1316 893.5,1316.2C885.8,1316.4 877.7,1315.1 870.4,1313.9C863.1,1312.7 855.4,1310.2 849.6,1309.3C843.9,1308.3 839.3,1307.4 835.8,1308.1C832.3,1308.9 831.6,1311.4 828.9,1313.9C826.2,1316.4 823.1,1322.4 819.7,1323.1C816.2,1323.9 812,1320.8 808.1,1318.5C804.3,1316.2 800.4,1309.7 796.6,1309.3C792.7,1308.9 788.1,1311.2 785.1,1316.2C782,1321.2 780.8,1333.5 778.1,1339.3C775.4,1345 772.4,1350.8 768.9,1350.8C765.4,1350.8 761.2,1343.5 757.4,1339.3C753.5,1335 748.9,1328.1 745.8,1325.4C742.8,1322.7 743.5,1323.5 738.9,1323.1C734.3,1322.7 721.6,1323.1 718.2,1323.1Z" fill="#000" filter="url(#bl7)" opacity="0.4"/>
<path d="M940.3,976.8C942.3,970.6 954.5,964.5 964.8,964.5C975,964.5 990.5,970.2 1001.5,976.8C1012.5,983.3 1026.8,995.1 1030.9,1003.7C1035,1012.3 1032.9,1026.6 1026,1028.2C1019.1,1029.8 1001.5,1018 989.3,1013.5C977,1009 960.7,1007.4 952.5,1001.3C944.3,995.1 938.2,982.9 940.3,976.8Z" fill="#000" filter="url(#bl7)" opacity="0.5"/>
<rect x="736.7" y="800" width="17" height="685.5" fill="url(#efl)"/>
<rect x="1078" y="785.4" width="17" height="685.1" fill="url(#efr)"/>
<path d="M737.7,1483.5 L849.5,1493 L915.5,1475.5 L1028,1485 L1094,1468.5" stroke="#000" stroke-width="5" stroke-opacity="0.5" fill="none" filter="url(#bl2)"/>
<path d="M745.7,801 L851,769.9" stroke="#000" stroke-width="5" stroke-opacity="0.4" fill="none" filter="url(#bl2)"/>
<path d="M961,774.4 L1082,788.9" stroke="#000" stroke-width="4" stroke-opacity="0.3" fill="none" filter="url(#bl2)"/>
</mask>
<g mask="url(#bm2)"><polygon points="737.7,802 871,763.4 1094,787.4 1094,1468.5 1028,1485 915.5,1475.5 849.5,1493 737.7,1483.5" fill="#0b36fe"/>
<path d="M871,763.4 L871,1445 M737.7,1483.5 L871,1445 L1094,1468.5" stroke="#0018d8" stroke-width="1.6" stroke-opacity="0.45" fill="none"/>
</g>
<g clip-path="url(#bc2)">
<path d="M756.5,1045.4C758.1,1046.2 759.8,1065 763.9,1067.4C767.9,1069.9 775.3,1063.3 781,1060.1C786.7,1056.8 794.1,1052.3 798.2,1047.8C802.2,1043.3 800.2,1037.2 805.5,1033.1C810.8,1029 822.7,1023.7 830,1023.3C837.4,1022.9 843.9,1026.2 849.6,1030.7C855.3,1035.1 859.8,1042.9 864.3,1050.3C868.8,1057.6 874.5,1067 876.6,1074.8C878.6,1082.5 879.4,1090.7 876.6,1096.8C873.7,1102.9 865.1,1106.2 859.4,1111.5C853.7,1116.8 847.2,1124.2 842.3,1128.7C837.4,1133.1 836.1,1138 830,1138.5C823.9,1138.9 811.6,1134 805.5,1131.1C799.4,1128.2 799.4,1122.5 793.3,1121.3C787.1,1120.1 775.7,1125.8 768.8,1123.8C761.8,1121.7 754.9,1115.2 751.6,1109.1C748.3,1102.9 748.7,1094.8 749.2,1087C749.6,1079.2 752.8,1069.4 754.1,1062.5C755.3,1055.6 754.9,1044.5 756.5,1045.4Z" fill="#0b36fe" filter="url(#bl3)"/>
<ellipse cx="789.6" cy="1023.8" rx="13.5" ry="6.9" fill="url(#bb)" filter="url(#bl2)"/>
<path d="M854.5,1023.3C855.3,1022.9 860.2,1029.5 864.3,1030.7C868.4,1031.8 874.9,1030 879,1030.2C883.1,1030.4 888,1030.6 888.8,1031.9C889.6,1033.2 887.2,1037 883.9,1038C880.6,1039 873.3,1038.8 869.2,1038C865.1,1037.2 861.9,1035.6 859.4,1033.1C857,1030.7 853.7,1023.7 854.5,1023.3Z" fill="url(#bb)" filter="url(#bl1)"/>
<path d="M888.8,1042.9C889.2,1038.6 892.9,1037.9 898.6,1036.8C904.3,1035.6 917,1034.6 923.1,1036C929.2,1037.5 934.1,1041.3 935.4,1045.4C936.6,1049.4 934.1,1056.4 930.5,1060.1C926.8,1063.7 919,1067 913.3,1067.4C907.6,1067.8 900.2,1066.6 896.2,1062.5C892.1,1058.4 888.4,1047.2 888.8,1042.9Z" fill="url(#bb)" filter="url(#bl2)"/>
<path d="M967.2,1087C967.6,1080.5 971.3,1075.2 977,1072.3C982.7,1069.4 993.3,1069 1001.5,1069.9C1009.7,1070.7 1020.7,1072.7 1026,1077.2C1031.3,1081.7 1029.3,1094.4 1033.4,1096.8C1037.4,1099.3 1044.8,1093.1 1050.5,1091.9C1056.2,1090.7 1064,1087 1067.7,1089.5C1071.3,1091.9 1073.4,1100.5 1072.6,1106.6C1071.7,1112.7 1068.5,1121.3 1062.8,1126.2C1057,1131.1 1048.5,1133.6 1038.3,1136C1028,1138.5 1011.7,1141.7 1001.5,1140.9C991.3,1140.1 979.5,1135.2 977,1131.1C974.6,1127 987.2,1119.7 986.8,1116.4C986.4,1113.1 977.8,1116.4 974.6,1111.5C971.3,1106.6 966.8,1093.5 967.2,1087Z" fill="#1a4cfb" filter="url(#bl7)" opacity="0.8"/>
<path d="M1099.5,1121.3C1096.2,1112.3 1084.8,1121.7 1079.9,1126.2C1075,1130.7 1070.9,1140.5 1070.1,1148.3C1069.3,1156 1072.6,1165.8 1075,1172.8C1077.5,1179.7 1080.7,1188.7 1084.8,1189.9C1088.9,1191.1 1097.1,1191.5 1099.5,1180.1C1102,1168.7 1102.8,1130.3 1099.5,1121.3Z" fill="url(#bb)" filter="url(#bl2)"/>
<path d="M732,1138.5C736.1,1129.9 751.6,1134.8 756.5,1138.5C761.4,1142.1 760.6,1152.7 761.4,1160.5C762.2,1168.3 762.6,1177.7 761.4,1185C760.2,1192.4 759,1203.8 754.1,1204.6C749.2,1205.4 735.7,1200.9 732,1189.9C728.3,1178.9 727.9,1147 732,1138.5Z" fill="url(#bb)" filter="url(#bl2)"/>
<path d="M869.2,1101.7C872.9,1101.7 879.8,1109.9 883.9,1116.4C888,1122.9 892.9,1131.9 893.7,1140.9C894.5,1149.9 893.7,1165 888.8,1170.3C883.9,1175.6 869.4,1177.7 864.3,1172.8C859.2,1167.9 858.6,1150.3 858.2,1140.9C857.8,1131.5 860,1122.9 861.9,1116.4C863.7,1109.9 865.5,1101.7 869.2,1101.7Z" fill="url(#bb)" filter="url(#bl2)"/>
<path d="M875.3,1189.9C878.8,1189.9 884.9,1200.9 886.4,1204.6C887.8,1208.3 887.4,1210.3 883.9,1212C880.4,1213.6 868.6,1215.6 865.5,1214.4C862.5,1213.2 863.9,1208.7 865.5,1204.6C867.2,1200.5 871.9,1189.9 875.3,1189.9Z" fill="url(#bb)" filter="url(#bl1)"/>
<path d="M898.6,1199.7C900.2,1200.5 901.5,1208.3 903.5,1212C905.5,1215.6 910.4,1219.3 910.9,1221.8C911.3,1224.2 908,1226.7 906,1226.7C903.9,1226.7 900.6,1225 898.6,1221.8C896.6,1218.5 893.7,1210.7 893.7,1207.1C893.7,1203.4 897,1198.9 898.6,1199.7Z" fill="url(#bb)" filter="url(#bl2)"/>
<path d="M804.3,1253.6C807.1,1250.9 818.4,1251.2 825.1,1249.9C831.8,1248.7 839,1248.9 844.7,1246.3C850.4,1243.6 856.1,1235.2 859.4,1234C862.7,1232.8 865.1,1235.2 864.3,1238.9C863.5,1242.6 858.6,1251.2 854.5,1256.1C850.4,1261 845.5,1265.4 839.8,1268.3C834.1,1271.2 825.5,1273.6 820.2,1273.2C814.9,1272.8 810.6,1269.1 808,1265.9C805.3,1262.6 801.4,1256.3 804.3,1253.6Z" fill="url(#bb)" filter="url(#bl1)"/>
<path d="M857,1259.7C860,1256.7 869.6,1262.8 876.6,1262.2C883.5,1261.6 894.7,1253.4 898.6,1256.1C902.5,1258.7 900.6,1271.2 899.8,1278.1C899,1285 897.2,1292.8 893.7,1297.7C890.2,1302.6 883.9,1307.1 879,1307.5C874.1,1307.9 867.8,1304.6 864.3,1300.2C860.8,1295.7 859.4,1287.3 858.2,1280.6C857,1273.8 853.9,1262.8 857,1259.7Z" fill="url(#bb)" filter="url(#bl1)"/>
<ellipse cx="875" cy="1309.2" rx="25.4" ry="4.6" fill="#0a8cf2" filter="url(#bl2)" opacity="0.8"/>
<ellipse cx="879.6" cy="1327.7" rx="34.6" ry="18.5" fill="#0b74f4" filter="url(#bl4)" opacity="0.6"/>
<path d="M974.2,1318.4C976.9,1313 986.1,1309.6 992.7,1309.2C999.2,1308.8 1008.8,1311.5 1013.4,1316.1C1018,1320.7 1023,1331.5 1020.4,1336.9C1017.7,1342.3 1004.6,1347.7 997.3,1348.4C990,1349.2 980.4,1346.5 976.5,1341.5C972.7,1336.5 971.5,1323.8 974.2,1318.4Z" fill="#2a50fb" filter="url(#bl4)" opacity="0.3"/>
<ellipse cx="740" cy="1182" rx="16" ry="20" fill="url(#hg)"/>
<ellipse cx="1092" cy="1165" rx="13" ry="22" fill="url(#hg)"/>
<ellipse cx="1052" cy="1108" rx="13" ry="11" fill="url(#hg)"/>
<ellipse cx="1052" cy="1005" rx="8" ry="16" fill="url(#hc)"/>
<ellipse cx="738" cy="1309" rx="20" ry="12" fill="url(#hg)"/>
<ellipse cx="1093" cy="1294" rx="15" ry="11" fill="url(#hg)"/>
</g>
<path class="w" d="M737.7,802 L871,763.4 L1094,787.4 L1028,804.7 L915.5,795 L849.5,812.7 Z M737.7,1483.5 L849.5,1493 L915.5,1475.5 L1028,1485 L1094,1468.5 M737.7,802 L737.7,1483.5 M1094,787.4 L1094,1468.5 M849.5,812.7 L849.5,1493 M915.5,795 L915.5,1475.5 M1028,804.7 L1028,1485"/>
</g>
<g id="bot4">
<clipPath id="bc3"><polygon points="1105.5,802 1239,763.4 1461.3,787.4 1461.3,1468.5 1395.5,1485 1283.5,1475.5 1217.5,1493 1105.5,1483.5"/></clipPath>
<path class="w" d="M1239,763.4 L1239,1445"/>
<mask id="bm3" maskUnits="userSpaceOnUse" x="1095.5" y="753.4" width="375.8" height="749.6">
<rect x="1095.5" y="753.4" width="375.8" height="749.6" fill="#fff"/>
<path d="M1085.3,979.2C1089,979.2 1100.8,978.8 1107.4,979.2C1113.9,979.6 1119.2,980.8 1124.5,981.7C1129.8,982.5 1135.9,981.7 1139.2,984.1C1142.5,986.6 1140.4,993.5 1144.1,996.4C1147.8,999.2 1155.5,1001.7 1161.3,1001.3C1167,1000.8 1173.9,993.9 1178.4,993.9C1182.9,993.9 1184.9,995.9 1188.2,1001.3C1191.5,1006.6 1194.3,1022.1 1198,1025.8C1201.7,1029.4 1207,1025.3 1210.3,1023.3C1213.5,1021.3 1213.1,1017.2 1217.6,1013.5C1222.1,1009.8 1230.7,1003.7 1237.2,1001.3C1243.7,998.8 1251.9,998 1256.8,998.8C1261.7,999.6 1262.1,1004.1 1266.6,1006.2C1271.1,1008.2 1278.4,1011.1 1283.8,1011.1C1289.1,1011.1 1294.8,1009.8 1298.5,1006.2C1302.1,1002.5 1302.9,994.7 1305.8,989C1308.7,983.3 1311.1,975.5 1315.6,971.9C1320.1,968.2 1325.8,965.3 1332.8,967C1339.7,968.6 1349.1,975.9 1357.3,981.7C1365.4,987.4 1375.2,995.5 1381.8,1001.3C1388.3,1007 1392,1010.2 1396.5,1016C1400.9,1021.7 1405.4,1030.2 1408.7,1035.6C1412,1040.9 1413.2,1048.2 1416.1,1047.8C1418.9,1047.4 1421.4,1040.5 1425.9,1033.1C1430.3,1025.8 1438.1,1013.1 1443,1003.7C1447.9,994.3 1452.2,983.3 1455.3,976.8C1458.3,970.2 1456.9,967.4 1461.4,964.5C1465.9,961.6 1478.7,960.4 1482.2,959.6L1482.9,1378.4C1479.3,1378.4 1465.6,1379.6 1461,1378.4C1456.4,1377.3 1458.5,1373.8 1455.2,1371.5C1452,1369.2 1446.8,1366.1 1441.4,1364.6C1436,1363 1429.9,1363.4 1423,1362.3C1416,1361.1 1405.7,1357.6 1399.9,1357.6C1394.1,1357.6 1392.2,1358.8 1388.4,1362.3C1384.5,1365.7 1380.7,1372.6 1376.8,1378.4C1373,1384.2 1369.1,1391.9 1365.3,1396.9C1361.4,1401.9 1358,1404.9 1353.7,1408.4C1349.5,1411.9 1343.8,1417.2 1339.9,1417.6C1336.1,1418 1333.8,1414.2 1330.7,1410.7C1327.6,1407.2 1324.5,1400.3 1321.5,1396.9C1318.4,1393.4 1315.7,1391.9 1312.2,1389.9C1308.8,1388 1303.8,1387.3 1300.7,1385.3C1297.6,1383.4 1295.7,1381.9 1293.8,1378.4C1291.8,1374.9 1288.8,1367.6 1289.2,1364.6C1289.5,1361.5 1294.9,1362.3 1296.1,1360C1297.2,1357.6 1298,1353.4 1296.1,1350.7C1294.2,1348 1285.3,1346.5 1284.5,1343.8C1283.8,1341.1 1290.7,1337.3 1291.5,1334.6C1292.2,1331.9 1291.8,1328.6 1289.2,1327.7C1286.5,1326.7 1279.5,1327.3 1275.3,1328.8C1271.1,1330.3 1268,1336.3 1263.8,1336.9C1259.6,1337.5 1255.7,1333.4 1249.9,1332.3C1244.2,1331.1 1235.3,1329.6 1229.2,1330C1223,1330.3 1216.5,1331.5 1213,1334.6C1209.6,1337.7 1210,1343.8 1208.4,1348.4C1206.9,1353 1207.3,1360.1 1203.8,1362.3C1200.3,1364.4 1192.7,1360.7 1187.7,1361.1C1182.7,1361.5 1178.8,1363.2 1173.8,1364.6C1168.8,1365.9 1164.2,1367.3 1157.7,1369.2C1151.1,1371.1 1141.9,1374.2 1134.6,1376.1C1127.3,1378 1118.5,1378.4 1113.8,1380.7C1109.2,1383 1111.5,1388.4 1106.9,1389.9C1102.3,1391.5 1089.6,1389.9 1086.2,1389.9Z" fill="#000" filter="url(#bl3)"/>
<path d="M1085.3,970.2C1089,970.2 1100.8,969.8 1107.4,970.2C1113.9,970.6 1119.2,971.8 1124.5,972.7C1129.8,973.5 1135.9,972.7 1139.2,975.1C1142.5,977.6 1140.4,984.5 1144.1,987.4C1147.8,990.2 1155.5,992.7 1161.3,992.3C1167,991.8 1173.9,984.9 1178.4,984.9C1182.9,984.9 1184.9,986.9 1188.2,992.3C1191.5,997.6 1194.3,1013.1 1198,1016.8C1201.7,1020.4 1207,1016.3 1210.3,1014.3C1213.5,1012.3 1213.1,1008.2 1217.6,1004.5C1222.1,1000.8 1230.7,994.7 1237.2,992.3C1243.7,989.8 1251.9,989 1256.8,989.8C1261.7,990.6 1262.1,995.1 1266.6,997.2C1271.1,999.2 1278.4,1002.1 1283.8,1002.1C1289.1,1002.1 1294.8,1000.8 1298.5,997.2C1302.1,993.5 1302.9,985.7 1305.8,980C1308.7,974.3 1311.1,966.5 1315.6,962.9C1320.1,959.2 1325.8,956.3 1332.8,958C1339.7,959.6 1349.1,966.9 1357.3,972.7C1365.4,978.4 1375.2,986.5 1381.8,992.3C1388.3,998 1392,1001.2 1396.5,1007C1400.9,1012.7 1405.4,1021.2 1408.7,1026.6C1412,1031.9 1413.2,1039.2 1416.1,1038.8C1418.9,1038.4 1421.4,1031.5 1425.9,1024.1C1430.3,1016.8 1438.1,1004.1 1443,994.7C1447.9,985.3 1452.2,974.3 1455.3,967.8C1458.3,961.2 1456.9,958.4 1461.4,955.5C1465.9,952.6 1478.7,951.4 1482.2,950.6L1482.9,1385.4C1479.3,1385.4 1465.6,1386.6 1461,1385.4C1456.4,1384.3 1458.5,1380.8 1455.2,1378.5C1452,1376.2 1446.8,1373.1 1441.4,1371.6C1436,1370 1429.9,1370.4 1423,1369.3C1416,1368.1 1405.7,1364.6 1399.9,1364.6C1394.1,1364.6 1392.2,1365.8 1388.4,1369.3C1384.5,1372.7 1380.7,1379.6 1376.8,1385.4C1373,1391.2 1369.1,1398.9 1365.3,1403.9C1361.4,1408.9 1358,1411.9 1353.7,1415.4C1349.5,1418.9 1343.8,1424.2 1339.9,1424.6C1336.1,1425 1333.8,1421.2 1330.7,1417.7C1327.6,1414.2 1324.5,1407.3 1321.5,1403.9C1318.4,1400.4 1315.7,1398.9 1312.2,1396.9C1308.8,1395 1303.8,1394.3 1300.7,1392.3C1297.6,1390.4 1295.7,1388.9 1293.8,1385.4C1291.8,1381.9 1288.8,1374.6 1289.2,1371.6C1289.5,1368.5 1294.9,1369.3 1296.1,1367C1297.2,1364.6 1298,1360.4 1296.1,1357.7C1294.2,1355 1285.3,1353.5 1284.5,1350.8C1283.8,1348.1 1290.7,1344.3 1291.5,1341.6C1292.2,1338.9 1291.8,1335.6 1289.2,1334.7C1286.5,1333.7 1279.5,1334.3 1275.3,1335.8C1271.1,1337.3 1268,1343.3 1263.8,1343.9C1259.6,1344.5 1255.7,1340.4 1249.9,1339.3C1244.2,1338.1 1235.3,1336.6 1229.2,1337C1223,1337.3 1216.5,1338.5 1213,1341.6C1209.6,1344.7 1210,1350.8 1208.4,1355.4C1206.9,1360 1207.3,1367.1 1203.8,1369.3C1200.3,1371.4 1192.7,1367.7 1187.7,1368.1C1182.7,1368.5 1178.8,1370.2 1173.8,1371.6C1168.8,1372.9 1164.2,1374.3 1157.7,1376.2C1151.1,1378.1 1141.9,1381.2 1134.6,1383.1C1127.3,1385 1118.5,1385.4 1113.8,1387.7C1109.2,1390 1111.5,1395.4 1106.9,1396.9C1102.3,1398.5 1089.6,1396.9 1086.2,1396.9Z" fill="#000" filter="url(#bl7)" opacity="0.4"/>
<rect x="1104.5" y="800" width="17" height="685.5" fill="url(#efl)"/>
<rect x="1445.3" y="785.4" width="17" height="685.1" fill="url(#efr)"/>
<path d="M1105.5,1483.5 L1217.5,1493 L1283.5,1475.5 L1395.5,1485 L1461.3,1468.5" stroke="#000" stroke-width="5" stroke-opacity="0.5" fill="none" filter="url(#bl2)"/>
<path d="M1113.5,801 L1219,769.9" stroke="#000" stroke-width="5" stroke-opacity="0.4" fill="none" filter="url(#bl2)"/>
<path d="M1329,774.4 L1449.3,788.9" stroke="#000" stroke-width="4" stroke-opacity="0.3" fill="none" filter="url(#bl2)"/>
</mask>
<g mask="url(#bm3)"><polygon points="1105.5,802 1239,763.4 1461.3,787.4 1461.3,1468.5 1395.5,1485 1283.5,1475.5 1217.5,1493 1105.5,1483.5" fill="#0b36fe"/>
<path d="M1239,763.4 L1239,1445 M1105.5,1483.5 L1239,1445 L1461.3,1468.5" stroke="#0018d8" stroke-width="1.6" stroke-opacity="0.45" fill="none"/>
</g>
<g clip-path="url(#bc3)">
<ellipse cx="1160" cy="1039.2" rx="13.5" ry="4.9" fill="url(#bb)" filter="url(#bl1)"/>
<path d="M1166.2,1047.8C1170.2,1042.9 1179.2,1041.3 1185.8,1040.5C1192.3,1039.6 1200,1040.5 1205.4,1042.9C1210.7,1045.4 1214.7,1050.3 1217.6,1055.2C1220.5,1060.1 1222.1,1066.2 1222.5,1072.3C1222.9,1078.4 1218.4,1088.2 1220.1,1091.9C1221.7,1095.6 1229.9,1091.5 1232.3,1094.4C1234.8,1097.2 1235.6,1104.2 1234.8,1109.1C1233.9,1114 1232.3,1120.1 1227.4,1123.8C1222.5,1127.4 1211.5,1130.7 1205.4,1131.1C1199.2,1131.5 1193.9,1129.9 1190.7,1126.2C1187.4,1122.5 1189.4,1111.9 1185.8,1109.1C1182.1,1106.2 1175.1,1107 1168.6,1109.1C1162.1,1111.1 1152.3,1121.7 1146.6,1121.3C1140.8,1120.9 1136.3,1112.3 1134.3,1106.6C1132.3,1100.9 1131.9,1091.1 1134.3,1087C1136.8,1082.9 1144.5,1085 1149,1082.1C1153.5,1079.2 1158.4,1075.6 1161.3,1069.9C1164.1,1064.1 1162.1,1052.7 1166.2,1047.8Z" fill="#0c50f8" filter="url(#bl3)"/>
<path d="M1225,1044.1C1225.4,1043.7 1232.7,1048.2 1237.2,1049C1241.7,1049.8 1250.3,1048.3 1251.9,1049C1253.5,1049.7 1249.9,1052.8 1247,1053.2C1244.1,1053.6 1238.4,1053 1234.8,1051.5C1231.1,1050 1224.5,1044.5 1225,1044.1Z" fill="#0b36fe" filter="url(#bl1)"/>
<path d="M1260.5,1057.6C1261.3,1054.9 1266.8,1054.5 1271.5,1053.9C1276.2,1053.3 1284.2,1053.1 1288.7,1053.9C1293.1,1054.7 1297.6,1056.2 1298.5,1058.8C1299.3,1061.5 1296.8,1067.2 1293.6,1069.9C1290.3,1072.5 1283.3,1074.8 1278.9,1074.8C1274.4,1074.8 1269.7,1072.7 1266.6,1069.9C1263.5,1067 1259.7,1060.3 1260.5,1057.6Z" fill="url(#bb)" filter="url(#bl1)"/>
<path d="M1239.7,1115.2C1243.1,1115.2 1248.8,1121.5 1251.9,1126.2C1255,1130.9 1257.6,1136 1258,1143.4C1258.4,1150.7 1258.6,1165.6 1254.4,1170.3C1250.1,1175 1236.8,1176 1232.3,1171.5C1227.8,1167 1227.6,1150.9 1227.4,1143.4C1227.2,1135.8 1229,1130.9 1231.1,1126.2C1233.1,1121.5 1236.2,1115.2 1239.7,1115.2Z" fill="url(#bb)" filter="url(#bl2)"/>
<ellipse cx="1242.1" cy="1202.6" rx="8.6" ry="7.8" fill="url(#bb)" filter="url(#bl1)"/>
<path d="M1394,1128.7C1394.4,1124.8 1397.3,1123.8 1401.4,1122.5C1405.4,1121.3 1413,1122.7 1418.5,1121.3C1424,1119.9 1431.6,1112.3 1434.4,1114C1437.3,1115.6 1436.7,1125.8 1435.7,1131.1C1434.6,1136.4 1432,1142.1 1428.3,1145.8C1424.6,1149.5 1418.5,1153.2 1413.6,1153.2C1408.7,1153.2 1402.2,1149.9 1398.9,1145.8C1395.6,1141.7 1393.6,1132.5 1394,1128.7Z" fill="url(#bb)" filter="url(#bl2)"/>
<path d="M1467.5,1136C1464.6,1130.3 1454.8,1137.2 1450.4,1140.9C1445.9,1144.6 1441.4,1152.3 1440.6,1158.1C1439.7,1163.8 1443.6,1170.3 1445.5,1175.2C1447.3,1180.1 1447.9,1187.5 1451.6,1187.5C1455.3,1187.5 1464.8,1183.8 1467.5,1175.2C1470.2,1166.6 1470.4,1141.7 1467.5,1136Z" fill="url(#bb)" filter="url(#bl2)"/>
<path d="M1100,1153.2C1103.7,1147.2 1117.6,1150.7 1122.1,1154.4C1126.5,1158.1 1127.2,1167.2 1127,1175.2C1126.7,1183.2 1125.3,1199.7 1120.8,1202.2C1116.3,1204.6 1103.5,1198.1 1100,1189.9C1096.5,1181.7 1096.3,1159.1 1100,1153.2Z" fill="url(#bb)" filter="url(#bl2)"/>
<ellipse cx="1201.7" cy="1278.1" rx="9.3" ry="2.5" fill="url(#bb)" transform="rotate(-15 1201.7 1278.1)" filter="url(#bl1)"/>
<path d="M1225,1290.4C1227.6,1288.7 1235.8,1293.8 1242.1,1292.8C1248.4,1291.8 1259.5,1283 1262.9,1284.2C1266.4,1285.5 1264.8,1295.5 1262.9,1300.2C1261.1,1304.8 1256.6,1310.4 1251.9,1312.4C1247.2,1314.4 1239,1314 1234.8,1312.4C1230.5,1310.8 1227.8,1306.3 1226.2,1302.6C1224.5,1298.9 1222.3,1292 1225,1290.4Z" fill="url(#bb)" filter="url(#bl1)"/>
<ellipse cx="1352.4" cy="1109.1" rx="7.4" ry="6.1" fill="#5070ff" filter="url(#bl3)" opacity="0.3"/>
<ellipse cx="1390.3" cy="1094.4" rx="4.4" ry="14.7" fill="#3060ff" filter="url(#bl3)" opacity="0.4"/>
<ellipse cx="1364.1" cy="1349.6" rx="8.1" ry="8.1" fill="#5070ff" filter="url(#bl3)" opacity="0.25"/>
<ellipse cx="1156.4" cy="986.6" rx="17.2" ry="12.3" fill="#0b74f4" filter="url(#bl4)" opacity="0.6"/>
<ellipse cx="1278.9" cy="996.4" rx="14.7" ry="12.3" fill="#0b74f4" filter="url(#bl4)" opacity="0.5"/>
<ellipse cx="1240.7" cy="1339.2" rx="23.1" ry="5.1" fill="#0a9cf2" filter="url(#bl2)" opacity="0.8"/>
<ellipse cx="1247.6" cy="1360" rx="39.2" ry="20.8" fill="#0b74f4" filter="url(#bl4)" opacity="0.6"/>
<ellipse cx="1187.7" cy="1365.7" rx="11.5" ry="5.8" fill="#0b74f4" filter="url(#bl3)" opacity="0.6"/>
<ellipse cx="1307.6" cy="1401.5" rx="10.4" ry="6.9" fill="#0a8cf2" filter="url(#bl3)" opacity="0.7"/>
<ellipse cx="1107" cy="1179" rx="15" ry="20" fill="url(#hr)"/>
<ellipse cx="1460" cy="1164" rx="12" ry="22" fill="url(#hy)"/>
<ellipse cx="1418" cy="1133" rx="14" ry="11" fill="url(#hg)"/>
<ellipse cx="1423" cy="1008" rx="8" ry="17" fill="url(#hg2)"/>
<ellipse cx="1106" cy="1332" rx="20" ry="11" fill="url(#hg)"/>
<ellipse cx="1461" cy="1320" rx="16" ry="11" fill="url(#hg)"/>
<ellipse cx="1459" cy="1317" rx="14" ry="10" fill="url(#hg)"/>
</g>
<path class="w" d="M1105.5,802 L1239,763.4 L1461.3,787.4 L1395.5,804.7 L1283.5,795 L1217.5,812.7 Z M1105.5,1483.5 L1217.5,1493 L1283.5,1475.5 L1395.5,1485 L1461.3,1468.5 M1105.5,802 L1105.5,1483.5 M1461.3,787.4 L1461.3,1468.5 M1217.5,812.7 L1217.5,1493 M1283.5,795 L1283.5,1475.5 M1395.5,804.7 L1395.5,1485"/>
</g>
<text class="ts" x="126" y="1547.3" letter-spacing="1.5">4.5 ns</text>
<text class="ts" x="492" y="1547.3" letter-spacing="1.5">4.8 ns</text>
<text class="ts" x="859.3" y="1547.3" letter-spacing="1.5">5.1 ns</text>
<text class="ts" x="1226" y="1547.3" letter-spacing="1.5">5.4 ns</text>
<path d="M22.7,70 L22.7,690" stroke="#000" stroke-width="2.3" fill="none"/>
<path d="M22.7,56 L33.5,87.6 L12.2,87.6 Z" fill="#000"/>
<path d="M21.5,700 L32.2,667 L10.3,667 Z" fill="#000"/>
<text class="ta" font-size="46" transform="translate(64,348) rotate(-90)" text-anchor="middle">4 mm</text>
<path d="M28.5,1060 L28.5,1261" stroke="#000" stroke-width="2.3" fill="none"/>
<path d="M28.2,1041 L39.3,1074 L17,1074 Z" fill="#000"/>
<text class="ta" font-size="46" transform="translate(71.3,1158.5) rotate(-90) scale(0.9,1)" text-anchor="middle">E</text>
<rect x="1481" y="230.7" width="15.299999999999955" height="286.7" fill="#c8c8c8"/>
<path d="M1481,235.7 L1481.6,235.7 L1496.3,511.4 L1496.3,517.4 Z" fill="#000"/>
<path d="M1481,235.7 L1496.3,517.4 L1481,517.4 Z" fill="#000"/>
<rect x="1496.3" y="230.7" width="15.700000000000045" height="286.7" fill="url(#rb)"/>
<path d="M1512,230.7 h7.5" stroke="#8c8c8c" stroke-width="1.1" fill="none"/>
<path d="M1512,374.2 h7.5" stroke="#8c8c8c" stroke-width="1.1" fill="none"/>
<path d="M1512,517.3 h7.5" stroke="#8c8c8c" stroke-width="1.1" fill="none"/>
<text class="ta" font-size="36" transform="translate(1521.5,243.6) scale(0.85,1)">10</text>
<text class="ta" font-size="36" transform="translate(1521.8,387) scale(0.85,1)">1.0</text>
<text class="ta" font-size="36" transform="translate(1518.4,530.2) scale(0.85,1)">0.1</text>
<text class="ta" font-size="23.5" letter-spacing="0.7" transform="translate(1594.6,517.5) rotate(-90)">electron density (10<tspan font-size="16.5" dy="-9.5">13</tspan><tspan dy="9.5">cm</tspan><tspan font-size="16.5" dy="-9.5">-3</tspan><tspan dy="9.5">)</tspan></text>
<rect x="1481" y="967.2" width="16.700000000000045" height="318.79999999999995" fill="#c8c8c8"/>
<path d="M1481,972.2 L1481.6,972.2 L1497.7,1280 L1497.7,1286 Z" fill="#000"/>
<path d="M1481,972.2 L1497.7,1286 L1481,1286 Z" fill="#000"/>
<rect x="1497.7" y="967.2" width="17.299999999999955" height="318.79999999999995" fill="url(#rb)"/>
<path d="M1515,967.2 h7.5" stroke="#8c8c8c" stroke-width="1.1" fill="none"/>
<path d="M1515,1120 h7.5" stroke="#8c8c8c" stroke-width="1.1" fill="none"/>
<path d="M1515,1286 h7.5" stroke="#8c8c8c" stroke-width="1.1" fill="none"/>
<text class="ta" font-size="39" transform="translate(1527.3,981.3) scale(0.85,1)">10</text>
<text class="ta" font-size="39" transform="translate(1526.2,1132.1) scale(0.85,1)">8</text>
<text class="ta" font-size="39" transform="translate(1526.2,1302.6) scale(0.85,1)">6</text>
<text class="ta" font-size="26" letter-spacing="0.55" transform="translate(1594.6,1258.6) rotate(-90)">electric field (MV/m)</text>
</svg>
</body></html>
